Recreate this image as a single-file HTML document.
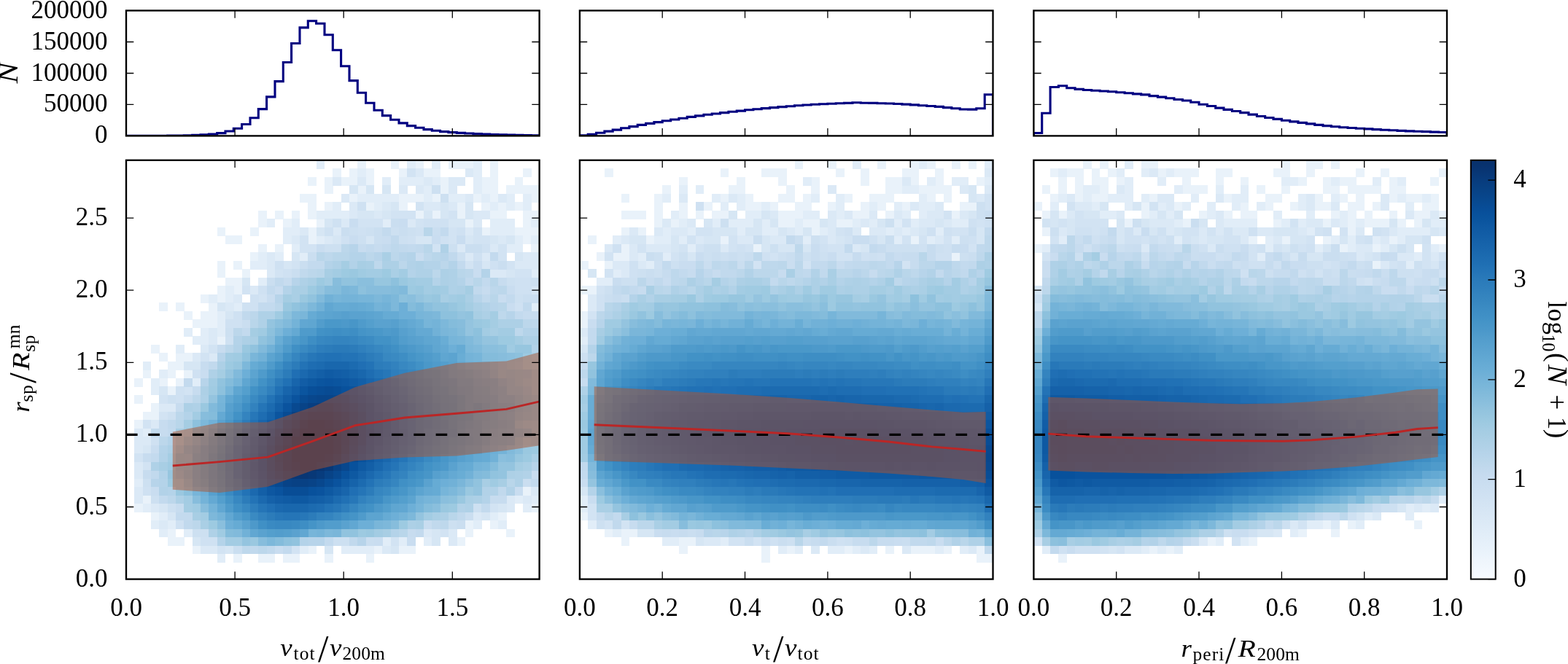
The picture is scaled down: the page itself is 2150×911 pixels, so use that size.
<!DOCTYPE html>
<html><head><meta charset="utf-8"><title>figure</title>
<style>html,body{margin:0;padding:0;background:#fff}body{width:2150px;height:911px;overflow:hidden}</style></head>
<body>
<svg width="2150" height="911" viewBox="0 0 2150 911" style="display:block">
<rect width="2150" height="911" fill="#fff"/>
<defs>
<clipPath id="c0"><rect x="173.0" y="219.8" width="566.6" height="574.8"/></clipPath>
<clipPath id="t0"><rect x="173.0" y="14.5" width="566.6" height="171.9"/></clipPath>
<clipPath id="c1"><rect x="794.9" y="219.8" width="566.6" height="574.8"/></clipPath>
<clipPath id="t1"><rect x="794.9" y="14.5" width="566.6" height="171.9"/></clipPath>
<clipPath id="c2"><rect x="1417.4" y="219.8" width="566.6" height="574.8"/></clipPath>
<clipPath id="t2"><rect x="1417.4" y="14.5" width="566.6" height="171.9"/></clipPath>
<linearGradient id="cb" x1="0" y1="1" x2="0" y2="0"><stop offset="0.0000" stop-color="#f7fbff"/><stop offset="0.0156" stop-color="#f4f9fe"/><stop offset="0.0312" stop-color="#f1f7fd"/><stop offset="0.0469" stop-color="#eef5fc"/><stop offset="0.0625" stop-color="#eaf3fb"/><stop offset="0.0781" stop-color="#e7f1fa"/><stop offset="0.0938" stop-color="#e4eff9"/><stop offset="0.1094" stop-color="#e1edf8"/><stop offset="0.1250" stop-color="#deebf7"/><stop offset="0.1406" stop-color="#dbe9f6"/><stop offset="0.1562" stop-color="#d8e7f5"/><stop offset="0.1719" stop-color="#d5e5f4"/><stop offset="0.1875" stop-color="#d2e3f3"/><stop offset="0.2031" stop-color="#cfe1f2"/><stop offset="0.2188" stop-color="#ccdff1"/><stop offset="0.2344" stop-color="#c9ddf0"/><stop offset="0.2500" stop-color="#c6dbef"/><stop offset="0.2656" stop-color="#c1d9ed"/><stop offset="0.2812" stop-color="#bcd7eb"/><stop offset="0.2969" stop-color="#b7d4ea"/><stop offset="0.3125" stop-color="#b2d2e8"/><stop offset="0.3281" stop-color="#add0e6"/><stop offset="0.3438" stop-color="#a8cee4"/><stop offset="0.3594" stop-color="#a3cce3"/><stop offset="0.3750" stop-color="#9dcae1"/><stop offset="0.3906" stop-color="#97c6df"/><stop offset="0.4062" stop-color="#91c3de"/><stop offset="0.4219" stop-color="#8abfdd"/><stop offset="0.4375" stop-color="#84bcdb"/><stop offset="0.4531" stop-color="#7db8da"/><stop offset="0.4688" stop-color="#77b5d9"/><stop offset="0.4844" stop-color="#71b1d7"/><stop offset="0.5000" stop-color="#6aaed6"/><stop offset="0.5156" stop-color="#65aad4"/><stop offset="0.5312" stop-color="#60a7d2"/><stop offset="0.5469" stop-color="#5ba3d0"/><stop offset="0.5625" stop-color="#56a0ce"/><stop offset="0.5781" stop-color="#519ccc"/><stop offset="0.5938" stop-color="#4b98ca"/><stop offset="0.6094" stop-color="#4695c8"/><stop offset="0.6250" stop-color="#4191c6"/><stop offset="0.6406" stop-color="#3d8dc4"/><stop offset="0.6562" stop-color="#3989c1"/><stop offset="0.6719" stop-color="#3585bf"/><stop offset="0.6875" stop-color="#3181bd"/><stop offset="0.7031" stop-color="#2d7dbb"/><stop offset="0.7188" stop-color="#2979b9"/><stop offset="0.7344" stop-color="#2474b7"/><stop offset="0.7500" stop-color="#2070b4"/><stop offset="0.7656" stop-color="#1d6cb1"/><stop offset="0.7812" stop-color="#1a68ae"/><stop offset="0.7969" stop-color="#1764ab"/><stop offset="0.8125" stop-color="#1460a8"/><stop offset="0.8281" stop-color="#115ca5"/><stop offset="0.8438" stop-color="#0e58a2"/><stop offset="0.8594" stop-color="#0a549e"/><stop offset="0.8750" stop-color="#08509b"/><stop offset="0.8906" stop-color="#084c95"/><stop offset="0.9062" stop-color="#08488e"/><stop offset="0.9219" stop-color="#084488"/><stop offset="0.9375" stop-color="#084082"/><stop offset="0.9531" stop-color="#083c7d"/><stop offset="0.9688" stop-color="#083776"/><stop offset="0.9844" stop-color="#083370"/><stop offset="1.0000" stop-color="#08306b"/></linearGradient>
</defs>
<g clip-path="url(#c0)" shape-rendering="crispEdges">
<path fill="#e9f2fa" d="M320.3,760.1h11.7v11.8h-11.7zM354.3,760.1h23v11.8h-23zM388.3,760.1h23v11.8h-23zM445,760.1h11.7v11.8h-11.7zM501.6,760.1h11.7v11.8h-11.7zM263.7,748.6h11.7v11.8h-11.7zM422.3,748.6h11.7v11.8h-11.7zM513,748.6h11.7v11.8h-11.7zM547,748.6h23v11.8h-23zM229.7,737.1h23v11.8h-23zM626.3,737.1h11.7v11.8h-11.7zM229.7,725.6h11.7v11.8h-11.7zM637.6,725.6h11.7v11.8h-11.7zM694.3,725.6h11.7v11.8h-11.7zM637.6,714.1h11.7v11.8h-11.7zM671.6,714.1h11.7v11.8h-11.7zM207,702.6h11.7v11.8h-11.7zM682.9,702.6h11.7v11.8h-11.7zM184.3,691.1h11.7v11.8h-11.7zM728.3,691.1h11.7v11.8h-11.7zM195.7,679.6h11.7v11.8h-11.7zM716.9,668.1h11.7v11.8h-11.7zM184.3,576.2h11.7v11.8h-11.7zM195.7,564.7h23v11.8h-23zM207,553.2h11.7v11.8h-11.7zM184.3,541.7h11.7v11.8h-11.7zM229.7,530.2h11.7v11.8h-11.7zM184.3,518.7h11.7v11.8h-11.7zM218.3,518.7h11.7v11.8h-11.7zM241,518.7h11.7v11.8h-11.7zM195.7,507.2h11.7v11.8h-11.7zM229.7,507.2h11.7v11.8h-11.7zM252.3,507.2h11.7v11.8h-11.7zM229.7,495.7h23v11.8h-23zM218.3,484.2h11.7v11.8h-11.7zM241,484.2h23v11.8h-23zM207,472.7h11.7v11.8h-11.7zM297.7,461.2h11.7v11.8h-11.7zM263.7,438.2h34.3v11.8h-34.3zM252.3,426.7h11.7v11.8h-11.7zM275,426.7h23v11.8h-23zM218.3,415.2h11.7v11.8h-11.7zM241,415.2h11.7v11.8h-11.7zM286.3,415.2h11.7v11.8h-11.7zM275,403.7h11.7v11.8h-11.7zM297.7,403.7h11.7v11.8h-11.7zM297.7,392.2h11.7v11.8h-11.7zM320.3,392.2h11.7v11.8h-11.7zM309,380.7h23v11.8h-23zM297.7,369.2h11.7v11.8h-11.7zM331.6,369.2h11.7v11.8h-11.7zM297.7,357.8h11.7v11.8h-11.7zM320.3,357.8h11.7v11.8h-11.7zM343,346.3h11.7v11.8h-11.7zM354.3,334.8h11.7v11.8h-11.7zM377,334.8h11.7v11.8h-11.7zM728.3,334.8h11.7v11.8h-11.7zM309,323.3h23v11.8h-23zM422.3,323.3h11.7v11.8h-11.7zM716.9,323.3h11.7v11.8h-11.7zM297.7,311.8h11.7v11.8h-11.7zM343,311.8h11.7v11.8h-11.7zM422.3,311.8h11.7v11.8h-11.7zM660.3,311.8h11.7v11.8h-11.7zM705.6,311.8h34.3v11.8h-34.3zM354.3,300.3h11.7v11.8h-11.7zM388.3,300.3h11.7v11.8h-11.7zM433.6,300.3h11.7v11.8h-11.7zM637.6,300.3h11.7v11.8h-11.7zM716.9,300.3h11.7v11.8h-11.7zM354.3,288.8h11.7v11.8h-11.7zM377,288.8h11.7v11.8h-11.7zM399.6,288.8h11.7v11.8h-11.7zM422.3,288.8h11.7v11.8h-11.7zM569.6,288.8h11.7v11.8h-11.7zM592.3,288.8h11.7v11.8h-11.7zM626.3,288.8h11.7v11.8h-11.7zM671.6,288.8h23v11.8h-23zM716.9,288.8h23v11.8h-23zM422.3,277.3h11.7v11.8h-11.7zM445,277.3h11.7v11.8h-11.7zM501.6,277.3h11.7v11.8h-11.7zM547,277.3h11.7v11.8h-11.7zM626.3,277.3h11.7v11.8h-11.7zM660.3,277.3h11.7v11.8h-11.7zM682.9,277.3h11.7v11.8h-11.7zM705.6,277.3h11.7v11.8h-11.7zM411,265.8h23v11.8h-23zM479,265.8h11.7v11.8h-11.7zM547,265.8h34.3v11.8h-34.3zM592.3,265.8h11.7v11.8h-11.7zM648.9,265.8h11.7v11.8h-11.7zM671.6,265.8h11.7v11.8h-11.7zM728.3,265.8h11.7v11.8h-11.7zM445,254.3h11.7v11.8h-11.7zM490.3,254.3h11.7v11.8h-11.7zM603.6,254.3h11.7v11.8h-11.7zM660.3,254.3h23v11.8h-23zM694.3,254.3h45.7v11.8h-45.7zM422.3,242.8h11.7v11.8h-11.7zM445,242.8h11.7v11.8h-11.7zM467.6,242.8h23v11.8h-23zM501.6,242.8h11.7v11.8h-11.7zM603.6,242.8h11.7v11.8h-11.7zM660.3,242.8h23v11.8h-23zM705.6,242.8h11.7v11.8h-11.7zM456.3,231.3h11.7v11.8h-11.7zM479,231.3h11.7v11.8h-11.7zM501.6,231.3h11.7v11.8h-11.7zM547,231.3h11.7v11.8h-11.7zM581,231.3h23v11.8h-23zM671.6,231.3h11.7v11.8h-11.7zM716.9,231.3h11.7v11.8h-11.7zM490.3,219.8h11.7v11.8h-11.7zM535.6,219.8h11.7v11.8h-11.7zM569.6,219.8h11.7v11.8h-11.7zM614.9,219.8h34.3v11.8h-34.3zM671.6,219.8h11.7v11.8h-11.7z"/>
<path fill="#e1edf8" d="M297.7,760.1h11.7v11.8h-11.7zM411,748.6h11.7v11.8h-11.7zM467.6,748.6h45.7v11.8h-45.7zM524.3,737.1h11.7v11.8h-11.7zM547,737.1h11.7v11.8h-11.7zM581,737.1h11.7v11.8h-11.7zM218.3,725.6h11.7v11.8h-11.7zM252.3,725.6h11.7v11.8h-11.7zM207,714.1h11.7v11.8h-11.7zM229.7,714.1h11.7v11.8h-11.7zM648.9,714.1h11.7v11.8h-11.7zM682.9,714.1h11.7v11.8h-11.7zM218.3,702.6h11.7v11.8h-11.7zM671.6,702.6h11.7v11.8h-11.7zM195.7,691.1h11.7v11.8h-11.7zM716.9,691.1h11.7v11.8h-11.7zM705.6,679.6h11.7v11.8h-11.7zM728.3,679.6h11.7v11.8h-11.7zM184.3,656.6h11.7v11.8h-11.7zM195.7,587.7h11.7v11.8h-11.7zM207,530.2h11.7v11.8h-11.7zM207,518.7h11.7v11.8h-11.7zM263.7,518.7h11.7v11.8h-11.7zM218.3,507.2h11.7v11.8h-11.7zM195.7,495.7h11.7v11.8h-11.7zM241,472.7h11.7v11.8h-11.7zM263.7,461.2h23v11.8h-23zM252.3,449.7h11.7v11.8h-11.7zM275,449.7h11.7v11.8h-11.7zM297.7,449.7h11.7v11.8h-11.7zM297.7,438.2h11.7v11.8h-11.7zM297.7,426.7h11.7v11.8h-11.7zM320.3,415.2h11.7v11.8h-11.7zM728.3,415.2h11.7v11.8h-11.7zM286.3,403.7h11.7v11.8h-11.7zM309,403.7h11.7v11.8h-11.7zM309,392.2h11.7v11.8h-11.7zM354.3,380.7h11.7v11.8h-11.7zM728.3,369.2h11.7v11.8h-11.7zM343,357.8h23v11.8h-23zM354.3,346.3h11.7v11.8h-11.7zM377,346.3h11.7v11.8h-11.7zM411,346.3h11.7v11.8h-11.7zM399.6,334.8h11.7v11.8h-11.7zM694.3,334.8h23v11.8h-23zM388.3,323.3h11.7v11.8h-11.7zM433.6,323.3h11.7v11.8h-11.7zM705.6,323.3h11.7v11.8h-11.7zM728.3,323.3h11.7v11.8h-11.7zM388.3,311.8h23v11.8h-23zM671.6,311.8h34.3v11.8h-34.3zM365.6,300.3h11.7v11.8h-11.7zM399.6,300.3h11.7v11.8h-11.7zM524.3,300.3h11.7v11.8h-11.7zM671.6,300.3h34.3v11.8h-34.3zM728.3,300.3h11.7v11.8h-11.7zM433.6,288.8h45.7v11.8h-45.7zM456.3,277.3h11.7v11.8h-11.7zM513,277.3h11.7v11.8h-11.7zM671.6,277.3h11.7v11.8h-11.7zM694.3,277.3h11.7v11.8h-11.7zM716.9,277.3h11.7v11.8h-11.7zM490.3,265.8h57v11.8h-57zM581,265.8h11.7v11.8h-11.7zM614.9,265.8h23v11.8h-23zM660.3,265.8h11.7v11.8h-11.7zM694.3,265.8h11.7v11.8h-11.7zM716.9,265.8h11.7v11.8h-11.7zM581,254.3h11.7v11.8h-11.7zM648.9,254.3h11.7v11.8h-11.7zM524.3,242.8h11.7v11.8h-11.7zM547,242.8h34.3v11.8h-34.3zM592.3,242.8h11.7v11.8h-11.7zM648.9,242.8h11.7v11.8h-11.7zM490.3,231.3h11.7v11.8h-11.7zM648.9,231.3h11.7v11.8h-11.7zM433.6,219.8h11.7v11.8h-11.7zM558.3,219.8h11.7v11.8h-11.7zM592.3,219.8h11.7v11.8h-11.7zM648.9,219.8h11.7v11.8h-11.7z"/>
<path fill="#dbe9f6" d="M275,748.6h23v11.8h-23zM524.3,748.6h11.7v11.8h-11.7zM614.9,737.1h11.7v11.8h-11.7zM581,725.6h11.7v11.8h-11.7zM614.9,725.6h11.7v11.8h-11.7zM218.3,714.1h11.7v11.8h-11.7zM648.9,702.6h11.7v11.8h-11.7zM207,691.1h11.7v11.8h-11.7zM694.3,691.1h11.7v11.8h-11.7zM184.3,679.6h11.7v11.8h-11.7zM694.3,679.6h11.7v11.8h-11.7zM716.9,679.6h11.7v11.8h-11.7zM184.3,668.1h11.7v11.8h-11.7zM728.3,668.1h11.7v11.8h-11.7zM184.3,645.2h11.7v11.8h-11.7zM184.3,633.7h11.7v11.8h-11.7zM184.3,610.7h11.7v11.8h-11.7zM184.3,599.2h23v11.8h-23zM184.3,587.7h11.7v11.8h-11.7zM207,576.2h11.7v11.8h-11.7zM218.3,553.2h23v11.8h-23zM263.7,484.2h11.7v11.8h-11.7zM286.3,484.2h11.7v11.8h-11.7zM275,472.7h11.7v11.8h-11.7zM286.3,461.2h11.7v11.8h-11.7zM286.3,449.7h11.7v11.8h-11.7zM309,415.2h11.7v11.8h-11.7zM320.3,403.7h11.7v11.8h-11.7zM343,392.2h11.7v11.8h-11.7zM365.6,369.2h11.7v11.8h-11.7zM671.6,369.2h23v11.8h-23zM365.6,357.8h11.7v11.8h-11.7zM705.6,357.8h34.3v11.8h-34.3zM365.6,346.3h11.7v11.8h-11.7zM637.6,346.3h11.7v11.8h-11.7zM660.3,346.3h11.7v11.8h-11.7zM716.9,346.3h23v11.8h-23zM626.3,334.8h11.7v11.8h-11.7zM671.6,334.8h11.7v11.8h-11.7zM399.6,323.3h11.7v11.8h-11.7zM445,323.3h11.7v11.8h-11.7zM682.9,323.3h11.7v11.8h-11.7zM411,311.8h11.7v11.8h-11.7zM456.3,311.8h11.7v11.8h-11.7zM637.6,311.8h11.7v11.8h-11.7zM467.6,300.3h11.7v11.8h-11.7zM558.3,300.3h11.7v11.8h-11.7zM648.9,300.3h11.7v11.8h-11.7zM479,288.8h11.7v11.8h-11.7zM513,288.8h11.7v11.8h-11.7zM648.9,288.8h23v11.8h-23zM479,277.3h11.7v11.8h-11.7zM524.3,277.3h11.7v11.8h-11.7zM581,277.3h23v11.8h-23zM614.9,277.3h11.7v11.8h-11.7zM467.6,265.8h11.7v11.8h-11.7zM637.6,265.8h11.7v11.8h-11.7zM682.9,265.8h11.7v11.8h-11.7zM547,254.3h11.7v11.8h-11.7zM569.6,254.3h11.7v11.8h-11.7zM614.9,254.3h11.7v11.8h-11.7zM456.3,242.8h11.7v11.8h-11.7zM490.3,242.8h11.7v11.8h-11.7zM581,242.8h11.7v11.8h-11.7zM614.9,242.8h23v11.8h-23zM569.6,231.3h11.7v11.8h-11.7zM637.6,231.3h11.7v11.8h-11.7z"/>
<path fill="#d6e6f4" d="M309,748.6h11.7v11.8h-11.7zM445,748.6h11.7v11.8h-11.7zM535.6,748.6h11.7v11.8h-11.7zM263.7,737.1h11.7v11.8h-11.7zM592.3,737.1h11.7v11.8h-11.7zM592.3,725.6h11.7v11.8h-11.7zM229.7,702.6h11.7v11.8h-11.7zM660.3,702.6h11.7v11.8h-11.7zM218.3,691.1h11.7v11.8h-11.7zM682.9,691.1h11.7v11.8h-11.7zM195.7,610.7h11.7v11.8h-11.7zM218.3,530.2h11.7v11.8h-11.7zM252.3,495.7h23v11.8h-23zM309,426.7h11.7v11.8h-11.7zM297.7,415.2h11.7v11.8h-11.7zM728.3,392.2h11.7v11.8h-11.7zM331.6,380.7h11.7v11.8h-11.7zM694.3,369.2h11.7v11.8h-11.7zM388.3,357.8h11.7v11.8h-11.7zM660.3,357.8h11.7v11.8h-11.7zM399.6,346.3h11.7v11.8h-11.7zM705.6,346.3h11.7v11.8h-11.7zM456.3,323.3h11.7v11.8h-11.7zM501.6,323.3h11.7v11.8h-11.7zM569.6,323.3h23v11.8h-23zM637.6,323.3h11.7v11.8h-11.7zM671.6,323.3h11.7v11.8h-11.7zM694.3,323.3h11.7v11.8h-11.7zM433.6,311.8h11.7v11.8h-11.7zM445,300.3h11.7v11.8h-11.7zM614.9,300.3h23v11.8h-23zM490.3,288.8h23v11.8h-23zM524.3,288.8h11.7v11.8h-11.7zM581,288.8h11.7v11.8h-11.7zM603.6,288.8h11.7v11.8h-11.7zM637.6,288.8h11.7v11.8h-11.7zM535.6,277.3h11.7v11.8h-11.7zM603.6,277.3h11.7v11.8h-11.7zM637.6,277.3h11.7v11.8h-11.7zM479,254.3h11.7v11.8h-11.7zM501.6,254.3h11.7v11.8h-11.7zM524.3,254.3h11.7v11.8h-11.7z"/>
<path fill="#d2e3f3" d="M297.7,748.6h11.7v11.8h-11.7zM399.6,748.6h11.7v11.8h-11.7zM535.6,737.1h11.7v11.8h-11.7zM603.6,725.6h11.7v11.8h-11.7zM671.6,691.1h11.7v11.8h-11.7zM195.7,633.7h11.7v11.8h-11.7zM184.3,622.2h11.7v11.8h-11.7zM195.7,576.2h11.7v11.8h-11.7zM218.3,564.7h11.7v11.8h-11.7zM218.3,541.7h11.7v11.8h-11.7zM252.3,530.2h11.7v11.8h-11.7zM275,484.2h11.7v11.8h-11.7zM286.3,472.7h11.7v11.8h-11.7zM354.3,403.7h11.7v11.8h-11.7zM331.6,392.2h11.7v11.8h-11.7zM377,369.2h11.7v11.8h-11.7zM705.6,369.2h23v11.8h-23zM399.6,357.8h11.7v11.8h-11.7zM637.6,357.8h11.7v11.8h-11.7zM694.3,357.8h11.7v11.8h-11.7zM682.9,346.3h11.7v11.8h-11.7zM411,334.8h23v11.8h-23zM592.3,334.8h11.7v11.8h-11.7zM682.9,334.8h11.7v11.8h-11.7zM411,323.3h11.7v11.8h-11.7zM614.9,323.3h11.7v11.8h-11.7zM648.9,323.3h23v11.8h-23zM614.9,311.8h11.7v11.8h-11.7zM648.9,311.8h11.7v11.8h-11.7zM490.3,300.3h34.3v11.8h-34.3zM569.6,300.3h11.7v11.8h-11.7zM535.6,288.8h34.3v11.8h-34.3zM614.9,288.8h11.7v11.8h-11.7zM569.6,277.3h11.7v11.8h-11.7zM558.3,231.3h11.7v11.8h-11.7z"/>
<path fill="#cfe1f2" d="M275,737.1h23v11.8h-23zM241,714.1h11.7v11.8h-11.7zM195.7,668.1h11.7v11.8h-11.7zM207,599.2h11.7v11.8h-11.7zM241,541.7h11.7v11.8h-11.7zM241,530.2h11.7v11.8h-11.7zM263.7,507.2h11.7v11.8h-11.7zM309,461.2h11.7v11.8h-11.7zM309,438.2h23v11.8h-23zM320.3,426.7h11.7v11.8h-11.7zM331.6,415.2h23v11.8h-23zM705.6,415.2h11.7v11.8h-11.7zM343,403.7h11.7v11.8h-11.7zM354.3,392.2h11.7v11.8h-11.7zM705.6,392.2h23v11.8h-23zM705.6,380.7h23v11.8h-23zM388.3,369.2h11.7v11.8h-11.7zM377,357.8h11.7v11.8h-11.7zM671.6,357.8h11.7v11.8h-11.7zM648.9,346.3h11.7v11.8h-11.7zM660.3,334.8h11.7v11.8h-11.7zM467.6,323.3h11.7v11.8h-11.7zM558.3,323.3h11.7v11.8h-11.7zM603.6,323.3h11.7v11.8h-11.7zM445,311.8h11.7v11.8h-11.7zM490.3,311.8h11.7v11.8h-11.7zM569.6,311.8h11.7v11.8h-11.7zM626.3,311.8h11.7v11.8h-11.7zM456.3,300.3h11.7v11.8h-11.7zM581,300.3h34.3v11.8h-34.3zM490.3,277.3h11.7v11.8h-11.7z"/>
<path fill="#cde0f1" d="M456.3,737.1h23v11.8h-23zM263.7,725.6h23v11.8h-23zM614.9,714.1h11.7v11.8h-11.7zM229.7,691.1h11.7v11.8h-11.7zM648.9,691.1h11.7v11.8h-11.7zM207,679.6h11.7v11.8h-11.7zM195.7,656.6h11.7v11.8h-11.7zM229.7,564.7h11.7v11.8h-11.7zM229.7,541.7h11.7v11.8h-11.7zM309,449.7h11.7v11.8h-11.7zM705.6,403.7h11.7v11.8h-11.7zM694.3,380.7h11.7v11.8h-11.7zM728.3,380.7h11.7v11.8h-11.7zM626.3,346.3h11.7v11.8h-11.7zM445,334.8h23v11.8h-23zM614.9,334.8h11.7v11.8h-11.7zM490.3,323.3h11.7v11.8h-11.7zM547,323.3h11.7v11.8h-11.7zM479,311.8h11.7v11.8h-11.7zM501.6,311.8h11.7v11.8h-11.7zM535.6,311.8h11.7v11.8h-11.7zM558.3,311.8h11.7v11.8h-11.7zM603.6,265.8h11.7v11.8h-11.7zM592.3,254.3h11.7v11.8h-11.7z"/>
<path fill="#cadef0" d="M320.3,748.6h11.7v11.8h-11.7zM501.6,737.1h11.7v11.8h-11.7zM626.3,714.1h11.7v11.8h-11.7zM637.6,702.6h11.7v11.8h-11.7zM716.9,656.6h11.7v11.8h-11.7zM331.6,438.2h11.7v11.8h-11.7zM716.9,403.7h23v11.8h-23zM365.6,380.7h11.7v11.8h-11.7zM399.6,369.2h11.7v11.8h-11.7zM411,357.8h11.7v11.8h-11.7zM682.9,357.8h11.7v11.8h-11.7zM422.3,346.3h11.7v11.8h-11.7zM637.6,334.8h23v11.8h-23zM513,323.3h11.7v11.8h-11.7zM467.6,311.8h11.7v11.8h-11.7zM513,311.8h11.7v11.8h-11.7zM547,311.8h11.7v11.8h-11.7zM592.3,311.8h11.7v11.8h-11.7zM535.6,300.3h11.7v11.8h-11.7z"/>
<path fill="#c9ddf0" d="M377,748.6h11.7v11.8h-11.7zM513,737.1h11.7v11.8h-11.7zM558.3,737.1h11.7v11.8h-11.7zM581,714.1h11.7v11.8h-11.7zM207,668.1h11.7v11.8h-11.7zM705.6,668.1h11.7v11.8h-11.7zM728.3,645.2h11.7v11.8h-11.7zM207,610.7h11.7v11.8h-11.7zM275,507.2h11.7v11.8h-11.7zM694.3,415.2h11.7v11.8h-11.7zM365.6,403.7h11.7v11.8h-11.7zM682.9,403.7h11.7v11.8h-11.7zM377,392.2h11.7v11.8h-11.7zM694.3,392.2h11.7v11.8h-11.7zM648.9,369.2h11.7v11.8h-11.7zM648.9,357.8h11.7v11.8h-11.7zM569.6,346.3h11.7v11.8h-11.7zM433.6,334.8h11.7v11.8h-11.7zM479,323.3h11.7v11.8h-11.7zM524.3,323.3h11.7v11.8h-11.7zM592.3,323.3h11.7v11.8h-11.7zM626.3,323.3h11.7v11.8h-11.7zM479,300.3h11.7v11.8h-11.7zM547,300.3h11.7v11.8h-11.7z"/>
<path fill="#c7dcef" d="M558.3,725.6h11.7v11.8h-11.7zM241,691.1h11.7v11.8h-11.7zM671.6,679.6h23v11.8h-23zM195.7,645.2h11.7v11.8h-11.7zM195.7,622.2h11.7v11.8h-11.7zM218.3,587.7h11.7v11.8h-11.7zM218.3,576.2h11.7v11.8h-11.7zM241,553.2h11.7v11.8h-11.7zM252.3,541.7h11.7v11.8h-11.7zM263.7,530.2h11.7v11.8h-11.7zM275,495.7h11.7v11.8h-11.7zM297.7,472.7h11.7v11.8h-11.7zM716.9,426.7h23v11.8h-23zM660.3,392.2h11.7v11.8h-11.7zM388.3,380.7h11.7v11.8h-11.7zM682.9,380.7h11.7v11.8h-11.7zM490.3,334.8h11.7v11.8h-11.7zM513,334.8h11.7v11.8h-11.7z"/>
<path fill="#c3daee" d="M388.3,748.6h11.7v11.8h-11.7zM445,737.1h11.7v11.8h-11.7zM569.6,725.6h11.7v11.8h-11.7zM241,702.6h23v11.8h-23zM660.3,691.1h11.7v11.8h-11.7zM218.3,679.6h11.7v11.8h-11.7zM728.3,656.6h11.7v11.8h-11.7zM207,622.2h11.7v11.8h-11.7zM207,587.7h11.7v11.8h-11.7zM229.7,587.7h11.7v11.8h-11.7zM252.3,518.7h11.7v11.8h-11.7zM331.6,449.7h11.7v11.8h-11.7zM705.6,426.7h11.7v11.8h-11.7zM354.3,415.2h23v11.8h-23zM694.3,403.7h11.7v11.8h-11.7zM365.6,392.2h11.7v11.8h-11.7zM660.3,380.7h11.7v11.8h-11.7zM422.3,357.8h23v11.8h-23zM626.3,357.8h11.7v11.8h-11.7zM671.6,346.3h11.7v11.8h-11.7zM501.6,334.8h11.7v11.8h-11.7zM524.3,334.8h11.7v11.8h-11.7zM558.3,334.8h11.7v11.8h-11.7zM524.3,311.8h11.7v11.8h-11.7zM603.6,311.8h11.7v11.8h-11.7z"/>
<path fill="#c1d9ed" d="M343,748.6h11.7v11.8h-11.7zM365.6,748.6h11.7v11.8h-11.7zM479,737.1h11.7v11.8h-11.7zM252.3,714.1h11.7v11.8h-11.7zM592.3,714.1h11.7v11.8h-11.7zM626.3,702.6h11.7v11.8h-11.7zM682.9,668.1h11.7v11.8h-11.7zM207,645.2h11.7v11.8h-11.7zM229.7,576.2h11.7v11.8h-11.7zM286.3,495.7h11.7v11.8h-11.7zM331.6,426.7h11.7v11.8h-11.7zM716.9,415.2h11.7v11.8h-11.7zM660.3,403.7h11.7v11.8h-11.7zM648.9,392.2h11.7v11.8h-11.7zM377,380.7h11.7v11.8h-11.7zM637.6,380.7h11.7v11.8h-11.7zM411,369.2h11.7v11.8h-11.7zM614.9,346.3h11.7v11.8h-11.7zM547,334.8h11.7v11.8h-11.7zM569.6,334.8h11.7v11.8h-11.7zM535.6,323.3h11.7v11.8h-11.7z"/>
<path fill="#bed8ec" d="M331.6,748.6h11.7v11.8h-11.7zM603.6,714.1h11.7v11.8h-11.7zM705.6,449.7h11.7v11.8h-11.7zM728.3,438.2h11.7v11.8h-11.7zM682.9,426.7h11.7v11.8h-11.7zM671.6,392.2h11.7v11.8h-11.7zM513,357.8h11.7v11.8h-11.7zM445,346.3h11.7v11.8h-11.7zM581,346.3h11.7v11.8h-11.7zM535.6,334.8h11.7v11.8h-11.7z"/>
<path fill="#bcd7eb" d="M354.3,748.6h11.7v11.8h-11.7zM263.7,714.1h11.7v11.8h-11.7zM229.7,679.6h11.7v11.8h-11.7zM218.3,599.2h11.7v11.8h-11.7zM241,564.7h11.7v11.8h-11.7zM263.7,541.7h11.7v11.8h-11.7zM309,472.7h11.7v11.8h-11.7zM320.3,449.7h11.7v11.8h-11.7zM716.9,438.2h11.7v11.8h-11.7zM343,426.7h11.7v11.8h-11.7zM377,415.2h11.7v11.8h-11.7zM682.9,392.2h11.7v11.8h-11.7zM422.3,369.2h11.7v11.8h-11.7zM592.3,369.2h11.7v11.8h-11.7zM637.6,369.2h11.7v11.8h-11.7zM547,357.8h11.7v11.8h-11.7zM603.6,357.8h11.7v11.8h-11.7zM501.6,346.3h11.7v11.8h-11.7zM535.6,346.3h11.7v11.8h-11.7zM467.6,334.8h11.7v11.8h-11.7z"/>
<path fill="#b9d6ea" d="M547,725.6h11.7v11.8h-11.7zM614.9,702.6h11.7v11.8h-11.7zM694.3,656.6h11.7v11.8h-11.7zM241,576.2h11.7v11.8h-11.7zM343,438.2h11.7v11.8h-11.7zM682.9,415.2h11.7v11.8h-11.7zM671.6,403.7h11.7v11.8h-11.7zM648.9,380.7h11.7v11.8h-11.7zM671.6,380.7h11.7v11.8h-11.7zM433.6,369.2h11.7v11.8h-11.7zM626.3,369.2h11.7v11.8h-11.7zM433.6,346.3h11.7v11.8h-11.7zM456.3,346.3h23v11.8h-23zM592.3,346.3h11.7v11.8h-11.7zM581,334.8h11.7v11.8h-11.7zM581,311.8h11.7v11.8h-11.7z"/>
<path fill="#b7d4ea" d="M422.3,737.1h23v11.8h-23zM490.3,737.1h11.7v11.8h-11.7zM207,656.6h11.7v11.8h-11.7zM728.3,633.7h11.7v11.8h-11.7zM275,518.7h11.7v11.8h-11.7zM297.7,484.2h11.7v11.8h-11.7zM694.3,426.7h11.7v11.8h-11.7zM671.6,415.2h11.7v11.8h-11.7zM377,403.7h11.7v11.8h-11.7zM648.9,403.7h11.7v11.8h-11.7zM399.6,380.7h11.7v11.8h-11.7zM513,346.3h11.7v11.8h-11.7zM547,346.3h11.7v11.8h-11.7zM603.6,346.3h11.7v11.8h-11.7zM479,334.8h11.7v11.8h-11.7z"/>
<path fill="#b4d3e9" d="M297.7,737.1h11.7v11.8h-11.7zM411,737.1h11.7v11.8h-11.7zM535.6,725.6h11.7v11.8h-11.7zM660.3,679.6h11.7v11.8h-11.7zM229.7,668.1h11.7v11.8h-11.7zM218.3,656.6h11.7v11.8h-11.7zM218.3,610.7h11.7v11.8h-11.7zM229.7,599.2h11.7v11.8h-11.7zM252.3,564.7h11.7v11.8h-11.7zM320.3,461.2h11.7v11.8h-11.7zM716.9,449.7h23v11.8h-23zM388.3,392.2h11.7v11.8h-11.7zM592.3,380.7h11.7v11.8h-11.7zM626.3,380.7h11.7v11.8h-11.7zM558.3,369.2h11.7v11.8h-11.7zM660.3,369.2h11.7v11.8h-11.7zM445,357.8h11.7v11.8h-11.7zM581,357.8h23v11.8h-23zM614.9,357.8h11.7v11.8h-11.7zM479,346.3h23v11.8h-23zM558.3,346.3h11.7v11.8h-11.7z"/>
<path fill="#b2d2e8" d="M626.3,691.1h11.7v11.8h-11.7zM218.3,668.1h11.7v11.8h-11.7zM660.3,668.1h23v11.8h-23zM694.3,668.1h11.7v11.8h-11.7zM218.3,645.2h11.7v11.8h-11.7zM716.9,645.2h11.7v11.8h-11.7zM218.3,622.2h11.7v11.8h-11.7zM320.3,472.7h11.7v11.8h-11.7zM728.3,472.7h11.7v11.8h-11.7zM660.3,415.2h11.7v11.8h-11.7zM479,357.8h11.7v11.8h-11.7zM558.3,357.8h11.7v11.8h-11.7z"/>
<path fill="#afd1e7" d="M286.3,725.6h11.7v11.8h-11.7zM637.6,691.1h11.7v11.8h-11.7zM705.6,656.6h11.7v11.8h-11.7zM705.6,645.2h11.7v11.8h-11.7zM207,633.7h11.7v11.8h-11.7zM263.7,553.2h11.7v11.8h-11.7zM275,541.7h11.7v11.8h-11.7zM286.3,507.2h11.7v11.8h-11.7zM354.3,438.2h11.7v11.8h-11.7zM354.3,426.7h23v11.8h-23zM614.9,392.2h11.7v11.8h-11.7zM411,380.7h11.7v11.8h-11.7zM614.9,380.7h11.7v11.8h-11.7zM569.6,369.2h23v11.8h-23zM614.9,369.2h11.7v11.8h-11.7zM456.3,357.8h11.7v11.8h-11.7zM569.6,357.8h11.7v11.8h-11.7zM603.6,334.8h11.7v11.8h-11.7z"/>
<path fill="#add0e6" d="M558.3,714.1h11.7v11.8h-11.7zM603.6,702.6h11.7v11.8h-11.7zM241,679.6h11.7v11.8h-11.7zM648.9,679.6h11.7v11.8h-11.7zM694.3,645.2h11.7v11.8h-11.7zM229.7,610.7h11.7v11.8h-11.7zM252.3,553.2h11.7v11.8h-11.7zM275,530.2h11.7v11.8h-11.7zM297.7,495.7h11.7v11.8h-11.7zM331.6,461.2h11.7v11.8h-11.7zM716.9,461.2h23v11.8h-23zM682.9,438.2h34.3v11.8h-34.3zM660.3,426.7h11.7v11.8h-11.7zM648.9,415.2h11.7v11.8h-11.7zM626.3,392.2h11.7v11.8h-11.7zM603.6,380.7h11.7v11.8h-11.7zM603.6,369.2h11.7v11.8h-11.7zM524.3,357.8h23v11.8h-23z"/>
<path fill="#aacfe5" d="M275,714.1h11.7v11.8h-11.7zM569.6,714.1h11.7v11.8h-11.7zM592.3,702.6h11.7v11.8h-11.7zM637.6,679.6h11.7v11.8h-11.7zM716.9,633.7h11.7v11.8h-11.7zM728.3,622.2h11.7v11.8h-11.7zM343,461.2h11.7v11.8h-11.7zM399.6,403.7h11.7v11.8h-11.7zM637.6,403.7h11.7v11.8h-11.7zM399.6,392.2h23v11.8h-23zM422.3,380.7h11.7v11.8h-11.7zM535.6,369.2h11.7v11.8h-11.7zM501.6,357.8h11.7v11.8h-11.7zM524.3,346.3h11.7v11.8h-11.7z"/>
<path fill="#a8cee4" d="M524.3,725.6h11.7v11.8h-11.7zM263.7,702.6h11.7v11.8h-11.7zM660.3,656.6h11.7v11.8h-11.7zM682.9,656.6h11.7v11.8h-11.7zM218.3,633.7h11.7v11.8h-11.7zM241,587.7h11.7v11.8h-11.7zM671.6,449.7h11.7v11.8h-11.7zM648.9,426.7h11.7v11.8h-11.7zM603.6,403.7h11.7v11.8h-11.7zM445,369.2h11.7v11.8h-11.7zM490.3,357.8h11.7v11.8h-11.7z"/>
<path fill="#a5cde3" d="M252.3,691.1h11.7v11.8h-11.7zM705.6,633.7h11.7v11.8h-11.7zM229.7,622.2h11.7v11.8h-11.7zM252.3,576.2h11.7v11.8h-11.7zM297.7,507.2h11.7v11.8h-11.7zM728.3,495.7h11.7v11.8h-11.7zM728.3,484.2h11.7v11.8h-11.7zM705.6,461.2h11.7v11.8h-11.7zM343,449.7h11.7v11.8h-11.7zM671.6,438.2h11.7v11.8h-11.7zM671.6,426.7h11.7v11.8h-11.7zM637.6,415.2h11.7v11.8h-11.7zM388.3,403.7h11.7v11.8h-11.7zM637.6,392.2h11.7v11.8h-11.7zM467.6,357.8h11.7v11.8h-11.7z"/>
<path fill="#a3cce3" d="M309,737.1h23v11.8h-23zM513,725.6h11.7v11.8h-11.7zM275,702.6h11.7v11.8h-11.7zM581,702.6h11.7v11.8h-11.7zM252.3,679.6h11.7v11.8h-11.7zM241,599.2h11.7v11.8h-11.7zM263.7,564.7h11.7v11.8h-11.7zM286.3,518.7h11.7v11.8h-11.7zM309,484.2h11.7v11.8h-11.7zM660.3,449.7h11.7v11.8h-11.7zM682.9,449.7h23v11.8h-23zM614.9,403.7h11.7v11.8h-11.7zM581,392.2h11.7v11.8h-11.7zM603.6,392.2h11.7v11.8h-11.7zM445,380.7h11.7v11.8h-11.7zM569.6,380.7h23v11.8h-23zM456.3,369.2h11.7v11.8h-11.7zM501.6,369.2h23v11.8h-23zM547,369.2h11.7v11.8h-11.7z"/>
<path fill="#a0cbe2" d="M297.7,725.6h11.7v11.8h-11.7zM263.7,691.1h11.7v11.8h-11.7zM671.6,656.6h11.7v11.8h-11.7zM229.7,633.7h11.7v11.8h-11.7zM252.3,587.7h11.7v11.8h-11.7zM286.3,530.2h11.7v11.8h-11.7zM320.3,484.2h11.7v11.8h-11.7zM694.3,472.7h11.7v11.8h-11.7zM354.3,449.7h11.7v11.8h-11.7zM377,426.7h11.7v11.8h-11.7zM626.3,403.7h11.7v11.8h-11.7zM592.3,392.2h11.7v11.8h-11.7zM558.3,380.7h11.7v11.8h-11.7zM490.3,369.2h11.7v11.8h-11.7z"/>
<path fill="#9dcae1" d="M490.3,725.6h11.7v11.8h-11.7zM286.3,714.1h11.7v11.8h-11.7zM547,714.1h11.7v11.8h-11.7zM614.9,691.1h11.7v11.8h-11.7zM229.7,656.6h11.7v11.8h-11.7zM716.9,622.2h11.7v11.8h-11.7zM728.3,610.7h11.7v11.8h-11.7zM309,495.7h11.7v11.8h-11.7zM716.9,495.7h11.7v11.8h-11.7zM716.9,484.2h11.7v11.8h-11.7zM682.9,461.2h23v11.8h-23zM660.3,438.2h11.7v11.8h-11.7zM626.3,415.2h11.7v11.8h-11.7zM422.3,392.2h11.7v11.8h-11.7zM558.3,392.2h11.7v11.8h-11.7zM433.6,380.7h11.7v11.8h-11.7zM467.6,369.2h11.7v11.8h-11.7zM524.3,369.2h11.7v11.8h-11.7z"/>
<path fill="#9ac8e0" d="M343,737.1h11.7v11.8h-11.7zM501.6,725.6h11.7v11.8h-11.7zM603.6,691.1h11.7v11.8h-11.7zM626.3,679.6h11.7v11.8h-11.7zM241,668.1h11.7v11.8h-11.7zM637.6,668.1h11.7v11.8h-11.7zM241,656.6h11.7v11.8h-11.7zM716.9,610.7h11.7v11.8h-11.7zM275,553.2h11.7v11.8h-11.7zM331.6,472.7h11.7v11.8h-11.7zM648.9,438.2h11.7v11.8h-11.7zM388.3,415.2h11.7v11.8h-11.7zM411,403.7h11.7v11.8h-11.7zM581,403.7h11.7v11.8h-11.7zM569.6,392.2h11.7v11.8h-11.7zM547,380.7h11.7v11.8h-11.7zM479,369.2h11.7v11.8h-11.7z"/>
<path fill="#97c6df" d="M229.7,645.2h11.7v11.8h-11.7zM705.6,622.2h11.7v11.8h-11.7zM716.9,599.2h11.7v11.8h-11.7zM320.3,495.7h11.7v11.8h-11.7zM705.6,472.7h23v11.8h-23zM614.9,415.2h11.7v11.8h-11.7zM592.3,403.7h11.7v11.8h-11.7zM513,380.7h23v11.8h-23z"/>
<path fill="#94c4df" d="M331.6,737.1h11.7v11.8h-11.7zM569.6,702.6h11.7v11.8h-11.7zM648.9,668.1h11.7v11.8h-11.7zM682.9,645.2h11.7v11.8h-11.7zM682.9,633.7h23v11.8h-23zM241,610.7h11.7v11.8h-11.7zM286.3,541.7h11.7v11.8h-11.7zM728.3,530.2h11.7v11.8h-11.7zM728.3,518.7h11.7v11.8h-11.7zM309,507.2h11.7v11.8h-11.7zM728.3,507.2h11.7v11.8h-11.7zM660.3,461.2h23v11.8h-23zM637.6,449.7h11.7v11.8h-11.7zM365.6,438.2h11.7v11.8h-11.7zM637.6,438.2h11.7v11.8h-11.7zM626.3,426.7h11.7v11.8h-11.7zM569.6,403.7h11.7v11.8h-11.7zM433.6,392.2h11.7v11.8h-11.7z"/>
<path fill="#91c3de" d="M399.6,737.1h11.7v11.8h-11.7zM467.6,725.6h23v11.8h-23zM648.9,656.6h11.7v11.8h-11.7zM671.6,645.2h11.7v11.8h-11.7zM728.3,599.2h11.7v11.8h-11.7zM728.3,587.7h11.7v11.8h-11.7zM728.3,576.2h11.7v11.8h-11.7zM297.7,518.7h11.7v11.8h-11.7zM705.6,495.7h11.7v11.8h-11.7zM331.6,484.2h11.7v11.8h-11.7zM343,472.7h11.7v11.8h-11.7zM354.3,461.2h11.7v11.8h-11.7zM637.6,426.7h11.7v11.8h-11.7zM399.6,415.2h11.7v11.8h-11.7zM592.3,415.2h23v11.8h-23zM422.3,403.7h11.7v11.8h-11.7zM467.6,380.7h23v11.8h-23z"/>
<path fill="#8dc1dd" d="M388.3,737.1h11.7v11.8h-11.7zM614.9,679.6h11.7v11.8h-11.7zM252.3,668.1h11.7v11.8h-11.7zM252.3,599.2h11.7v11.8h-11.7zM263.7,576.2h11.7v11.8h-11.7zM716.9,576.2h11.7v11.8h-11.7zM297.7,530.2h11.7v11.8h-11.7zM716.9,518.7h11.7v11.8h-11.7zM694.3,495.7h11.7v11.8h-11.7zM705.6,484.2h11.7v11.8h-11.7zM682.9,472.7h11.7v11.8h-11.7zM365.6,449.7h11.7v11.8h-11.7zM648.9,449.7h11.7v11.8h-11.7zM388.3,426.7h11.7v11.8h-11.7zM603.6,426.7h23v11.8h-23zM547,403.7h11.7v11.8h-11.7zM490.3,392.2h11.7v11.8h-11.7zM535.6,380.7h11.7v11.8h-11.7z"/>
<path fill="#8abfdd" d="M297.7,714.1h11.7v11.8h-11.7zM592.3,691.1h11.7v11.8h-11.7zM603.6,679.6h11.7v11.8h-11.7zM241,645.2h11.7v11.8h-11.7zM682.9,622.2h11.7v11.8h-11.7zM705.6,610.7h11.7v11.8h-11.7zM728.3,541.7h11.7v11.8h-11.7zM694.3,484.2h11.7v11.8h-11.7zM660.3,472.7h23v11.8h-23zM648.9,461.2h11.7v11.8h-11.7zM377,438.2h11.7v11.8h-11.7zM411,415.2h11.7v11.8h-11.7zM581,415.2h11.7v11.8h-11.7zM558.3,403.7h11.7v11.8h-11.7zM490.3,380.7h23v11.8h-23z"/>
<path fill="#87bddc" d="M354.3,737.1h11.7v11.8h-11.7zM535.6,714.1h11.7v11.8h-11.7zM275,691.1h11.7v11.8h-11.7zM263.7,679.6h11.7v11.8h-11.7zM626.3,668.1h11.7v11.8h-11.7zM637.6,656.6h11.7v11.8h-11.7zM241,633.7h11.7v11.8h-11.7zM252.3,622.2h11.7v11.8h-11.7zM694.3,622.2h11.7v11.8h-11.7zM275,564.7h11.7v11.8h-11.7zM728.3,564.7h11.7v11.8h-11.7zM728.3,553.2h11.7v11.8h-11.7zM716.9,530.2h11.7v11.8h-11.7zM716.9,507.2h11.7v11.8h-11.7zM682.9,495.7h11.7v11.8h-11.7zM682.9,484.2h11.7v11.8h-11.7zM365.6,461.2h11.7v11.8h-11.7zM626.3,438.2h11.7v11.8h-11.7zM445,392.2h11.7v11.8h-11.7zM501.6,392.2h34.3v11.8h-34.3zM456.3,380.7h11.7v11.8h-11.7z"/>
<path fill="#84bcdb" d="M377,737.1h11.7v11.8h-11.7zM309,725.6h11.7v11.8h-11.7zM581,691.1h11.7v11.8h-11.7zM252.3,656.6h11.7v11.8h-11.7zM660.3,645.2h11.7v11.8h-11.7zM671.6,633.7h11.7v11.8h-11.7zM241,622.2h11.7v11.8h-11.7zM705.6,599.2h11.7v11.8h-11.7zM705.6,576.2h11.7v11.8h-11.7zM286.3,564.7h11.7v11.8h-11.7zM309,518.7h11.7v11.8h-11.7zM705.6,518.7h11.7v11.8h-11.7zM682.9,507.2h11.7v11.8h-11.7zM705.6,507.2h11.7v11.8h-11.7zM660.3,484.2h23v11.8h-23zM626.3,449.7h11.7v11.8h-11.7zM614.9,438.2h11.7v11.8h-11.7zM558.3,415.2h11.7v11.8h-11.7zM456.3,392.2h11.7v11.8h-11.7zM535.6,392.2h11.7v11.8h-11.7z"/>
<path fill="#81badb" d="M320.3,725.6h11.7v11.8h-11.7zM648.9,645.2h11.7v11.8h-11.7zM252.3,633.7h11.7v11.8h-11.7zM694.3,610.7h11.7v11.8h-11.7zM263.7,587.7h11.7v11.8h-11.7zM716.9,564.7h11.7v11.8h-11.7zM286.3,553.2h11.7v11.8h-11.7zM716.9,541.7h11.7v11.8h-11.7zM320.3,507.2h11.7v11.8h-11.7zM694.3,507.2h11.7v11.8h-11.7zM354.3,472.7h11.7v11.8h-11.7zM648.9,472.7h11.7v11.8h-11.7zM637.6,461.2h11.7v11.8h-11.7zM388.3,438.2h11.7v11.8h-11.7zM433.6,403.7h11.7v11.8h-11.7zM547,392.2h11.7v11.8h-11.7z"/>
<path fill="#7db8da" d="M365.6,737.1h11.7v11.8h-11.7zM445,725.6h11.7v11.8h-11.7zM524.3,714.1h11.7v11.8h-11.7zM286.3,702.6h11.7v11.8h-11.7zM558.3,702.6h11.7v11.8h-11.7zM614.9,668.1h11.7v11.8h-11.7zM252.3,610.7h11.7v11.8h-11.7zM263.7,599.2h11.7v11.8h-11.7zM716.9,587.7h11.7v11.8h-11.7zM275,576.2h11.7v11.8h-11.7zM716.9,553.2h11.7v11.8h-11.7zM694.3,530.2h23v11.8h-23zM694.3,518.7h11.7v11.8h-11.7zM331.6,495.7h11.7v11.8h-11.7zM671.6,495.7h11.7v11.8h-11.7zM637.6,472.7h11.7v11.8h-11.7zM377,449.7h11.7v11.8h-11.7zM614.9,449.7h11.7v11.8h-11.7zM603.6,438.2h11.7v11.8h-11.7zM399.6,426.7h11.7v11.8h-11.7zM592.3,426.7h11.7v11.8h-11.7zM422.3,415.2h11.7v11.8h-11.7zM535.6,415.2h11.7v11.8h-11.7zM569.6,415.2h11.7v11.8h-11.7zM513,403.7h11.7v11.8h-11.7zM535.6,403.7h11.7v11.8h-11.7zM479,392.2h11.7v11.8h-11.7z"/>
<path fill="#7ab6d9" d="M456.3,725.6h11.7v11.8h-11.7zM513,714.1h11.7v11.8h-11.7zM592.3,679.6h11.7v11.8h-11.7zM626.3,656.6h11.7v11.8h-11.7zM252.3,645.2h11.7v11.8h-11.7zM705.6,564.7h11.7v11.8h-11.7zM343,484.2h11.7v11.8h-11.7zM626.3,461.2h11.7v11.8h-11.7zM603.6,449.7h11.7v11.8h-11.7zM411,426.7h11.7v11.8h-11.7zM581,426.7h11.7v11.8h-11.7zM467.6,392.2h11.7v11.8h-11.7z"/>
<path fill="#77b5d9" d="M422.3,725.6h11.7v11.8h-11.7zM569.6,691.1h11.7v11.8h-11.7zM581,679.6h11.7v11.8h-11.7zM263.7,668.1h11.7v11.8h-11.7zM603.6,668.1h11.7v11.8h-11.7zM660.3,633.7h11.7v11.8h-11.7zM275,587.7h11.7v11.8h-11.7zM705.6,587.7h11.7v11.8h-11.7zM705.6,553.2h11.7v11.8h-11.7zM297.7,541.7h11.7v11.8h-11.7zM705.6,541.7h11.7v11.8h-11.7zM309,530.2h11.7v11.8h-11.7zM320.3,518.7h11.7v11.8h-11.7zM671.6,507.2h11.7v11.8h-11.7zM648.9,484.2h11.7v11.8h-11.7zM614.9,461.2h11.7v11.8h-11.7zM581,438.2h11.7v11.8h-11.7zM569.6,426.7h11.7v11.8h-11.7zM456.3,403.7h11.7v11.8h-11.7zM490.3,403.7h23v11.8h-23zM524.3,403.7h11.7v11.8h-11.7z"/>
<path fill="#74b3d8" d="M433.6,725.6h11.7v11.8h-11.7zM297.7,702.6h11.7v11.8h-11.7zM547,702.6h11.7v11.8h-11.7zM286.3,691.1h11.7v11.8h-11.7zM275,679.6h11.7v11.8h-11.7zM648.9,633.7h11.7v11.8h-11.7zM682.9,610.7h11.7v11.8h-11.7zM297.7,553.2h11.7v11.8h-11.7zM682.9,518.7h11.7v11.8h-11.7zM660.3,495.7h11.7v11.8h-11.7zM637.6,484.2h11.7v11.8h-11.7zM399.6,438.2h11.7v11.8h-11.7zM592.3,438.2h11.7v11.8h-11.7zM513,415.2h11.7v11.8h-11.7zM467.6,403.7h23v11.8h-23z"/>
<path fill="#71b1d7" d="M331.6,725.6h11.7v11.8h-11.7zM569.6,679.6h11.7v11.8h-11.7zM614.9,656.6h11.7v11.8h-11.7zM637.6,645.2h11.7v11.8h-11.7zM671.6,622.2h11.7v11.8h-11.7zM263.7,610.7h11.7v11.8h-11.7zM286.3,576.2h11.7v11.8h-11.7zM648.9,495.7h11.7v11.8h-11.7zM354.3,484.2h11.7v11.8h-11.7zM365.6,472.7h11.7v11.8h-11.7zM592.3,449.7h11.7v11.8h-11.7zM433.6,415.2h11.7v11.8h-11.7zM524.3,415.2h11.7v11.8h-11.7zM445,403.7h11.7v11.8h-11.7z"/>
<path fill="#6dafd7" d="M309,714.1h11.7v11.8h-11.7zM490.3,714.1h23v11.8h-23zM535.6,702.6h11.7v11.8h-11.7zM558.3,691.1h11.7v11.8h-11.7zM275,668.1h11.7v11.8h-11.7zM603.6,656.6h11.7v11.8h-11.7zM671.6,610.7h11.7v11.8h-11.7zM275,599.2h11.7v11.8h-11.7zM694.3,599.2h11.7v11.8h-11.7zM694.3,587.7h11.7v11.8h-11.7zM694.3,564.7h11.7v11.8h-11.7zM682.9,541.7h23v11.8h-23zM682.9,530.2h11.7v11.8h-11.7zM331.6,507.2h11.7v11.8h-11.7zM660.3,507.2h11.7v11.8h-11.7zM637.6,495.7h11.7v11.8h-11.7zM614.9,472.7h11.7v11.8h-11.7zM388.3,449.7h11.7v11.8h-11.7zM547,426.7h23v11.8h-23zM547,415.2h11.7v11.8h-11.7z"/>
<path fill="#69add5" d="M263.7,656.6h11.7v11.8h-11.7zM626.3,645.2h11.7v11.8h-11.7zM263.7,633.7h11.7v11.8h-11.7zM263.7,622.2h11.7v11.8h-11.7zM682.9,599.2h11.7v11.8h-11.7zM682.9,587.7h11.7v11.8h-11.7zM694.3,576.2h11.7v11.8h-11.7zM682.9,564.7h11.7v11.8h-11.7zM626.3,484.2h11.7v11.8h-11.7zM377,461.2h11.7v11.8h-11.7zM603.6,461.2h11.7v11.8h-11.7zM569.6,438.2h11.7v11.8h-11.7zM501.6,415.2h11.7v11.8h-11.7z"/>
<path fill="#66abd4" d="M320.3,714.1h11.7v11.8h-11.7zM524.3,702.6h11.7v11.8h-11.7zM592.3,668.1h11.7v11.8h-11.7zM592.3,656.6h11.7v11.8h-11.7zM263.7,645.2h11.7v11.8h-11.7zM637.6,633.7h11.7v11.8h-11.7zM660.3,622.2h11.7v11.8h-11.7zM660.3,610.7h11.7v11.8h-11.7zM671.6,599.2h11.7v11.8h-11.7zM694.3,553.2h11.7v11.8h-11.7zM671.6,530.2h11.7v11.8h-11.7zM671.6,518.7h11.7v11.8h-11.7zM648.9,507.2h11.7v11.8h-11.7zM343,495.7h11.7v11.8h-11.7zM626.3,472.7h11.7v11.8h-11.7zM422.3,426.7h11.7v11.8h-11.7zM524.3,426.7h23v11.8h-23zM456.3,415.2h23v11.8h-23zM490.3,415.2h11.7v11.8h-11.7z"/>
<path fill="#64a9d3" d="M286.3,679.6h11.7v11.8h-11.7zM581,668.1h11.7v11.8h-11.7zM614.9,645.2h11.7v11.8h-11.7zM626.3,633.7h11.7v11.8h-11.7zM648.9,622.2h11.7v11.8h-11.7zM286.3,587.7h11.7v11.8h-11.7zM671.6,587.7h11.7v11.8h-11.7zM682.9,576.2h11.7v11.8h-11.7zM297.7,564.7h11.7v11.8h-11.7zM682.9,553.2h11.7v11.8h-11.7zM660.3,518.7h11.7v11.8h-11.7zM626.3,495.7h11.7v11.8h-11.7zM603.6,472.7h11.7v11.8h-11.7zM399.6,449.7h11.7v11.8h-11.7zM569.6,449.7h23v11.8h-23zM558.3,438.2h11.7v11.8h-11.7zM479,415.2h11.7v11.8h-11.7z"/>
<path fill="#61a7d2" d="M343,725.6h11.7v11.8h-11.7zM411,725.6h11.7v11.8h-11.7zM479,714.1h11.7v11.8h-11.7zM309,702.6h11.7v11.8h-11.7zM297.7,691.1h11.7v11.8h-11.7zM547,691.1h11.7v11.8h-11.7zM275,622.2h11.7v11.8h-11.7zM275,610.7h11.7v11.8h-11.7zM671.6,564.7h11.7v11.8h-11.7zM309,541.7h11.7v11.8h-11.7zM671.6,541.7h11.7v11.8h-11.7zM648.9,518.7h11.7v11.8h-11.7zM592.3,461.2h11.7v11.8h-11.7zM411,438.2h11.7v11.8h-11.7zM445,415.2h11.7v11.8h-11.7z"/>
<path fill="#5fa6d1" d="M535.6,691.1h11.7v11.8h-11.7zM275,656.6h11.7v11.8h-11.7zM660.3,587.7h11.7v11.8h-11.7zM671.6,576.2h11.7v11.8h-11.7zM671.6,553.2h11.7v11.8h-11.7zM320.3,530.2h11.7v11.8h-11.7zM660.3,530.2h11.7v11.8h-11.7zM331.6,518.7h11.7v11.8h-11.7zM637.6,507.2h11.7v11.8h-11.7zM354.3,495.7h11.7v11.8h-11.7zM603.6,484.2h11.7v11.8h-11.7zM377,472.7h11.7v11.8h-11.7zM592.3,472.7h11.7v11.8h-11.7zM581,461.2h11.7v11.8h-11.7zM422.3,438.2h11.7v11.8h-11.7zM547,438.2h11.7v11.8h-11.7zM433.6,426.7h11.7v11.8h-11.7zM513,426.7h11.7v11.8h-11.7z"/>
<path fill="#5ca4d0" d="M501.6,702.6h23v11.8h-23zM558.3,679.6h11.7v11.8h-11.7zM569.6,668.1h11.7v11.8h-11.7zM603.6,645.2h11.7v11.8h-11.7zM637.6,622.2h11.7v11.8h-11.7zM660.3,599.2h11.7v11.8h-11.7zM660.3,576.2h11.7v11.8h-11.7zM660.3,541.7h11.7v11.8h-11.7zM648.9,530.2h11.7v11.8h-11.7zM343,507.2h11.7v11.8h-11.7zM365.6,484.2h11.7v11.8h-11.7zM614.9,484.2h11.7v11.8h-11.7zM558.3,449.7h11.7v11.8h-11.7zM445,426.7h11.7v11.8h-11.7zM501.6,426.7h11.7v11.8h-11.7z"/>
<path fill="#5aa2cf" d="M354.3,725.6h11.7v11.8h-11.7zM399.6,725.6h11.7v11.8h-11.7zM331.6,714.1h11.7v11.8h-11.7zM467.6,714.1h11.7v11.8h-11.7zM581,656.6h11.7v11.8h-11.7zM275,645.2h11.7v11.8h-11.7zM275,633.7h11.7v11.8h-11.7zM614.9,633.7h11.7v11.8h-11.7zM648.9,610.7h11.7v11.8h-11.7zM286.3,599.2h11.7v11.8h-11.7zM297.7,576.2h11.7v11.8h-11.7zM660.3,564.7h11.7v11.8h-11.7zM648.9,541.7h11.7v11.8h-11.7zM626.3,507.2h11.7v11.8h-11.7zM614.9,495.7h11.7v11.8h-11.7zM388.3,461.2h11.7v11.8h-11.7zM569.6,461.2h11.7v11.8h-11.7zM513,438.2h23v11.8h-23zM456.3,426.7h11.7v11.8h-11.7zM479,426.7h23v11.8h-23z"/>
<path fill="#57a0ce" d="M286.3,668.1h11.7v11.8h-11.7zM592.3,645.2h11.7v11.8h-11.7zM626.3,622.2h11.7v11.8h-11.7zM637.6,610.7h11.7v11.8h-11.7zM648.9,564.7h11.7v11.8h-11.7zM309,553.2h11.7v11.8h-11.7zM660.3,553.2h11.7v11.8h-11.7zM626.3,518.7h23v11.8h-23zM614.9,507.2h11.7v11.8h-11.7zM581,472.7h11.7v11.8h-11.7zM558.3,461.2h11.7v11.8h-11.7zM547,449.7h11.7v11.8h-11.7zM535.6,438.2h11.7v11.8h-11.7zM467.6,426.7h11.7v11.8h-11.7z"/>
<path fill="#549fcd" d="M365.6,725.6h11.7v11.8h-11.7zM388.3,725.6h11.7v11.8h-11.7zM524.3,691.1h11.7v11.8h-11.7zM297.7,679.6h11.7v11.8h-11.7zM547,679.6h11.7v11.8h-11.7zM286.3,610.7h11.7v11.8h-11.7zM648.9,599.2h11.7v11.8h-11.7zM648.9,587.7h11.7v11.8h-11.7zM648.9,576.2h11.7v11.8h-11.7zM637.6,553.2h11.7v11.8h-11.7zM320.3,541.7h11.7v11.8h-11.7zM637.6,541.7h11.7v11.8h-11.7zM331.6,530.2h11.7v11.8h-11.7zM637.6,530.2h11.7v11.8h-11.7zM603.6,495.7h11.7v11.8h-11.7zM592.3,484.2h11.7v11.8h-11.7zM501.6,438.2h11.7v11.8h-11.7z"/>
<path fill="#529dcc" d="M377,725.6h11.7v11.8h-11.7zM445,714.1h23v11.8h-23zM320.3,702.6h11.7v11.8h-11.7zM558.3,668.1h11.7v11.8h-11.7zM637.6,587.7h11.7v11.8h-11.7zM309,564.7h11.7v11.8h-11.7zM626.3,530.2h11.7v11.8h-11.7zM343,518.7h11.7v11.8h-11.7zM377,484.2h11.7v11.8h-11.7zM569.6,472.7h11.7v11.8h-11.7zM547,461.2h11.7v11.8h-11.7zM433.6,438.2h11.7v11.8h-11.7z"/>
<path fill="#4f9bcb" d="M490.3,702.6h11.7v11.8h-11.7zM309,691.1h11.7v11.8h-11.7zM535.6,679.6h11.7v11.8h-11.7zM286.3,656.6h11.7v11.8h-11.7zM286.3,633.7h11.7v11.8h-11.7zM286.3,622.2h11.7v11.8h-11.7zM614.9,622.2h11.7v11.8h-11.7zM626.3,610.7h11.7v11.8h-11.7zM637.6,599.2h11.7v11.8h-11.7zM297.7,587.7h11.7v11.8h-11.7zM637.6,576.2h11.7v11.8h-11.7zM648.9,553.2h11.7v11.8h-11.7zM354.3,507.2h11.7v11.8h-11.7zM365.6,495.7h11.7v11.8h-11.7zM592.3,495.7h11.7v11.8h-11.7zM581,484.2h11.7v11.8h-11.7zM388.3,472.7h11.7v11.8h-11.7zM399.6,461.2h11.7v11.8h-11.7zM411,449.7h23v11.8h-23zM524.3,449.7h11.7v11.8h-11.7zM490.3,438.2h11.7v11.8h-11.7z"/>
<path fill="#4d99ca" d="M343,714.1h11.7v11.8h-11.7zM433.6,714.1h11.7v11.8h-11.7zM513,691.1h11.7v11.8h-11.7zM286.3,645.2h11.7v11.8h-11.7zM603.6,633.7h11.7v11.8h-11.7zM297.7,599.2h11.7v11.8h-11.7zM320.3,553.2h11.7v11.8h-11.7zM614.9,518.7h11.7v11.8h-11.7zM603.6,507.2h11.7v11.8h-11.7zM558.3,472.7h11.7v11.8h-11.7zM535.6,449.7h11.7v11.8h-11.7zM467.6,438.2h11.7v11.8h-11.7z"/>
<path fill="#4a98c9" d="M569.6,656.6h11.7v11.8h-11.7zM626.3,587.7h11.7v11.8h-11.7zM309,576.2h11.7v11.8h-11.7zM626.3,553.2h11.7v11.8h-11.7zM626.3,541.7h11.7v11.8h-11.7zM614.9,530.2h11.7v11.8h-11.7zM581,495.7h11.7v11.8h-11.7zM569.6,484.2h11.7v11.8h-11.7zM513,449.7h11.7v11.8h-11.7zM445,438.2h23v11.8h-23z"/>
<path fill="#4896c8" d="M331.6,702.6h11.7v11.8h-11.7zM524.3,679.6h11.7v11.8h-11.7zM297.7,668.1h11.7v11.8h-11.7zM547,668.1h11.7v11.8h-11.7zM581,645.2h11.7v11.8h-11.7zM592.3,633.7h11.7v11.8h-11.7zM603.6,622.2h11.7v11.8h-11.7zM614.9,610.7h11.7v11.8h-11.7zM626.3,599.2h11.7v11.8h-11.7zM626.3,576.2h11.7v11.8h-11.7zM637.6,564.7h11.7v11.8h-11.7zM331.6,541.7h11.7v11.8h-11.7zM603.6,518.7h11.7v11.8h-11.7zM547,472.7h11.7v11.8h-11.7zM411,461.2h11.7v11.8h-11.7zM535.6,461.2h11.7v11.8h-11.7zM501.6,449.7h11.7v11.8h-11.7zM479,438.2h11.7v11.8h-11.7z"/>
<path fill="#4594c7" d="M422.3,714.1h11.7v11.8h-11.7zM479,702.6h11.7v11.8h-11.7zM309,679.6h11.7v11.8h-11.7zM558.3,656.6h11.7v11.8h-11.7zM297.7,610.7h11.7v11.8h-11.7zM614.9,599.2h11.7v11.8h-11.7zM626.3,564.7h11.7v11.8h-11.7zM592.3,507.2h11.7v11.8h-11.7zM558.3,484.2h11.7v11.8h-11.7zM490.3,449.7h11.7v11.8h-11.7z"/>
<path fill="#4292c6" d="M501.6,691.1h11.7v11.8h-11.7zM535.6,668.1h11.7v11.8h-11.7zM297.7,656.6h11.7v11.8h-11.7zM569.6,645.2h11.7v11.8h-11.7zM581,633.7h11.7v11.8h-11.7zM320.3,564.7h11.7v11.8h-11.7zM614.9,541.7h11.7v11.8h-11.7zM343,530.2h11.7v11.8h-11.7zM603.6,530.2h11.7v11.8h-11.7zM354.3,518.7h11.7v11.8h-11.7zM592.3,518.7h11.7v11.8h-11.7zM581,507.2h11.7v11.8h-11.7zM569.6,495.7h11.7v11.8h-11.7zM513,461.2h23v11.8h-23zM433.6,449.7h11.7v11.8h-11.7z"/>
<path fill="#4090c5" d="M354.3,714.1h11.7v11.8h-11.7zM467.6,702.6h11.7v11.8h-11.7zM320.3,691.1h11.7v11.8h-11.7zM547,656.6h11.7v11.8h-11.7zM297.7,645.2h11.7v11.8h-11.7zM297.7,622.2h11.7v11.8h-11.7zM592.3,622.2h11.7v11.8h-11.7zM603.6,610.7h11.7v11.8h-11.7zM309,587.7h11.7v11.8h-11.7zM614.9,576.2h11.7v11.8h-11.7zM614.9,564.7h11.7v11.8h-11.7zM614.9,553.2h11.7v11.8h-11.7zM603.6,541.7h11.7v11.8h-11.7zM592.3,530.2h11.7v11.8h-11.7zM365.6,507.2h11.7v11.8h-11.7zM377,495.7h11.7v11.8h-11.7zM388.3,484.2h11.7v11.8h-11.7zM399.6,472.7h11.7v11.8h-11.7zM535.6,472.7h11.7v11.8h-11.7zM445,449.7h11.7v11.8h-11.7zM467.6,449.7h11.7v11.8h-11.7z"/>
<path fill="#3e8ec4" d="M411,714.1h11.7v11.8h-11.7zM490.3,691.1h11.7v11.8h-11.7zM558.3,645.2h11.7v11.8h-11.7zM297.7,633.7h11.7v11.8h-11.7zM603.6,599.2h11.7v11.8h-11.7zM614.9,587.7h11.7v11.8h-11.7zM331.6,553.2h11.7v11.8h-11.7zM603.6,553.2h11.7v11.8h-11.7zM547,484.2h11.7v11.8h-11.7zM422.3,461.2h11.7v11.8h-11.7zM456.3,449.7h11.7v11.8h-11.7zM479,449.7h11.7v11.8h-11.7z"/>
<path fill="#3c8cc3" d="M513,679.6h11.7v11.8h-11.7zM592.3,610.7h11.7v11.8h-11.7zM309,599.2h11.7v11.8h-11.7zM603.6,564.7h11.7v11.8h-11.7zM592.3,541.7h11.7v11.8h-11.7zM581,518.7h11.7v11.8h-11.7zM569.6,507.2h11.7v11.8h-11.7zM558.3,495.7h11.7v11.8h-11.7zM524.3,472.7h11.7v11.8h-11.7zM501.6,461.2h11.7v11.8h-11.7z"/>
<path fill="#3a8ac2" d="M365.6,714.1h11.7v11.8h-11.7zM399.6,714.1h11.7v11.8h-11.7zM343,702.6h11.7v11.8h-11.7zM456.3,702.6h11.7v11.8h-11.7zM309,668.1h11.7v11.8h-11.7zM524.3,668.1h11.7v11.8h-11.7zM569.6,633.7h11.7v11.8h-11.7zM581,622.2h11.7v11.8h-11.7zM603.6,587.7h11.7v11.8h-11.7zM320.3,576.2h11.7v11.8h-11.7zM343,541.7h11.7v11.8h-11.7zM354.3,530.2h11.7v11.8h-11.7zM535.6,484.2h11.7v11.8h-11.7zM411,472.7h11.7v11.8h-11.7zM490.3,461.2h11.7v11.8h-11.7z"/>
<path fill="#3888c1" d="M377,714.1h23v11.8h-23zM331.6,691.1h11.7v11.8h-11.7zM320.3,679.6h11.7v11.8h-11.7zM501.6,679.6h11.7v11.8h-11.7zM592.3,599.2h11.7v11.8h-11.7zM603.6,576.2h11.7v11.8h-11.7zM592.3,553.2h11.7v11.8h-11.7zM581,530.2h11.7v11.8h-11.7zM365.6,518.7h11.7v11.8h-11.7zM569.6,518.7h11.7v11.8h-11.7zM547,495.7h11.7v11.8h-11.7zM524.3,484.2h11.7v11.8h-11.7zM513,472.7h11.7v11.8h-11.7zM433.6,461.2h11.7v11.8h-11.7z"/>
<path fill="#3686c0" d="M479,691.1h11.7v11.8h-11.7zM513,668.1h11.7v11.8h-11.7zM535.6,656.6h11.7v11.8h-11.7zM309,610.7h11.7v11.8h-11.7zM581,610.7h11.7v11.8h-11.7zM592.3,587.7h11.7v11.8h-11.7zM377,507.2h11.7v11.8h-11.7zM558.3,507.2h11.7v11.8h-11.7zM399.6,484.2h11.7v11.8h-11.7zM445,461.2h11.7v11.8h-11.7zM479,461.2h11.7v11.8h-11.7z"/>
<path fill="#3484bf" d="M445,702.6h11.7v11.8h-11.7zM309,656.6h11.7v11.8h-11.7zM547,645.2h11.7v11.8h-11.7zM558.3,633.7h11.7v11.8h-11.7zM320.3,587.7h11.7v11.8h-11.7zM592.3,576.2h11.7v11.8h-11.7zM331.6,564.7h11.7v11.8h-11.7zM592.3,564.7h11.7v11.8h-11.7zM581,541.7h11.7v11.8h-11.7zM569.6,530.2h11.7v11.8h-11.7zM388.3,495.7h11.7v11.8h-11.7zM422.3,472.7h11.7v11.8h-11.7zM501.6,472.7h11.7v11.8h-11.7zM456.3,461.2h23v11.8h-23z"/>
<path fill="#3282be" d="M354.3,702.6h11.7v11.8h-11.7zM433.6,702.6h11.7v11.8h-11.7zM490.3,679.6h11.7v11.8h-11.7zM309,645.2h11.7v11.8h-11.7zM309,622.2h11.7v11.8h-11.7zM569.6,622.2h11.7v11.8h-11.7zM581,599.2h11.7v11.8h-11.7zM581,587.7h11.7v11.8h-11.7zM343,553.2h11.7v11.8h-11.7zM581,553.2h11.7v11.8h-11.7zM558.3,518.7h11.7v11.8h-11.7zM547,507.2h11.7v11.8h-11.7zM535.6,495.7h11.7v11.8h-11.7z"/>
<path fill="#3080bd" d="M524.3,656.6h11.7v11.8h-11.7zM535.6,645.2h11.7v11.8h-11.7zM309,633.7h11.7v11.8h-11.7zM569.6,610.7h11.7v11.8h-11.7zM581,564.7h11.7v11.8h-11.7zM354.3,541.7h11.7v11.8h-11.7zM569.6,541.7h11.7v11.8h-11.7zM365.6,530.2h11.7v11.8h-11.7zM513,484.2h11.7v11.8h-11.7zM490.3,472.7h11.7v11.8h-11.7z"/>
<path fill="#2e7ebc" d="M343,691.1h11.7v11.8h-11.7zM467.6,691.1h11.7v11.8h-11.7zM320.3,668.1h11.7v11.8h-11.7zM547,633.7h11.7v11.8h-11.7zM558.3,622.2h11.7v11.8h-11.7zM581,576.2h11.7v11.8h-11.7zM558.3,530.2h11.7v11.8h-11.7zM535.6,507.2h11.7v11.8h-11.7zM524.3,495.7h11.7v11.8h-11.7zM411,484.2h11.7v11.8h-11.7zM433.6,472.7h11.7v11.8h-11.7z"/>
<path fill="#2c7cba" d="M365.6,702.6h11.7v11.8h-11.7zM422.3,702.6h11.7v11.8h-11.7zM331.6,679.6h11.7v11.8h-11.7zM501.6,668.1h11.7v11.8h-11.7zM513,656.6h11.7v11.8h-11.7zM320.3,599.2h11.7v11.8h-11.7zM569.6,599.2h11.7v11.8h-11.7zM331.6,576.2h11.7v11.8h-11.7zM569.6,553.2h11.7v11.8h-11.7zM547,518.7h11.7v11.8h-11.7zM388.3,507.2h11.7v11.8h-11.7zM399.6,495.7h11.7v11.8h-11.7zM513,495.7h11.7v11.8h-11.7zM501.6,484.2h11.7v11.8h-11.7zM445,472.7h11.7v11.8h-11.7zM479,472.7h11.7v11.8h-11.7z"/>
<path fill="#2a7ab9" d="M320.3,656.6h11.7v11.8h-11.7zM569.6,587.7h11.7v11.8h-11.7zM569.6,576.2h11.7v11.8h-11.7zM569.6,564.7h11.7v11.8h-11.7zM558.3,541.7h11.7v11.8h-11.7zM377,518.7h11.7v11.8h-11.7zM456.3,472.7h23v11.8h-23z"/>
<path fill="#2777b8" d="M377,702.6h11.7v11.8h-11.7zM411,702.6h11.7v11.8h-11.7zM456.3,691.1h11.7v11.8h-11.7zM479,679.6h11.7v11.8h-11.7zM524.3,645.2h11.7v11.8h-11.7zM320.3,622.2h11.7v11.8h-11.7zM320.3,610.7h11.7v11.8h-11.7zM558.3,610.7h11.7v11.8h-11.7zM343,564.7h11.7v11.8h-11.7zM547,530.2h11.7v11.8h-11.7zM524.3,507.2h11.7v11.8h-11.7zM422.3,484.2h11.7v11.8h-11.7zM490.3,484.2h11.7v11.8h-11.7z"/>
<path fill="#2575b7" d="M388.3,702.6h23v11.8h-23zM354.3,691.1h11.7v11.8h-11.7zM490.3,668.1h11.7v11.8h-11.7zM535.6,633.7h11.7v11.8h-11.7zM547,622.2h11.7v11.8h-11.7zM331.6,587.7h11.7v11.8h-11.7zM558.3,564.7h11.7v11.8h-11.7zM354.3,553.2h11.7v11.8h-11.7zM558.3,553.2h11.7v11.8h-11.7zM535.6,518.7h11.7v11.8h-11.7z"/>
<path fill="#2373b6" d="M445,691.1h11.7v11.8h-11.7zM343,679.6h11.7v11.8h-11.7zM331.6,668.1h11.7v11.8h-11.7zM501.6,656.6h11.7v11.8h-11.7zM320.3,645.2h11.7v11.8h-11.7zM320.3,633.7h11.7v11.8h-11.7zM558.3,599.2h11.7v11.8h-11.7zM558.3,587.7h11.7v11.8h-11.7zM558.3,576.2h11.7v11.8h-11.7zM365.6,541.7h11.7v11.8h-11.7zM547,541.7h11.7v11.8h-11.7zM513,507.2h11.7v11.8h-11.7zM411,495.7h11.7v11.8h-11.7zM501.6,495.7h11.7v11.8h-11.7zM433.6,484.2h11.7v11.8h-11.7zM467.6,484.2h23v11.8h-23z"/>
<path fill="#2171b5" d="M467.6,679.6h11.7v11.8h-11.7zM513,645.2h11.7v11.8h-11.7zM547,610.7h11.7v11.8h-11.7zM343,576.2h11.7v11.8h-11.7zM377,530.2h11.7v11.8h-11.7zM535.6,530.2h11.7v11.8h-11.7zM388.3,518.7h11.7v11.8h-11.7zM445,484.2h23v11.8h-23z"/>
<path fill="#206fb4" d="M365.6,691.1h11.7v11.8h-11.7zM479,668.1h11.7v11.8h-11.7zM524.3,633.7h11.7v11.8h-11.7zM535.6,622.2h11.7v11.8h-11.7zM331.6,599.2h11.7v11.8h-11.7zM524.3,518.7h11.7v11.8h-11.7zM399.6,507.2h11.7v11.8h-11.7zM490.3,495.7h11.7v11.8h-11.7z"/>
<path fill="#1e6db2" d="M433.6,691.1h11.7v11.8h-11.7zM547,599.2h11.7v11.8h-11.7zM547,576.2h11.7v11.8h-11.7zM354.3,564.7h11.7v11.8h-11.7zM547,564.7h11.7v11.8h-11.7zM547,553.2h11.7v11.8h-11.7zM535.6,541.7h11.7v11.8h-11.7zM524.3,530.2h11.7v11.8h-11.7zM501.6,507.2h11.7v11.8h-11.7zM422.3,495.7h11.7v11.8h-11.7z"/>
<path fill="#1c6bb0" d="M422.3,691.1h11.7v11.8h-11.7zM456.3,679.6h11.7v11.8h-11.7zM331.6,656.6h11.7v11.8h-11.7zM490.3,656.6h11.7v11.8h-11.7zM331.6,610.7h11.7v11.8h-11.7zM547,587.7h11.7v11.8h-11.7zM365.6,553.2h11.7v11.8h-11.7zM513,518.7h11.7v11.8h-11.7zM433.6,495.7h11.7v11.8h-11.7zM479,495.7h11.7v11.8h-11.7z"/>
<path fill="#1b69af" d="M377,691.1h11.7v11.8h-11.7zM354.3,679.6h11.7v11.8h-11.7zM343,668.1h11.7v11.8h-11.7zM501.6,645.2h11.7v11.8h-11.7zM535.6,610.7h11.7v11.8h-11.7zM343,587.7h11.7v11.8h-11.7zM535.6,553.2h11.7v11.8h-11.7zM411,507.2h11.7v11.8h-11.7z"/>
<path fill="#1967ad" d="M388.3,691.1h34.3v11.8h-34.3zM331.6,645.2h11.7v11.8h-11.7zM331.6,633.7h11.7v11.8h-11.7zM513,633.7h11.7v11.8h-11.7zM331.6,622.2h11.7v11.8h-11.7zM524.3,622.2h11.7v11.8h-11.7zM535.6,599.2h11.7v11.8h-11.7zM535.6,564.7h11.7v11.8h-11.7zM377,541.7h11.7v11.8h-11.7zM524.3,541.7h11.7v11.8h-11.7zM513,530.2h11.7v11.8h-11.7zM490.3,507.2h11.7v11.8h-11.7zM445,495.7h34.3v11.8h-34.3z"/>
<path fill="#1865ac" d="M467.6,668.1h11.7v11.8h-11.7zM535.6,587.7h11.7v11.8h-11.7zM354.3,576.2h11.7v11.8h-11.7zM535.6,576.2h11.7v11.8h-11.7zM388.3,530.2h11.7v11.8h-11.7zM399.6,518.7h11.7v11.8h-11.7zM501.6,518.7h11.7v11.8h-11.7z"/>
<path fill="#1663aa" d="M445,679.6h11.7v11.8h-11.7zM479,656.6h11.7v11.8h-11.7zM524.3,610.7h11.7v11.8h-11.7zM343,599.2h11.7v11.8h-11.7zM365.6,564.7h11.7v11.8h-11.7zM524.3,553.2h11.7v11.8h-11.7zM422.3,507.2h11.7v11.8h-11.7zM479,507.2h11.7v11.8h-11.7z"/>
<path fill="#1561a9" d="M365.6,679.6h11.7v11.8h-11.7zM343,656.6h11.7v11.8h-11.7zM490.3,645.2h11.7v11.8h-11.7zM513,622.2h11.7v11.8h-11.7zM343,610.7h11.7v11.8h-11.7zM524.3,599.2h11.7v11.8h-11.7zM513,541.7h11.7v11.8h-11.7z"/>
<path fill="#135fa7" d="M433.6,679.6h11.7v11.8h-11.7zM354.3,668.1h11.7v11.8h-11.7zM456.3,668.1h11.7v11.8h-11.7zM501.6,633.7h11.7v11.8h-11.7zM354.3,587.7h11.7v11.8h-11.7zM524.3,587.7h11.7v11.8h-11.7zM524.3,564.7h11.7v11.8h-11.7zM377,553.2h11.7v11.8h-11.7zM501.6,530.2h11.7v11.8h-11.7zM490.3,518.7h11.7v11.8h-11.7zM433.6,507.2h11.7v11.8h-11.7zM467.6,507.2h11.7v11.8h-11.7z"/>
<path fill="#125da6" d="M377,679.6h11.7v11.8h-11.7zM422.3,679.6h11.7v11.8h-11.7zM343,645.2h11.7v11.8h-11.7zM343,622.2h11.7v11.8h-11.7zM513,610.7h11.7v11.8h-11.7zM524.3,576.2h11.7v11.8h-11.7zM513,553.2h11.7v11.8h-11.7zM388.3,541.7h11.7v11.8h-11.7zM399.6,530.2h11.7v11.8h-11.7zM411,518.7h11.7v11.8h-11.7zM456.3,507.2h11.7v11.8h-11.7z"/>
<path fill="#105ba4" d="M388.3,679.6h11.7v11.8h-11.7zM467.6,656.6h11.7v11.8h-11.7zM343,633.7h11.7v11.8h-11.7zM365.6,576.2h11.7v11.8h-11.7zM479,518.7h11.7v11.8h-11.7zM445,507.2h11.7v11.8h-11.7z"/>
<path fill="#0e59a2" d="M399.6,679.6h23v11.8h-23zM445,668.1h11.7v11.8h-11.7zM479,645.2h11.7v11.8h-11.7zM490.3,633.7h11.7v11.8h-11.7zM501.6,622.2h11.7v11.8h-11.7zM354.3,599.2h11.7v11.8h-11.7zM513,599.2h11.7v11.8h-11.7zM513,564.7h11.7v11.8h-11.7zM501.6,541.7h11.7v11.8h-11.7zM490.3,530.2h11.7v11.8h-11.7zM422.3,518.7h11.7v11.8h-11.7z"/>
<path fill="#0d57a1" d="M365.6,668.1h11.7v11.8h-11.7zM354.3,656.6h11.7v11.8h-11.7zM513,587.7h11.7v11.8h-11.7zM513,576.2h11.7v11.8h-11.7zM467.6,518.7h11.7v11.8h-11.7z"/>
<path fill="#0b559f" d="M354.3,610.7h11.7v11.8h-11.7zM501.6,610.7h11.7v11.8h-11.7zM377,564.7h11.7v11.8h-11.7zM501.6,553.2h11.7v11.8h-11.7zM411,530.2h11.7v11.8h-11.7zM433.6,518.7h11.7v11.8h-11.7zM456.3,518.7h11.7v11.8h-11.7z"/>
<path fill="#0a539e" d="M377,668.1h11.7v11.8h-11.7zM433.6,668.1h11.7v11.8h-11.7zM456.3,656.6h11.7v11.8h-11.7zM354.3,645.2h11.7v11.8h-11.7zM501.6,599.2h11.7v11.8h-11.7zM365.6,587.7h11.7v11.8h-11.7zM501.6,564.7h11.7v11.8h-11.7zM388.3,553.2h11.7v11.8h-11.7zM399.6,541.7h11.7v11.8h-11.7zM490.3,541.7h11.7v11.8h-11.7zM479,530.2h11.7v11.8h-11.7zM445,518.7h11.7v11.8h-11.7z"/>
<path fill="#08519c" d="M422.3,668.1h11.7v11.8h-11.7zM467.6,645.2h11.7v11.8h-11.7zM354.3,633.7h11.7v11.8h-11.7zM479,633.7h11.7v11.8h-11.7zM354.3,622.2h11.7v11.8h-11.7zM490.3,622.2h11.7v11.8h-11.7zM501.6,576.2h11.7v11.8h-11.7zM467.6,530.2h11.7v11.8h-11.7z"/>
<path fill="#084f99" d="M501.6,587.7h11.7v11.8h-11.7zM377,576.2h11.7v11.8h-11.7zM490.3,553.2h11.7v11.8h-11.7zM479,541.7h11.7v11.8h-11.7zM422.3,530.2h11.7v11.8h-11.7z"/>
<path fill="#084d96" d="M388.3,668.1h34.3v11.8h-34.3zM365.6,656.6h11.7v11.8h-11.7zM445,656.6h11.7v11.8h-11.7zM490.3,610.7h11.7v11.8h-11.7zM365.6,599.2h11.7v11.8h-11.7zM433.6,530.2h11.7v11.8h-11.7zM456.3,530.2h11.7v11.8h-11.7z"/>
<path fill="#084b93" d="M388.3,564.7h11.7v11.8h-11.7zM490.3,564.7h11.7v11.8h-11.7zM411,541.7h11.7v11.8h-11.7zM445,530.2h11.7v11.8h-11.7z"/>
<path fill="#084990" d="M377,656.6h11.7v11.8h-11.7zM365.6,645.2h11.7v11.8h-11.7zM456.3,645.2h11.7v11.8h-11.7zM479,622.2h11.7v11.8h-11.7zM365.6,610.7h11.7v11.8h-11.7zM490.3,599.2h11.7v11.8h-11.7zM490.3,587.7h11.7v11.8h-11.7zM490.3,576.2h11.7v11.8h-11.7zM399.6,553.2h11.7v11.8h-11.7zM479,553.2h11.7v11.8h-11.7zM467.6,541.7h11.7v11.8h-11.7z"/>
<path fill="#08478d" d="M433.6,656.6h11.7v11.8h-11.7zM365.6,633.7h11.7v11.8h-11.7zM467.6,633.7h11.7v11.8h-11.7zM365.6,622.2h11.7v11.8h-11.7zM377,587.7h11.7v11.8h-11.7zM422.3,541.7h11.7v11.8h-11.7zM456.3,541.7h11.7v11.8h-11.7z"/>
<path fill="#08458a" d="M479,610.7h11.7v11.8h-11.7zM479,564.7h11.7v11.8h-11.7zM467.6,553.2h11.7v11.8h-11.7zM433.6,541.7h23v11.8h-23z"/>
<path fill="#084387" d="M388.3,656.6h11.7v11.8h-11.7zM422.3,656.6h11.7v11.8h-11.7zM377,645.2h11.7v11.8h-11.7zM445,645.2h11.7v11.8h-11.7zM377,599.2h11.7v11.8h-11.7zM479,599.2h11.7v11.8h-11.7zM388.3,576.2h11.7v11.8h-11.7zM479,576.2h11.7v11.8h-11.7zM411,553.2h11.7v11.8h-11.7z"/>
<path fill="#084184" d="M399.6,656.6h23v11.8h-23zM456.3,633.7h11.7v11.8h-11.7zM467.6,622.2h11.7v11.8h-11.7zM479,587.7h11.7v11.8h-11.7zM399.6,564.7h11.7v11.8h-11.7zM456.3,553.2h11.7v11.8h-11.7z"/>
<path fill="#083e81" d="M377,633.7h11.7v11.8h-11.7zM377,610.7h11.7v11.8h-11.7zM388.3,587.7h11.7v11.8h-11.7zM467.6,564.7h11.7v11.8h-11.7zM422.3,553.2h11.7v11.8h-11.7z"/>
<path fill="#083c7d" d="M388.3,645.2h11.7v11.8h-11.7zM433.6,645.2h11.7v11.8h-11.7zM377,622.2h11.7v11.8h-11.7zM467.6,610.7h11.7v11.8h-11.7zM399.6,576.2h11.7v11.8h-11.7zM433.6,553.2h23v11.8h-23z"/>
<path fill="#083a7a" d="M388.3,599.2h11.7v11.8h-11.7zM467.6,599.2h11.7v11.8h-11.7zM467.6,587.7h11.7v11.8h-11.7zM467.6,576.2h11.7v11.8h-11.7zM411,564.7h11.7v11.8h-11.7zM456.3,564.7h11.7v11.8h-11.7z"/>
<path fill="#083877" d="M399.6,645.2h11.7v11.8h-11.7zM422.3,645.2h11.7v11.8h-11.7zM445,633.7h11.7v11.8h-11.7zM456.3,622.2h11.7v11.8h-11.7z"/>
<path fill="#083674" d="M411,645.2h11.7v11.8h-11.7zM388.3,633.7h11.7v11.8h-11.7zM388.3,622.2h11.7v11.8h-11.7zM388.3,610.7h11.7v11.8h-11.7zM399.6,587.7h11.7v11.8h-11.7zM456.3,576.2h11.7v11.8h-11.7zM422.3,564.7h34.3v11.8h-34.3z"/>
<path fill="#083471" d="M433.6,633.7h11.7v11.8h-11.7zM456.3,610.7h11.7v11.8h-11.7zM456.3,599.2h11.7v11.8h-11.7zM456.3,587.7h11.7v11.8h-11.7zM411,576.2h11.7v11.8h-11.7z"/>
<path fill="#08326e" d="M399.6,633.7h11.7v11.8h-11.7zM445,622.2h11.7v11.8h-11.7zM445,576.2h11.7v11.8h-11.7z"/>
<path fill="#08306b" d="M411,633.7h23v11.8h-23zM399.6,622.2h11.7v11.8h-11.7zM399.6,599.2h11.7v11.8h-11.7zM411,587.7h11.7v11.8h-11.7zM445,587.7h11.7v11.8h-11.7zM422.3,576.2h23v11.8h-23z"/>
<path fill="#08306b" d="M433.6,622.2h11.7v11.8h-11.7zM399.6,610.7h11.7v11.8h-11.7zM445,610.7h11.7v11.8h-11.7zM445,599.2h11.7v11.8h-11.7z"/>
<path fill="#08306b" d="M411,622.2h11.7v11.8h-11.7zM411,599.2h11.7v11.8h-11.7zM422.3,587.7h23v11.8h-23z"/>
<path fill="#08306b" d="M422.3,622.2h11.7v11.8h-11.7zM411,610.7h34.3v11.8h-34.3zM422.3,599.2h23v11.8h-23z"/>
</g>
<g clip-path="url(#c0)">
<polygon fill="rgb(174,84,48)" fill-opacity="0.5" points="236.8,592.5 301,579.9 367.2,579.3 428.5,558.5 486.7,531.2 555,511.8 626.1,498.1 694.3,495.6 739.7,483.3 760,478 760,608 739.7,611.2 694.3,618.1 626.1,625.6 555,627.6 486.7,632.2 428.5,645.5 367.2,667.8 301,676.1 236.8,671.7"/>
<line x1="173.0" x2="739.6" y1="596.4" y2="596.4" stroke="#000" stroke-width="3.3" stroke-dasharray="15.6 14.73"/>
<polyline fill="none" stroke="rgb(186,38,38)" stroke-width="2.9" stroke-linejoin="round" points="236.8,639 301,633.6 367.2,627.1 428.5,605.4 486.7,583.8 555,573 626.1,567.3 694.3,561.4 739.7,550.9 760,546"/>
</g>
<g clip-path="url(#c1)" shape-rendering="crispEdges">
<path fill="#e9f2fa" d="M1044.2,760.1h11.7v11.8h-11.7zM1338.8,760.1h23v11.8h-23zM930.9,748.6h11.7v11.8h-11.7zM1044.2,748.6h11.7v11.8h-11.7zM1078.2,748.6h11.7v11.8h-11.7zM1157.5,748.6h11.7v11.8h-11.7zM1214.2,748.6h11.7v11.8h-11.7zM1248.2,748.6h34.3v11.8h-34.3zM1293.5,748.6h11.7v11.8h-11.7zM1338.8,748.6h11.7v11.8h-11.7zM851.6,737.1h11.7v11.8h-11.7zM930.9,737.1h23v11.8h-23zM828.9,725.6h11.7v11.8h-11.7zM851.6,725.6h23v11.8h-23zM794.9,702.6h11.7v11.8h-11.7zM794.9,438.2h11.7v11.8h-11.7zM794.9,426.7h11.7v11.8h-11.7zM794.9,392.2h23v11.8h-23zM794.9,357.8h11.7v11.8h-11.7zM828.9,357.8h11.7v11.8h-11.7zM817.6,346.3h11.7v11.8h-11.7zM840.2,346.3h23v11.8h-23zM1304.8,346.3h11.7v11.8h-11.7zM851.6,334.8h11.7v11.8h-11.7zM1032.9,334.8h11.7v11.8h-11.7zM806.2,323.3h11.7v11.8h-11.7zM885.6,323.3h11.7v11.8h-11.7zM987.5,323.3h11.7v11.8h-11.7zM1248.2,323.3h11.7v11.8h-11.7zM851.6,311.8h11.7v11.8h-11.7zM874.2,311.8h11.7v11.8h-11.7zM1112.2,311.8h11.7v11.8h-11.7zM896.9,300.3h11.7v11.8h-11.7zM919.6,300.3h11.7v11.8h-11.7zM1066.9,300.3h23v11.8h-23zM1100.9,300.3h23v11.8h-23zM1146.2,300.3h23v11.8h-23zM851.6,288.8h34.3v11.8h-34.3zM896.9,288.8h11.7v11.8h-11.7zM930.9,288.8h11.7v11.8h-11.7zM953.5,288.8h11.7v11.8h-11.7zM976.2,288.8h23v11.8h-23zM1066.9,288.8h34.3v11.8h-34.3zM1168.9,288.8h23v11.8h-23zM1214.2,288.8h11.7v11.8h-11.7zM1304.8,288.8h11.7v11.8h-11.7zM896.9,277.3h11.7v11.8h-11.7zM930.9,277.3h11.7v11.8h-11.7zM964.9,277.3h11.7v11.8h-11.7zM1021.5,277.3h23v11.8h-23zM1055.5,277.3h11.7v11.8h-11.7zM1089.5,277.3h23v11.8h-23zM1134.9,277.3h11.7v11.8h-11.7zM1180.2,277.3h11.7v11.8h-11.7zM1202.9,277.3h11.7v11.8h-11.7zM1236.8,277.3h11.7v11.8h-11.7zM1316.2,277.3h23v11.8h-23zM851.6,265.8h11.7v11.8h-11.7zM896.9,265.8h11.7v11.8h-11.7zM987.5,265.8h11.7v11.8h-11.7zM1021.5,265.8h11.7v11.8h-11.7zM1066.9,265.8h23v11.8h-23zM1100.9,265.8h11.7v11.8h-11.7zM1157.5,265.8h11.7v11.8h-11.7zM1191.5,265.8h34.3v11.8h-34.3zM1270.8,265.8h11.7v11.8h-11.7zM1293.5,265.8h11.7v11.8h-11.7zM908.2,254.3h11.7v11.8h-11.7zM998.9,254.3h23v11.8h-23zM1078.2,254.3h11.7v11.8h-11.7zM1112.2,254.3h11.7v11.8h-11.7zM1214.2,254.3h23v11.8h-23zM1259.5,254.3h45.7v11.8h-45.7zM930.9,242.8h11.7v11.8h-11.7zM1010.2,242.8h11.7v11.8h-11.7zM1066.9,242.8h11.7v11.8h-11.7zM1112.2,242.8h11.7v11.8h-11.7zM1180.2,242.8h11.7v11.8h-11.7zM1214.2,242.8h23v11.8h-23zM1248.2,242.8h11.7v11.8h-11.7zM1282.2,242.8h11.7v11.8h-11.7zM1338.8,242.8h11.7v11.8h-11.7zM828.9,231.3h11.7v11.8h-11.7zM987.5,231.3h11.7v11.8h-11.7zM1044.2,231.3h34.3v11.8h-34.3zM1146.2,231.3h11.7v11.8h-11.7zM1180.2,231.3h11.7v11.8h-11.7zM1236.8,231.3h23v11.8h-23zM1282.2,231.3h11.7v11.8h-11.7zM1089.5,219.8h11.7v11.8h-11.7zM1134.9,219.8h11.7v11.8h-11.7zM1202.9,219.8h11.7v11.8h-11.7zM1248.2,219.8h11.7v11.8h-11.7zM1270.8,219.8h11.7v11.8h-11.7zM1304.8,219.8h11.7v11.8h-11.7zM1327.5,219.8h11.7v11.8h-11.7z"/>
<path fill="#e1edf8" d="M1066.9,748.6h11.7v11.8h-11.7zM1089.5,748.6h11.7v11.8h-11.7zM1134.9,748.6h23v11.8h-23zM1168.9,748.6h11.7v11.8h-11.7zM1191.5,748.6h11.7v11.8h-11.7zM1282.2,748.6h11.7v11.8h-11.7zM1316.2,748.6h11.7v11.8h-11.7zM908.2,737.1h23v11.8h-23zM987.5,737.1h11.7v11.8h-11.7zM840.2,725.6h11.7v11.8h-11.7zM806.2,714.1h11.7v11.8h-11.7zM794.9,691.1h11.7v11.8h-11.7zM794.9,679.6h11.7v11.8h-11.7zM794.9,461.2h11.7v11.8h-11.7zM817.6,380.7h23v11.8h-23zM840.2,369.2h11.7v11.8h-11.7zM885.6,357.8h11.7v11.8h-11.7zM874.2,346.3h11.7v11.8h-11.7zM908.2,346.3h11.7v11.8h-11.7zM942.2,334.8h11.7v11.8h-11.7zM840.2,323.3h11.7v11.8h-11.7zM896.9,323.3h23v11.8h-23zM930.9,323.3h11.7v11.8h-11.7zM1100.9,323.3h11.7v11.8h-11.7zM1225.5,323.3h11.7v11.8h-11.7zM1270.8,323.3h11.7v11.8h-11.7zM1304.8,323.3h11.7v11.8h-11.7zM908.2,311.8h11.7v11.8h-11.7zM942.2,311.8h11.7v11.8h-11.7zM1010.2,311.8h11.7v11.8h-11.7zM1044.2,311.8h23v11.8h-23zM1089.5,311.8h11.7v11.8h-11.7zM1123.5,311.8h11.7v11.8h-11.7zM1214.2,311.8h11.7v11.8h-11.7zM1236.8,311.8h11.7v11.8h-11.7zM1282.2,311.8h11.7v11.8h-11.7zM930.9,300.3h11.7v11.8h-11.7zM976.2,300.3h11.7v11.8h-11.7zM998.9,300.3h34.3v11.8h-34.3zM1044.2,300.3h11.7v11.8h-11.7zM1089.5,300.3h11.7v11.8h-11.7zM1168.9,300.3h11.7v11.8h-11.7zM1191.5,300.3h11.7v11.8h-11.7zM1225.5,300.3h11.7v11.8h-11.7zM1248.2,300.3h11.7v11.8h-11.7zM1304.8,300.3h23v11.8h-23zM919.6,288.8h11.7v11.8h-11.7zM1021.5,288.8h23v11.8h-23zM1100.9,288.8h23v11.8h-23zM1146.2,288.8h11.7v11.8h-11.7zM1236.8,288.8h11.7v11.8h-11.7zM1259.5,288.8h11.7v11.8h-11.7zM987.5,277.3h11.7v11.8h-11.7zM1010.2,277.3h11.7v11.8h-11.7zM1044.2,277.3h11.7v11.8h-11.7zM1146.2,277.3h11.7v11.8h-11.7zM1191.5,277.3h11.7v11.8h-11.7zM1225.5,277.3h11.7v11.8h-11.7zM1259.5,277.3h23v11.8h-23zM908.2,265.8h11.7v11.8h-11.7zM976.2,265.8h11.7v11.8h-11.7zM1010.2,265.8h11.7v11.8h-11.7zM1112.2,265.8h11.7v11.8h-11.7zM1146.2,265.8h11.7v11.8h-11.7zM1259.5,265.8h11.7v11.8h-11.7zM930.9,254.3h11.7v11.8h-11.7zM953.5,254.3h11.7v11.8h-11.7zM1236.8,254.3h23v11.8h-23zM1100.9,242.8h11.7v11.8h-11.7zM1270.8,242.8h11.7v11.8h-11.7zM1304.8,242.8h23v11.8h-23zM1350.2,242.8h11.7v11.8h-11.7zM1168.9,219.8h11.7v11.8h-11.7zM1259.5,219.8h11.7v11.8h-11.7zM1350.2,219.8h11.7v11.8h-11.7z"/>
<path fill="#dbe9f6" d="M1112.2,748.6h11.7v11.8h-11.7zM1180.2,748.6h11.7v11.8h-11.7zM1236.8,748.6h11.7v11.8h-11.7zM1327.5,748.6h11.7v11.8h-11.7zM964.9,737.1h23v11.8h-23zM794.9,449.7h11.7v11.8h-11.7zM806.2,415.2h11.7v11.8h-11.7zM806.2,403.7h11.7v11.8h-11.7zM851.6,369.2h11.7v11.8h-11.7zM840.2,357.8h23v11.8h-23zM874.2,357.8h11.7v11.8h-11.7zM862.9,346.3h11.7v11.8h-11.7zM828.9,334.8h11.7v11.8h-11.7zM862.9,334.8h11.7v11.8h-11.7zM885.6,334.8h34.3v11.8h-34.3zM987.5,334.8h11.7v11.8h-11.7zM1168.9,334.8h11.7v11.8h-11.7zM851.6,323.3h11.7v11.8h-11.7zM953.5,323.3h11.7v11.8h-11.7zM1010.2,323.3h23v11.8h-23zM1055.5,323.3h23v11.8h-23zM1134.9,323.3h11.7v11.8h-11.7zM1282.2,323.3h11.7v11.8h-11.7zM862.9,311.8h11.7v11.8h-11.7zM896.9,311.8h11.7v11.8h-11.7zM919.6,311.8h23v11.8h-23zM1078.2,311.8h11.7v11.8h-11.7zM1134.9,311.8h11.7v11.8h-11.7zM1168.9,311.8h11.7v11.8h-11.7zM1191.5,311.8h23v11.8h-23zM1225.5,311.8h11.7v11.8h-11.7zM1248.2,311.8h11.7v11.8h-11.7zM908.2,300.3h11.7v11.8h-11.7zM942.2,300.3h11.7v11.8h-11.7zM1134.9,300.3h11.7v11.8h-11.7zM1180.2,300.3h11.7v11.8h-11.7zM1259.5,300.3h23v11.8h-23zM1293.5,300.3h11.7v11.8h-11.7zM1055.5,288.8h11.7v11.8h-11.7zM1134.9,288.8h11.7v11.8h-11.7zM1157.5,288.8h11.7v11.8h-11.7zM1191.5,288.8h11.7v11.8h-11.7zM1225.5,288.8h11.7v11.8h-11.7zM1270.8,288.8h23v11.8h-23zM1316.2,288.8h11.7v11.8h-11.7zM1248.2,277.3h11.7v11.8h-11.7zM1282.2,277.3h11.7v11.8h-11.7zM930.9,265.8h11.7v11.8h-11.7zM998.9,265.8h11.7v11.8h-11.7zM1338.8,265.8h11.7v11.8h-11.7zM1134.9,254.3h11.7v11.8h-11.7zM1316.2,254.3h11.7v11.8h-11.7zM1350.2,254.3h11.7v11.8h-11.7zM1236.8,242.8h11.7v11.8h-11.7zM1350.2,231.3h11.7v11.8h-11.7z"/>
<path fill="#d6e6f4" d="M953.5,737.1h11.7v11.8h-11.7zM874.2,725.6h23v11.8h-23zM794.9,668.1h11.7v11.8h-11.7zM794.9,472.7h11.7v11.8h-11.7zM806.2,369.2h11.7v11.8h-11.7zM942.2,346.3h11.7v11.8h-11.7zM919.6,334.8h11.7v11.8h-11.7zM1044.2,334.8h11.7v11.8h-11.7zM1066.9,334.8h23v11.8h-23zM1100.9,334.8h11.7v11.8h-11.7zM1180.2,334.8h11.7v11.8h-11.7zM862.9,323.3h23v11.8h-23zM919.6,323.3h11.7v11.8h-11.7zM964.9,323.3h23v11.8h-23zM1044.2,323.3h11.7v11.8h-11.7zM1146.2,323.3h11.7v11.8h-11.7zM1202.9,323.3h11.7v11.8h-11.7zM1338.8,323.3h11.7v11.8h-11.7zM976.2,311.8h34.3v11.8h-34.3zM1021.5,311.8h23v11.8h-23zM1066.9,311.8h11.7v11.8h-11.7zM1100.9,311.8h11.7v11.8h-11.7zM1259.5,311.8h11.7v11.8h-11.7zM1338.8,311.8h11.7v11.8h-11.7zM964.9,300.3h11.7v11.8h-11.7zM1032.9,300.3h11.7v11.8h-11.7zM1055.5,300.3h11.7v11.8h-11.7zM1123.5,300.3h11.7v11.8h-11.7zM1202.9,300.3h11.7v11.8h-11.7zM1282.2,300.3h11.7v11.8h-11.7zM998.9,288.8h11.7v11.8h-11.7zM1044.2,288.8h11.7v11.8h-11.7zM1327.5,288.8h11.7v11.8h-11.7zM1327.5,265.8h11.7v11.8h-11.7zM1327.5,254.3h11.7v11.8h-11.7z"/>
<path fill="#d2e3f3" d="M998.9,737.1h23v11.8h-23zM1032.9,737.1h11.7v11.8h-11.7zM828.9,714.1h11.7v11.8h-11.7zM851.6,714.1h11.7v11.8h-11.7zM806.2,702.6h11.7v11.8h-11.7zM806.2,691.1h11.7v11.8h-11.7zM806.2,426.7h11.7v11.8h-11.7zM817.6,392.2h11.7v11.8h-11.7zM828.9,369.2h11.7v11.8h-11.7zM1032.9,357.8h11.7v11.8h-11.7zM1100.9,357.8h11.7v11.8h-11.7zM1236.8,357.8h11.7v11.8h-11.7zM828.9,346.3h11.7v11.8h-11.7zM919.6,346.3h11.7v11.8h-11.7zM1055.5,346.3h11.7v11.8h-11.7zM1146.2,346.3h23v11.8h-23zM874.2,334.8h11.7v11.8h-11.7zM930.9,334.8h11.7v11.8h-11.7zM953.5,334.8h11.7v11.8h-11.7zM998.9,334.8h11.7v11.8h-11.7zM1021.5,334.8h11.7v11.8h-11.7zM1134.9,334.8h23v11.8h-23zM1327.5,334.8h11.7v11.8h-11.7zM942.2,323.3h11.7v11.8h-11.7zM998.9,323.3h11.7v11.8h-11.7zM1123.5,323.3h11.7v11.8h-11.7zM1157.5,323.3h11.7v11.8h-11.7zM1236.8,323.3h11.7v11.8h-11.7zM1259.5,323.3h11.7v11.8h-11.7zM1293.5,323.3h11.7v11.8h-11.7zM953.5,311.8h23v11.8h-23zM1146.2,311.8h11.7v11.8h-11.7zM1304.8,311.8h23v11.8h-23zM1236.8,300.3h11.7v11.8h-11.7zM1338.8,300.3h11.7v11.8h-11.7zM1293.5,288.8h11.7v11.8h-11.7zM1350.2,277.3h11.7v11.8h-11.7zM1350.2,265.8h11.7v11.8h-11.7z"/>
<path fill="#cfe1f2" d="M1055.5,737.1h11.7v11.8h-11.7zM1146.2,737.1h11.7v11.8h-11.7zM817.6,415.2h11.7v11.8h-11.7zM817.6,403.7h11.7v11.8h-11.7zM862.9,369.2h11.7v11.8h-11.7zM862.9,357.8h11.7v11.8h-11.7zM896.9,357.8h11.7v11.8h-11.7zM1044.2,346.3h11.7v11.8h-11.7zM1180.2,346.3h11.7v11.8h-11.7zM1202.9,346.3h11.7v11.8h-11.7zM1282.2,346.3h23v11.8h-23zM840.2,334.8h11.7v11.8h-11.7zM1010.2,334.8h11.7v11.8h-11.7zM1123.5,334.8h11.7v11.8h-11.7zM1259.5,334.8h11.7v11.8h-11.7zM1293.5,334.8h11.7v11.8h-11.7zM1191.5,323.3h11.7v11.8h-11.7zM1327.5,323.3h11.7v11.8h-11.7zM1157.5,311.8h11.7v11.8h-11.7zM1270.8,311.8h11.7v11.8h-11.7zM1293.5,311.8h11.7v11.8h-11.7zM1327.5,300.3h11.7v11.8h-11.7zM1350.2,300.3h11.7v11.8h-11.7zM953.5,277.3h11.7v11.8h-11.7z"/>
<path fill="#cde0f1" d="M1078.2,737.1h11.7v11.8h-11.7zM1157.5,737.1h11.7v11.8h-11.7zM817.6,714.1h11.7v11.8h-11.7zM794.9,484.2h11.7v11.8h-11.7zM828.9,392.2h11.7v11.8h-11.7zM851.6,380.7h23v11.8h-23zM874.2,369.2h11.7v11.8h-11.7zM896.9,369.2h11.7v11.8h-11.7zM919.6,357.8h11.7v11.8h-11.7zM896.9,346.3h11.7v11.8h-11.7zM930.9,346.3h11.7v11.8h-11.7zM964.9,346.3h11.7v11.8h-11.7zM987.5,346.3h11.7v11.8h-11.7zM1010.2,346.3h11.7v11.8h-11.7zM1066.9,346.3h11.7v11.8h-11.7zM1100.9,346.3h11.7v11.8h-11.7zM1123.5,346.3h11.7v11.8h-11.7zM1191.5,346.3h11.7v11.8h-11.7zM1316.2,346.3h11.7v11.8h-11.7zM964.9,334.8h23v11.8h-23zM1055.5,334.8h11.7v11.8h-11.7zM1214.2,334.8h45.7v11.8h-45.7zM1282.2,334.8h11.7v11.8h-11.7zM1112.2,323.3h11.7v11.8h-11.7zM1316.2,323.3h11.7v11.8h-11.7zM987.5,300.3h11.7v11.8h-11.7zM1214.2,300.3h11.7v11.8h-11.7zM1338.8,288.8h11.7v11.8h-11.7zM1338.8,277.3h11.7v11.8h-11.7z"/>
<path fill="#cadef0" d="M1021.5,737.1h11.7v11.8h-11.7zM1066.9,737.1h11.7v11.8h-11.7zM1100.9,737.1h11.7v11.8h-11.7zM1134.9,737.1h11.7v11.8h-11.7zM1236.8,737.1h11.7v11.8h-11.7zM942.2,725.6h11.7v11.8h-11.7zM828.9,403.7h11.7v11.8h-11.7zM851.6,403.7h11.7v11.8h-11.7zM885.6,369.2h11.7v11.8h-11.7zM964.9,357.8h11.7v11.8h-11.7zM1010.2,357.8h11.7v11.8h-11.7zM1078.2,357.8h11.7v11.8h-11.7zM885.6,346.3h11.7v11.8h-11.7zM976.2,346.3h11.7v11.8h-11.7zM998.9,346.3h11.7v11.8h-11.7zM1021.5,346.3h11.7v11.8h-11.7zM1078.2,346.3h11.7v11.8h-11.7zM1327.5,346.3h11.7v11.8h-11.7zM1032.9,323.3h11.7v11.8h-11.7zM1089.5,323.3h11.7v11.8h-11.7zM1214.2,323.3h11.7v11.8h-11.7zM1327.5,311.8h11.7v11.8h-11.7zM1350.2,288.8h11.7v11.8h-11.7z"/>
<path fill="#c9ddf0" d="M1044.2,737.1h11.7v11.8h-11.7zM1225.5,737.1h11.7v11.8h-11.7zM1282.2,737.1h11.7v11.8h-11.7zM896.9,725.6h11.7v11.8h-11.7zM919.6,725.6h11.7v11.8h-11.7zM806.2,679.6h11.7v11.8h-11.7zM794.9,656.6h11.7v11.8h-11.7zM806.2,438.2h11.7v11.8h-11.7zM840.2,380.7h11.7v11.8h-11.7zM908.2,380.7h11.7v11.8h-11.7zM930.9,357.8h23v11.8h-23zM1146.2,357.8h11.7v11.8h-11.7zM953.5,346.3h11.7v11.8h-11.7zM1112.2,346.3h11.7v11.8h-11.7zM1134.9,346.3h11.7v11.8h-11.7zM1225.5,346.3h11.7v11.8h-11.7zM1112.2,334.8h11.7v11.8h-11.7zM1316.2,334.8h11.7v11.8h-11.7zM1168.9,323.3h23v11.8h-23z"/>
<path fill="#c7dcef" d="M1112.2,737.1h11.7v11.8h-11.7zM1168.9,737.1h23v11.8h-23zM1202.9,737.1h23v11.8h-23zM908.2,725.6h11.7v11.8h-11.7zM930.9,725.6h11.7v11.8h-11.7zM953.5,725.6h11.7v11.8h-11.7zM862.9,714.1h11.7v11.8h-11.7zM817.6,702.6h11.7v11.8h-11.7zM794.9,518.7h11.7v11.8h-11.7zM794.9,495.7h11.7v11.8h-11.7zM840.2,403.7h11.7v11.8h-11.7zM874.2,392.2h11.7v11.8h-11.7zM885.6,380.7h11.7v11.8h-11.7zM908.2,369.2h11.7v11.8h-11.7zM942.2,369.2h11.7v11.8h-11.7zM976.2,369.2h11.7v11.8h-11.7zM1066.9,369.2h11.7v11.8h-11.7zM1191.5,369.2h11.7v11.8h-11.7zM1248.2,357.8h11.7v11.8h-11.7zM1168.9,346.3h11.7v11.8h-11.7zM1236.8,346.3h23v11.8h-23zM1270.8,346.3h11.7v11.8h-11.7zM1202.9,334.8h11.7v11.8h-11.7zM1270.8,334.8h11.7v11.8h-11.7zM1304.8,334.8h11.7v11.8h-11.7z"/>
<path fill="#c3daee" d="M1123.5,737.1h11.7v11.8h-11.7zM840.2,702.6h11.7v11.8h-11.7zM794.9,645.2h11.7v11.8h-11.7zM806.2,461.2h11.7v11.8h-11.7zM806.2,449.7h11.7v11.8h-11.7zM840.2,392.2h11.7v11.8h-11.7zM862.9,392.2h11.7v11.8h-11.7zM1055.5,380.7h11.7v11.8h-11.7zM930.9,369.2h11.7v11.8h-11.7zM1282.2,369.2h11.7v11.8h-11.7zM908.2,357.8h11.7v11.8h-11.7zM1112.2,357.8h23v11.8h-23zM1157.5,357.8h11.7v11.8h-11.7zM1214.2,357.8h11.7v11.8h-11.7zM1316.2,357.8h11.7v11.8h-11.7zM1214.2,346.3h11.7v11.8h-11.7zM1157.5,334.8h11.7v11.8h-11.7zM1191.5,334.8h11.7v11.8h-11.7zM1078.2,323.3h11.7v11.8h-11.7zM1350.2,311.8h11.7v11.8h-11.7z"/>
<path fill="#c1d9ed" d="M1350.2,748.6h11.7v11.8h-11.7zM1248.2,737.1h23v11.8h-23zM840.2,714.1h11.7v11.8h-11.7zM794.9,633.7h11.7v11.8h-11.7zM896.9,380.7h11.7v11.8h-11.7zM964.9,369.2h11.7v11.8h-11.7zM987.5,369.2h23v11.8h-23zM1100.9,369.2h11.7v11.8h-11.7zM1123.5,369.2h11.7v11.8h-11.7zM1316.2,369.2h11.7v11.8h-11.7zM987.5,357.8h11.7v11.8h-11.7zM1168.9,357.8h23v11.8h-23zM1327.5,357.8h11.7v11.8h-11.7zM1089.5,346.3h11.7v11.8h-11.7zM1338.8,334.8h11.7v11.8h-11.7z"/>
<path fill="#bed8ec" d="M1270.8,737.1h11.7v11.8h-11.7zM794.9,507.2h11.7v11.8h-11.7zM851.6,392.2h11.7v11.8h-11.7zM919.6,380.7h11.7v11.8h-11.7zM1078.2,380.7h11.7v11.8h-11.7zM1225.5,380.7h11.7v11.8h-11.7zM919.6,369.2h11.7v11.8h-11.7zM1089.5,369.2h11.7v11.8h-11.7zM1248.2,369.2h11.7v11.8h-11.7zM953.5,357.8h11.7v11.8h-11.7zM976.2,357.8h11.7v11.8h-11.7zM1044.2,357.8h23v11.8h-23zM1202.9,357.8h11.7v11.8h-11.7zM1304.8,357.8h11.7v11.8h-11.7zM1032.9,346.3h11.7v11.8h-11.7zM1338.8,346.3h11.7v11.8h-11.7zM1089.5,334.8h11.7v11.8h-11.7zM1350.2,334.8h11.7v11.8h-11.7zM1350.2,323.3h11.7v11.8h-11.7z"/>
<path fill="#bcd7eb" d="M1191.5,737.1h11.7v11.8h-11.7zM1293.5,737.1h11.7v11.8h-11.7zM874.2,714.1h23v11.8h-23zM828.9,702.6h11.7v11.8h-11.7zM806.2,484.2h11.7v11.8h-11.7zM817.6,426.7h11.7v11.8h-11.7zM908.2,392.2h11.7v11.8h-11.7zM874.2,380.7h11.7v11.8h-11.7zM930.9,380.7h11.7v11.8h-11.7zM1010.2,369.2h11.7v11.8h-11.7zM1032.9,369.2h34.3v11.8h-34.3zM1146.2,369.2h23v11.8h-23zM1180.2,369.2h11.7v11.8h-11.7zM1202.9,369.2h11.7v11.8h-11.7zM1304.8,369.2h11.7v11.8h-11.7zM998.9,357.8h11.7v11.8h-11.7zM1021.5,357.8h11.7v11.8h-11.7zM1066.9,357.8h11.7v11.8h-11.7zM1089.5,357.8h11.7v11.8h-11.7zM1134.9,357.8h11.7v11.8h-11.7zM1191.5,357.8h11.7v11.8h-11.7zM1259.5,357.8h23v11.8h-23z"/>
<path fill="#b9d6ea" d="M1089.5,737.1h11.7v11.8h-11.7zM1316.2,737.1h11.7v11.8h-11.7zM976.2,725.6h11.7v11.8h-11.7zM828.9,415.2h11.7v11.8h-11.7zM896.9,392.2h11.7v11.8h-11.7zM942.2,392.2h11.7v11.8h-11.7zM964.9,380.7h11.7v11.8h-11.7zM998.9,380.7h11.7v11.8h-11.7zM1066.9,380.7h11.7v11.8h-11.7zM1089.5,380.7h11.7v11.8h-11.7zM1214.2,369.2h11.7v11.8h-11.7zM1236.8,369.2h11.7v11.8h-11.7zM1259.5,346.3h11.7v11.8h-11.7z"/>
<path fill="#b7d4ea" d="M964.9,725.6h11.7v11.8h-11.7zM987.5,725.6h11.7v11.8h-11.7zM1021.5,725.6h11.7v11.8h-11.7zM817.6,438.2h11.7v11.8h-11.7zM1236.8,380.7h11.7v11.8h-11.7zM1327.5,380.7h11.7v11.8h-11.7zM953.5,369.2h11.7v11.8h-11.7zM1168.9,369.2h11.7v11.8h-11.7zM1259.5,369.2h11.7v11.8h-11.7zM1293.5,369.2h11.7v11.8h-11.7zM1338.8,369.2h11.7v11.8h-11.7zM1225.5,357.8h11.7v11.8h-11.7z"/>
<path fill="#b4d3e9" d="M806.2,668.1h11.7v11.8h-11.7zM806.2,472.7h11.7v11.8h-11.7zM828.9,426.7h11.7v11.8h-11.7zM840.2,415.2h11.7v11.8h-11.7zM862.9,403.7h11.7v11.8h-11.7zM930.9,392.2h11.7v11.8h-11.7zM953.5,380.7h11.7v11.8h-11.7zM987.5,380.7h11.7v11.8h-11.7zM1100.9,380.7h11.7v11.8h-11.7zM1146.2,380.7h11.7v11.8h-11.7zM1191.5,380.7h11.7v11.8h-11.7zM1248.2,380.7h11.7v11.8h-11.7zM1293.5,380.7h11.7v11.8h-11.7zM1282.2,357.8h23v11.8h-23z"/>
<path fill="#b2d2e8" d="M1304.8,737.1h11.7v11.8h-11.7zM1010.2,725.6h11.7v11.8h-11.7zM885.6,403.7h11.7v11.8h-11.7zM998.9,392.2h11.7v11.8h-11.7zM1123.5,380.7h11.7v11.8h-11.7zM1021.5,369.2h11.7v11.8h-11.7zM1112.2,369.2h11.7v11.8h-11.7zM1270.8,369.2h11.7v11.8h-11.7z"/>
<path fill="#afd1e7" d="M1327.5,737.1h23v11.8h-23zM998.9,725.6h11.7v11.8h-11.7zM794.9,530.2h11.7v11.8h-11.7zM919.6,392.2h11.7v11.8h-11.7zM1055.5,392.2h11.7v11.8h-11.7zM1316.2,392.2h11.7v11.8h-11.7zM1044.2,380.7h11.7v11.8h-11.7zM1157.5,380.7h11.7v11.8h-11.7zM1180.2,380.7h11.7v11.8h-11.7zM1202.9,380.7h11.7v11.8h-11.7zM1316.2,380.7h11.7v11.8h-11.7zM1225.5,369.2h11.7v11.8h-11.7zM1327.5,369.2h11.7v11.8h-11.7zM1350.2,357.8h11.7v11.8h-11.7z"/>
<path fill="#add0e6" d="M1032.9,725.6h11.7v11.8h-11.7zM840.2,426.7h11.7v11.8h-11.7zM953.5,403.7h11.7v11.8h-11.7zM953.5,392.2h11.7v11.8h-11.7zM976.2,392.2h11.7v11.8h-11.7zM1089.5,392.2h11.7v11.8h-11.7zM1112.2,392.2h11.7v11.8h-11.7zM1146.2,392.2h11.7v11.8h-11.7zM1168.9,392.2h23v11.8h-23zM1248.2,392.2h11.7v11.8h-11.7zM942.2,380.7h11.7v11.8h-11.7zM1010.2,380.7h11.7v11.8h-11.7zM1112.2,380.7h11.7v11.8h-11.7zM1168.9,380.7h11.7v11.8h-11.7zM1259.5,380.7h11.7v11.8h-11.7zM1338.8,357.8h11.7v11.8h-11.7zM1350.2,346.3h11.7v11.8h-11.7z"/>
<path fill="#aacfe5" d="M896.9,714.1h11.7v11.8h-11.7zM817.6,691.1h23v11.8h-23zM851.6,415.2h11.7v11.8h-11.7zM874.2,403.7h11.7v11.8h-11.7zM885.6,392.2h11.7v11.8h-11.7zM987.5,392.2h11.7v11.8h-11.7zM1066.9,392.2h11.7v11.8h-11.7zM1157.5,392.2h11.7v11.8h-11.7zM1214.2,392.2h11.7v11.8h-11.7zM1236.8,392.2h11.7v11.8h-11.7zM1259.5,392.2h11.7v11.8h-11.7zM1327.5,392.2h11.7v11.8h-11.7zM1021.5,380.7h23v11.8h-23zM1134.9,380.7h11.7v11.8h-11.7zM1282.2,380.7h11.7v11.8h-11.7zM1078.2,369.2h11.7v11.8h-11.7zM1134.9,369.2h11.7v11.8h-11.7z"/>
<path fill="#a8cee4" d="M1100.9,725.6h11.7v11.8h-11.7zM851.6,702.6h11.7v11.8h-11.7zM794.9,553.2h11.7v11.8h-11.7zM817.6,449.7h11.7v11.8h-11.7zM896.9,403.7h23v11.8h-23zM1180.2,403.7h11.7v11.8h-11.7zM1270.8,380.7h11.7v11.8h-11.7z"/>
<path fill="#a5cde3" d="M851.6,426.7h11.7v11.8h-11.7zM874.2,415.2h11.7v11.8h-11.7zM919.6,403.7h23v11.8h-23zM1168.9,403.7h11.7v11.8h-11.7zM1236.8,403.7h11.7v11.8h-11.7zM964.9,392.2h11.7v11.8h-11.7zM1191.5,392.2h23v11.8h-23zM1338.8,392.2h11.7v11.8h-11.7zM976.2,380.7h11.7v11.8h-11.7zM1338.8,380.7h11.7v11.8h-11.7z"/>
<path fill="#a3cce3" d="M1044.2,725.6h11.7v11.8h-11.7zM1270.8,725.6h11.7v11.8h-11.7zM908.2,714.1h23v11.8h-23zM794.9,622.2h11.7v11.8h-11.7zM794.9,541.7h11.7v11.8h-11.7zM885.6,415.2h11.7v11.8h-11.7zM1214.2,403.7h11.7v11.8h-11.7zM1282.2,403.7h11.7v11.8h-11.7zM1304.8,403.7h11.7v11.8h-11.7zM1010.2,392.2h11.7v11.8h-11.7zM1078.2,392.2h11.7v11.8h-11.7zM1293.5,392.2h23v11.8h-23zM1214.2,380.7h11.7v11.8h-11.7zM1304.8,380.7h11.7v11.8h-11.7z"/>
<path fill="#a0cbe2" d="M1055.5,725.6h11.7v11.8h-11.7zM1112.2,725.6h11.7v11.8h-11.7zM794.9,610.7h11.7v11.8h-11.7zM794.9,599.2h11.7v11.8h-11.7zM794.9,564.7h11.7v11.8h-11.7zM817.6,461.2h11.7v11.8h-11.7zM828.9,438.2h23v11.8h-23zM862.9,415.2h11.7v11.8h-11.7zM964.9,403.7h11.7v11.8h-11.7zM1021.5,403.7h11.7v11.8h-11.7zM1078.2,403.7h23v11.8h-23zM1225.5,403.7h11.7v11.8h-11.7zM1259.5,403.7h11.7v11.8h-11.7zM1293.5,403.7h11.7v11.8h-11.7zM1316.2,403.7h23v11.8h-23zM1021.5,392.2h23v11.8h-23zM1100.9,392.2h11.7v11.8h-11.7zM1123.5,392.2h23v11.8h-23zM1225.5,392.2h11.7v11.8h-11.7zM1270.8,392.2h11.7v11.8h-11.7zM1350.2,369.2h11.7v11.8h-11.7z"/>
<path fill="#9dcae1" d="M817.6,679.6h11.7v11.8h-11.7zM794.9,587.7h11.7v11.8h-11.7zM828.9,449.7h11.7v11.8h-11.7zM885.6,426.7h11.7v11.8h-11.7zM1134.9,415.2h11.7v11.8h-11.7zM1304.8,415.2h11.7v11.8h-11.7zM976.2,403.7h23v11.8h-23zM1044.2,403.7h11.7v11.8h-11.7zM1066.9,403.7h11.7v11.8h-11.7zM1134.9,403.7h11.7v11.8h-11.7zM1044.2,392.2h11.7v11.8h-11.7zM1282.2,392.2h11.7v11.8h-11.7z"/>
<path fill="#9ac8e0" d="M1066.9,725.6h11.7v11.8h-11.7zM1134.9,725.6h11.7v11.8h-11.7zM942.2,714.1h11.7v11.8h-11.7zM964.9,714.1h11.7v11.8h-11.7zM874.2,702.6h11.7v11.8h-11.7zM794.9,576.2h11.7v11.8h-11.7zM862.9,426.7h11.7v11.8h-11.7zM1214.2,415.2h11.7v11.8h-11.7zM942.2,403.7h11.7v11.8h-11.7zM1112.2,403.7h11.7v11.8h-11.7zM1191.5,403.7h11.7v11.8h-11.7zM1338.8,403.7h11.7v11.8h-11.7z"/>
<path fill="#97c6df" d="M1089.5,725.6h11.7v11.8h-11.7zM1146.2,725.6h11.7v11.8h-11.7zM953.5,714.1h11.7v11.8h-11.7zM806.2,495.7h11.7v11.8h-11.7zM908.2,415.2h23v11.8h-23zM1316.2,415.2h11.7v11.8h-11.7zM1338.8,415.2h11.7v11.8h-11.7zM998.9,403.7h23v11.8h-23zM1100.9,403.7h11.7v11.8h-11.7zM1146.2,403.7h23v11.8h-23zM1350.2,380.7h11.7v11.8h-11.7z"/>
<path fill="#94c4df" d="M1078.2,725.6h11.7v11.8h-11.7zM1123.5,725.6h11.7v11.8h-11.7zM1191.5,725.6h23v11.8h-23zM1225.5,725.6h11.7v11.8h-11.7zM896.9,702.6h11.7v11.8h-11.7zM840.2,691.1h11.7v11.8h-11.7zM806.2,656.6h11.7v11.8h-11.7zM840.2,449.7h11.7v11.8h-11.7zM851.6,438.2h11.7v11.8h-11.7zM908.2,426.7h11.7v11.8h-11.7zM896.9,415.2h11.7v11.8h-11.7zM1112.2,415.2h11.7v11.8h-11.7zM1168.9,415.2h11.7v11.8h-11.7zM1236.8,415.2h11.7v11.8h-11.7zM1259.5,415.2h23v11.8h-23zM1032.9,403.7h11.7v11.8h-11.7zM1055.5,403.7h11.7v11.8h-11.7zM1202.9,403.7h11.7v11.8h-11.7z"/>
<path fill="#91c3de" d="M1168.9,725.6h11.7v11.8h-11.7zM1236.8,725.6h23v11.8h-23zM806.2,507.2h11.7v11.8h-11.7zM874.2,426.7h11.7v11.8h-11.7zM1293.5,426.7h11.7v11.8h-11.7zM1316.2,426.7h11.7v11.8h-11.7zM930.9,415.2h34.3v11.8h-34.3zM1010.2,415.2h11.7v11.8h-11.7zM1066.9,415.2h11.7v11.8h-11.7zM1146.2,415.2h23v11.8h-23zM1180.2,415.2h34.3v11.8h-34.3zM1225.5,415.2h11.7v11.8h-11.7zM1123.5,403.7h11.7v11.8h-11.7zM1270.8,403.7h11.7v11.8h-11.7z"/>
<path fill="#8dc1dd" d="M1157.5,725.6h11.7v11.8h-11.7zM1180.2,725.6h11.7v11.8h-11.7zM1214.2,725.6h11.7v11.8h-11.7zM1259.5,725.6h11.7v11.8h-11.7zM1282.2,725.6h11.7v11.8h-11.7zM976.2,714.1h11.7v11.8h-11.7zM862.9,702.6h11.7v11.8h-11.7zM942.2,426.7h11.7v11.8h-11.7zM964.9,415.2h23v11.8h-23zM1032.9,415.2h11.7v11.8h-11.7zM1100.9,415.2h11.7v11.8h-11.7zM1282.2,415.2h23v11.8h-23zM1327.5,415.2h11.7v11.8h-11.7zM1248.2,403.7h11.7v11.8h-11.7z"/>
<path fill="#8abfdd" d="M1350.2,737.1h11.7v11.8h-11.7zM1293.5,725.6h11.7v11.8h-11.7zM987.5,714.1h11.7v11.8h-11.7zM885.6,702.6h11.7v11.8h-11.7zM828.9,679.6h11.7v11.8h-11.7zM817.6,668.1h11.7v11.8h-11.7zM828.9,461.2h11.7v11.8h-11.7zM851.6,449.7h11.7v11.8h-11.7zM919.6,426.7h11.7v11.8h-11.7zM1225.5,426.7h11.7v11.8h-11.7zM1304.8,426.7h11.7v11.8h-11.7zM1021.5,415.2h11.7v11.8h-11.7zM1044.2,415.2h23v11.8h-23zM1078.2,415.2h23v11.8h-23zM1123.5,415.2h11.7v11.8h-11.7zM1248.2,415.2h11.7v11.8h-11.7z"/>
<path fill="#87bddc" d="M1304.8,725.6h23v11.8h-23zM930.9,714.1h11.7v11.8h-11.7zM908.2,702.6h11.7v11.8h-11.7zM851.6,691.1h11.7v11.8h-11.7zM806.2,645.2h11.7v11.8h-11.7zM862.9,438.2h11.7v11.8h-11.7zM896.9,426.7h11.7v11.8h-11.7zM1214.2,426.7h11.7v11.8h-11.7zM998.9,415.2h11.7v11.8h-11.7zM1350.2,392.2h11.7v11.8h-11.7z"/>
<path fill="#84bcdb" d="M817.6,472.7h11.7v11.8h-11.7zM896.9,438.2h11.7v11.8h-11.7zM930.9,426.7h11.7v11.8h-11.7zM964.9,426.7h11.7v11.8h-11.7zM1078.2,426.7h11.7v11.8h-11.7zM1123.5,426.7h11.7v11.8h-11.7zM1248.2,426.7h23v11.8h-23zM1282.2,426.7h11.7v11.8h-11.7zM987.5,415.2h11.7v11.8h-11.7z"/>
<path fill="#81badb" d="M998.9,714.1h23v11.8h-23zM919.6,702.6h11.7v11.8h-11.7zM862.9,691.1h11.7v11.8h-11.7zM806.2,633.7h11.7v11.8h-11.7zM806.2,518.7h11.7v11.8h-11.7zM874.2,438.2h11.7v11.8h-11.7zM1304.8,438.2h11.7v11.8h-11.7zM953.5,426.7h11.7v11.8h-11.7zM976.2,426.7h45.7v11.8h-45.7zM1066.9,426.7h11.7v11.8h-11.7zM1112.2,426.7h11.7v11.8h-11.7zM1146.2,426.7h57v11.8h-57zM1236.8,426.7h11.7v11.8h-11.7zM1270.8,426.7h11.7v11.8h-11.7zM1327.5,426.7h23v11.8h-23zM1350.2,403.7h11.7v11.8h-11.7z"/>
<path fill="#7db8da" d="M1021.5,714.1h23v11.8h-23zM806.2,530.2h11.7v11.8h-11.7zM817.6,484.2h11.7v11.8h-11.7zM840.2,461.2h11.7v11.8h-11.7zM885.6,438.2h11.7v11.8h-11.7zM1236.8,438.2h11.7v11.8h-11.7zM1089.5,426.7h23v11.8h-23zM1350.2,415.2h11.7v11.8h-11.7z"/>
<path fill="#7ab6d9" d="M942.2,702.6h11.7v11.8h-11.7zM874.2,691.1h11.7v11.8h-11.7zM840.2,679.6h11.7v11.8h-11.7zM828.9,472.7h11.7v11.8h-11.7zM862.9,449.7h23v11.8h-23zM919.6,438.2h11.7v11.8h-11.7zM942.2,438.2h11.7v11.8h-11.7zM1248.2,438.2h11.7v11.8h-11.7zM1032.9,426.7h11.7v11.8h-11.7zM1055.5,426.7h11.7v11.8h-11.7z"/>
<path fill="#77b5d9" d="M1078.2,714.1h11.7v11.8h-11.7zM885.6,449.7h11.7v11.8h-11.7zM908.2,438.2h11.7v11.8h-11.7zM930.9,438.2h11.7v11.8h-11.7zM964.9,438.2h11.7v11.8h-11.7zM987.5,438.2h11.7v11.8h-11.7zM1044.2,438.2h11.7v11.8h-11.7zM1100.9,438.2h11.7v11.8h-11.7zM1214.2,438.2h11.7v11.8h-11.7zM1270.8,438.2h11.7v11.8h-11.7zM1293.5,438.2h11.7v11.8h-11.7zM1316.2,438.2h11.7v11.8h-11.7zM1044.2,426.7h11.7v11.8h-11.7zM1134.9,426.7h11.7v11.8h-11.7zM1202.9,426.7h11.7v11.8h-11.7z"/>
<path fill="#74b3d8" d="M1338.8,725.6h11.7v11.8h-11.7zM930.9,702.6h11.7v11.8h-11.7zM896.9,691.1h11.7v11.8h-11.7zM828.9,668.1h11.7v11.8h-11.7zM806.2,622.2h11.7v11.8h-11.7zM1293.5,449.7h11.7v11.8h-11.7zM1316.2,449.7h11.7v11.8h-11.7zM1066.9,438.2h23v11.8h-23zM1191.5,438.2h23v11.8h-23zM1225.5,438.2h11.7v11.8h-11.7zM1282.2,438.2h11.7v11.8h-11.7zM1327.5,438.2h23v11.8h-23zM1021.5,426.7h11.7v11.8h-11.7z"/>
<path fill="#71b1d7" d="M1327.5,725.6h11.7v11.8h-11.7zM1055.5,714.1h11.7v11.8h-11.7zM1089.5,714.1h11.7v11.8h-11.7zM1123.5,714.1h11.7v11.8h-11.7zM953.5,702.6h11.7v11.8h-11.7zM817.6,495.7h11.7v11.8h-11.7zM828.9,484.2h11.7v11.8h-11.7zM840.2,472.7h11.7v11.8h-11.7zM851.6,461.2h11.7v11.8h-11.7zM976.2,438.2h11.7v11.8h-11.7zM998.9,438.2h23v11.8h-23zM1032.9,438.2h11.7v11.8h-11.7zM1112.2,438.2h23v11.8h-23zM1146.2,438.2h23v11.8h-23zM1180.2,438.2h11.7v11.8h-11.7zM1350.2,426.7h11.7v11.8h-11.7z"/>
<path fill="#6dafd7" d="M1066.9,714.1h11.7v11.8h-11.7zM1112.2,714.1h11.7v11.8h-11.7zM1134.9,714.1h11.7v11.8h-11.7zM1180.2,714.1h11.7v11.8h-11.7zM885.6,691.1h11.7v11.8h-11.7zM851.6,679.6h11.7v11.8h-11.7zM851.6,472.7h11.7v11.8h-11.7zM862.9,461.2h23v11.8h-23zM896.9,449.7h23v11.8h-23zM953.5,438.2h11.7v11.8h-11.7zM1055.5,438.2h11.7v11.8h-11.7zM1134.9,438.2h11.7v11.8h-11.7zM1168.9,438.2h11.7v11.8h-11.7zM1259.5,438.2h11.7v11.8h-11.7z"/>
<path fill="#69add5" d="M1044.2,714.1h11.7v11.8h-11.7zM1100.9,714.1h11.7v11.8h-11.7zM964.9,702.6h23v11.8h-23zM840.2,668.1h11.7v11.8h-11.7zM817.6,656.6h11.7v11.8h-11.7zM806.2,564.7h11.7v11.8h-11.7zM806.2,553.2h11.7v11.8h-11.7zM806.2,541.7h11.7v11.8h-11.7zM919.6,449.7h23v11.8h-23zM1123.5,449.7h11.7v11.8h-11.7zM1225.5,449.7h11.7v11.8h-11.7zM1248.2,449.7h45.7v11.8h-45.7zM1304.8,449.7h11.7v11.8h-11.7zM1327.5,449.7h23v11.8h-23zM1089.5,438.2h11.7v11.8h-11.7z"/>
<path fill="#66abd4" d="M1146.2,714.1h23v11.8h-23zM1191.5,714.1h11.7v11.8h-11.7zM1214.2,714.1h23v11.8h-23zM1248.2,714.1h23v11.8h-23zM908.2,691.1h11.7v11.8h-11.7zM806.2,610.7h11.7v11.8h-11.7zM862.9,472.7h11.7v11.8h-11.7zM896.9,461.2h23v11.8h-23zM1316.2,461.2h11.7v11.8h-11.7zM1112.2,449.7h11.7v11.8h-11.7zM1168.9,449.7h34.3v11.8h-34.3zM1236.8,449.7h11.7v11.8h-11.7zM1021.5,438.2h11.7v11.8h-11.7z"/>
<path fill="#64a9d3" d="M1168.9,714.1h11.7v11.8h-11.7zM1202.9,714.1h11.7v11.8h-11.7zM1236.8,714.1h11.7v11.8h-11.7zM987.5,702.6h23v11.8h-23zM862.9,679.6h11.7v11.8h-11.7zM806.2,576.2h11.7v11.8h-11.7zM1293.5,461.2h23v11.8h-23zM953.5,449.7h23v11.8h-23zM1021.5,449.7h11.7v11.8h-11.7zM1055.5,449.7h23v11.8h-23zM1089.5,449.7h11.7v11.8h-11.7zM1134.9,449.7h11.7v11.8h-11.7zM1202.9,449.7h23v11.8h-23z"/>
<path fill="#61a7d2" d="M1270.8,714.1h11.7v11.8h-11.7zM1010.2,702.6h11.7v11.8h-11.7zM919.6,691.1h23v11.8h-23zM828.9,656.6h11.7v11.8h-11.7zM806.2,599.2h11.7v11.8h-11.7zM817.6,507.2h11.7v11.8h-11.7zM828.9,495.7h11.7v11.8h-11.7zM840.2,484.2h11.7v11.8h-11.7zM885.6,461.2h11.7v11.8h-11.7zM919.6,461.2h11.7v11.8h-11.7zM1282.2,461.2h11.7v11.8h-11.7zM1327.5,461.2h23v11.8h-23zM942.2,449.7h11.7v11.8h-11.7zM976.2,449.7h45.7v11.8h-45.7zM1032.9,449.7h23v11.8h-23zM1078.2,449.7h11.7v11.8h-11.7zM1100.9,449.7h11.7v11.8h-11.7zM1146.2,449.7h23v11.8h-23zM1350.2,438.2h11.7v11.8h-11.7z"/>
<path fill="#5fa6d1" d="M1350.2,725.6h11.7v11.8h-11.7zM1282.2,714.1h45.7v11.8h-45.7zM1032.9,702.6h11.7v11.8h-11.7zM874.2,679.6h11.7v11.8h-11.7zM806.2,587.7h11.7v11.8h-11.7zM874.2,472.7h11.7v11.8h-11.7zM930.9,461.2h11.7v11.8h-11.7zM1225.5,461.2h11.7v11.8h-11.7zM1270.8,461.2h11.7v11.8h-11.7z"/>
<path fill="#5ca4d0" d="M885.6,679.6h11.7v11.8h-11.7zM817.6,645.2h11.7v11.8h-11.7zM817.6,518.7h11.7v11.8h-11.7zM840.2,495.7h11.7v11.8h-11.7zM1202.9,461.2h11.7v11.8h-11.7zM1236.8,461.2h34.3v11.8h-34.3z"/>
<path fill="#5aa2cf" d="M1327.5,714.1h11.7v11.8h-11.7zM1021.5,702.6h11.7v11.8h-11.7zM1055.5,702.6h11.7v11.8h-11.7zM953.5,691.1h11.7v11.8h-11.7zM851.6,668.1h11.7v11.8h-11.7zM851.6,484.2h23v11.8h-23zM885.6,472.7h23v11.8h-23zM1316.2,472.7h11.7v11.8h-11.7zM942.2,461.2h23v11.8h-23zM976.2,461.2h11.7v11.8h-11.7zM1134.9,461.2h34.3v11.8h-34.3zM1191.5,461.2h11.7v11.8h-11.7zM1214.2,461.2h11.7v11.8h-11.7zM1350.2,449.7h11.7v11.8h-11.7z"/>
<path fill="#57a0ce" d="M1044.2,702.6h11.7v11.8h-11.7zM1078.2,702.6h11.7v11.8h-11.7zM942.2,691.1h11.7v11.8h-11.7zM964.9,691.1h11.7v11.8h-11.7zM896.9,679.6h11.7v11.8h-11.7zM840.2,656.6h11.7v11.8h-11.7zM908.2,472.7h11.7v11.8h-11.7zM1270.8,472.7h11.7v11.8h-11.7zM1293.5,472.7h11.7v11.8h-11.7zM964.9,461.2h11.7v11.8h-11.7zM987.5,461.2h34.3v11.8h-34.3zM1032.9,461.2h11.7v11.8h-11.7zM1055.5,461.2h23v11.8h-23zM1100.9,461.2h34.3v11.8h-34.3zM1168.9,461.2h23v11.8h-23z"/>
<path fill="#549fcd" d="M1066.9,702.6h11.7v11.8h-11.7zM1089.5,702.6h11.7v11.8h-11.7zM908.2,679.6h11.7v11.8h-11.7zM817.6,530.2h11.7v11.8h-11.7zM828.9,507.2h11.7v11.8h-11.7zM1225.5,472.7h11.7v11.8h-11.7zM1282.2,472.7h11.7v11.8h-11.7zM1304.8,472.7h11.7v11.8h-11.7zM1327.5,472.7h23v11.8h-23zM1021.5,461.2h11.7v11.8h-11.7zM1044.2,461.2h11.7v11.8h-11.7zM1078.2,461.2h23v11.8h-23z"/>
<path fill="#529dcc" d="M1338.8,714.1h11.7v11.8h-11.7zM1112.2,702.6h23v11.8h-23zM862.9,668.1h11.7v11.8h-11.7zM828.9,645.2h11.7v11.8h-11.7zM851.6,495.7h11.7v11.8h-11.7zM874.2,484.2h11.7v11.8h-11.7zM1259.5,472.7h11.7v11.8h-11.7z"/>
<path fill="#4f9bcb" d="M1134.9,702.6h11.7v11.8h-11.7zM976.2,691.1h34.3v11.8h-34.3zM919.6,679.6h11.7v11.8h-11.7zM874.2,668.1h11.7v11.8h-11.7zM828.9,518.7h11.7v11.8h-11.7zM840.2,507.2h11.7v11.8h-11.7zM1304.8,484.2h23v11.8h-23zM919.6,472.7h34.3v11.8h-34.3zM964.9,472.7h11.7v11.8h-11.7zM1134.9,472.7h11.7v11.8h-11.7zM1191.5,472.7h23v11.8h-23zM1236.8,472.7h11.7v11.8h-11.7zM1350.2,461.2h11.7v11.8h-11.7z"/>
<path fill="#4d99ca" d="M1100.9,702.6h11.7v11.8h-11.7zM1146.2,702.6h68.3v11.8h-68.3zM930.9,679.6h11.7v11.8h-11.7zM885.6,668.1h11.7v11.8h-11.7zM817.6,633.7h11.7v11.8h-11.7zM817.6,541.7h11.7v11.8h-11.7zM862.9,495.7h11.7v11.8h-11.7zM885.6,484.2h34.3v11.8h-34.3zM1282.2,484.2h11.7v11.8h-11.7zM1327.5,484.2h11.7v11.8h-11.7zM953.5,472.7h11.7v11.8h-11.7zM976.2,472.7h11.7v11.8h-11.7zM998.9,472.7h11.7v11.8h-11.7zM1044.2,472.7h11.7v11.8h-11.7zM1112.2,472.7h23v11.8h-23zM1180.2,472.7h11.7v11.8h-11.7zM1214.2,472.7h11.7v11.8h-11.7zM1248.2,472.7h11.7v11.8h-11.7z"/>
<path fill="#4a98c9" d="M1225.5,702.6h45.7v11.8h-45.7zM1010.2,691.1h11.7v11.8h-11.7zM851.6,656.6h11.7v11.8h-11.7zM817.6,622.2h11.7v11.8h-11.7zM1259.5,484.2h11.7v11.8h-11.7zM1293.5,484.2h11.7v11.8h-11.7zM987.5,472.7h11.7v11.8h-11.7zM1021.5,472.7h11.7v11.8h-11.7zM1066.9,472.7h45.7v11.8h-45.7zM1146.2,472.7h34.3v11.8h-34.3z"/>
<path fill="#4896c8" d="M1214.2,702.6h11.7v11.8h-11.7zM1270.8,702.6h23v11.8h-23zM1304.8,702.6h23v11.8h-23zM942.2,679.6h23v11.8h-23zM840.2,645.2h11.7v11.8h-11.7zM840.2,518.7h11.7v11.8h-11.7zM874.2,495.7h11.7v11.8h-11.7zM919.6,484.2h23v11.8h-23zM1214.2,484.2h11.7v11.8h-11.7zM1236.8,484.2h11.7v11.8h-11.7zM1270.8,484.2h11.7v11.8h-11.7zM1338.8,484.2h11.7v11.8h-11.7zM1032.9,472.7h11.7v11.8h-11.7zM1055.5,472.7h11.7v11.8h-11.7z"/>
<path fill="#4594c7" d="M1293.5,702.6h11.7v11.8h-11.7zM1021.5,691.1h23v11.8h-23zM896.9,668.1h11.7v11.8h-11.7zM817.6,553.2h11.7v11.8h-11.7zM828.9,530.2h11.7v11.8h-11.7zM851.6,507.2h11.7v11.8h-11.7zM1316.2,495.7h23v11.8h-23zM1248.2,484.2h11.7v11.8h-11.7zM1010.2,472.7h11.7v11.8h-11.7zM1350.2,472.7h11.7v11.8h-11.7z"/>
<path fill="#4292c6" d="M1327.5,702.6h11.7v11.8h-11.7zM1044.2,691.1h11.7v11.8h-11.7zM1078.2,691.1h11.7v11.8h-11.7zM964.9,679.6h23v11.8h-23zM862.9,656.6h23v11.8h-23zM828.9,633.7h11.7v11.8h-11.7zM817.6,610.7h11.7v11.8h-11.7zM817.6,564.7h11.7v11.8h-11.7zM828.9,541.7h11.7v11.8h-11.7zM862.9,507.2h11.7v11.8h-11.7zM885.6,495.7h11.7v11.8h-11.7zM942.2,484.2h23v11.8h-23zM976.2,484.2h11.7v11.8h-11.7zM1157.5,484.2h23v11.8h-23zM1191.5,484.2h23v11.8h-23zM1225.5,484.2h11.7v11.8h-11.7z"/>
<path fill="#4090c5" d="M1350.2,714.1h11.7v11.8h-11.7zM1055.5,691.1h23v11.8h-23zM1134.9,691.1h11.7v11.8h-11.7zM908.2,668.1h11.7v11.8h-11.7zM817.6,599.2h11.7v11.8h-11.7zM840.2,530.2h11.7v11.8h-11.7zM874.2,507.2h11.7v11.8h-11.7zM896.9,495.7h34.3v11.8h-34.3zM1248.2,495.7h11.7v11.8h-11.7zM1282.2,495.7h23v11.8h-23zM1338.8,495.7h11.7v11.8h-11.7zM964.9,484.2h11.7v11.8h-11.7zM987.5,484.2h23v11.8h-23zM1032.9,484.2h34.3v11.8h-34.3zM1078.2,484.2h23v11.8h-23zM1146.2,484.2h11.7v11.8h-11.7zM1180.2,484.2h11.7v11.8h-11.7z"/>
<path fill="#3e8ec4" d="M1089.5,691.1h34.3v11.8h-34.3zM987.5,679.6h23v11.8h-23zM919.6,668.1h11.7v11.8h-11.7zM851.6,645.2h11.7v11.8h-11.7zM817.6,587.7h11.7v11.8h-11.7zM851.6,518.7h11.7v11.8h-11.7zM1316.2,507.2h11.7v11.8h-11.7zM1259.5,495.7h23v11.8h-23zM1304.8,495.7h11.7v11.8h-11.7zM1010.2,484.2h23v11.8h-23zM1066.9,484.2h11.7v11.8h-11.7zM1100.9,484.2h45.7v11.8h-45.7zM1350.2,484.2h11.7v11.8h-11.7z"/>
<path fill="#3c8cc3" d="M1338.8,702.6h11.7v11.8h-11.7zM1123.5,691.1h11.7v11.8h-11.7zM1146.2,691.1h11.7v11.8h-11.7zM1202.9,691.1h11.7v11.8h-11.7zM1010.2,679.6h11.7v11.8h-11.7zM817.6,576.2h11.7v11.8h-11.7zM828.9,553.2h11.7v11.8h-11.7zM885.6,507.2h11.7v11.8h-11.7zM930.9,495.7h11.7v11.8h-11.7zM1225.5,495.7h23v11.8h-23z"/>
<path fill="#3a8ac2" d="M1157.5,691.1h11.7v11.8h-11.7zM1180.2,691.1h23v11.8h-23zM1225.5,691.1h11.7v11.8h-11.7zM930.9,668.1h23v11.8h-23zM885.6,656.6h23v11.8h-23zM840.2,633.7h11.7v11.8h-11.7zM828.9,622.2h11.7v11.8h-11.7zM862.9,518.7h11.7v11.8h-11.7zM896.9,507.2h11.7v11.8h-11.7zM1304.8,507.2h11.7v11.8h-11.7zM1327.5,507.2h11.7v11.8h-11.7zM942.2,495.7h34.3v11.8h-34.3zM1202.9,495.7h23v11.8h-23z"/>
<path fill="#3888c1" d="M1168.9,691.1h11.7v11.8h-11.7zM1236.8,691.1h45.7v11.8h-45.7zM1021.5,679.6h23v11.8h-23zM953.5,668.1h11.7v11.8h-11.7zM862.9,645.2h11.7v11.8h-11.7zM828.9,610.7h11.7v11.8h-11.7zM828.9,599.2h11.7v11.8h-11.7zM828.9,564.7h11.7v11.8h-11.7zM851.6,530.2h11.7v11.8h-11.7zM908.2,507.2h11.7v11.8h-11.7zM1270.8,507.2h11.7v11.8h-11.7zM1293.5,507.2h11.7v11.8h-11.7zM1338.8,507.2h11.7v11.8h-11.7zM1089.5,495.7h11.7v11.8h-11.7zM1134.9,495.7h11.7v11.8h-11.7zM1168.9,495.7h34.3v11.8h-34.3z"/>
<path fill="#3686c0" d="M1214.2,691.1h11.7v11.8h-11.7zM1282.2,691.1h23v11.8h-23zM1316.2,691.1h11.7v11.8h-11.7zM1044.2,679.6h23v11.8h-23zM840.2,541.7h11.7v11.8h-11.7zM874.2,518.7h11.7v11.8h-11.7zM919.6,507.2h11.7v11.8h-11.7zM1259.5,507.2h11.7v11.8h-11.7zM1282.2,507.2h11.7v11.8h-11.7zM976.2,495.7h91v11.8h-91zM1078.2,495.7h11.7v11.8h-11.7zM1100.9,495.7h34.3v11.8h-34.3zM1146.2,495.7h23v11.8h-23zM1350.2,495.7h11.7v11.8h-11.7z"/>
<path fill="#3484bf" d="M1304.8,691.1h11.7v11.8h-11.7zM1327.5,691.1h11.7v11.8h-11.7zM1066.9,679.6h23v11.8h-23zM964.9,668.1h11.7v11.8h-11.7zM908.2,656.6h11.7v11.8h-11.7zM851.6,633.7h11.7v11.8h-11.7zM840.2,622.2h11.7v11.8h-11.7zM828.9,587.7h11.7v11.8h-11.7zM828.9,576.2h11.7v11.8h-11.7zM840.2,553.2h11.7v11.8h-11.7zM862.9,530.2h11.7v11.8h-11.7zM896.9,518.7h11.7v11.8h-11.7zM1316.2,518.7h11.7v11.8h-11.7zM1338.8,518.7h11.7v11.8h-11.7zM930.9,507.2h11.7v11.8h-11.7zM1225.5,507.2h11.7v11.8h-11.7zM1248.2,507.2h11.7v11.8h-11.7zM1066.9,495.7h11.7v11.8h-11.7z"/>
<path fill="#3282be" d="M1350.2,702.6h11.7v11.8h-11.7zM1338.8,691.1h11.7v11.8h-11.7zM1089.5,679.6h11.7v11.8h-11.7zM976.2,668.1h23v11.8h-23zM919.6,656.6h11.7v11.8h-11.7zM874.2,645.2h11.7v11.8h-11.7zM851.6,541.7h11.7v11.8h-11.7zM885.6,518.7h11.7v11.8h-11.7zM1327.5,518.7h11.7v11.8h-11.7zM942.2,507.2h23v11.8h-23zM1214.2,507.2h11.7v11.8h-11.7zM1236.8,507.2h11.7v11.8h-11.7z"/>
<path fill="#3080bd" d="M1100.9,679.6h11.7v11.8h-11.7zM998.9,668.1h23v11.8h-23zM930.9,656.6h23v11.8h-23zM885.6,645.2h11.7v11.8h-11.7zM840.2,564.7h11.7v11.8h-11.7zM874.2,530.2h11.7v11.8h-11.7zM1282.2,518.7h34.3v11.8h-34.3zM964.9,507.2h34.3v11.8h-34.3zM1191.5,507.2h11.7v11.8h-11.7zM1350.2,507.2h11.7v11.8h-11.7z"/>
<path fill="#2e7ebc" d="M1112.2,679.6h57v11.8h-57zM1032.9,668.1h11.7v11.8h-11.7zM896.9,645.2h11.7v11.8h-11.7zM862.9,633.7h11.7v11.8h-11.7zM840.2,610.7h11.7v11.8h-11.7zM840.2,576.2h11.7v11.8h-11.7zM862.9,541.7h11.7v11.8h-11.7zM908.2,518.7h23v11.8h-23zM1270.8,518.7h11.7v11.8h-11.7zM1010.2,507.2h34.3v11.8h-34.3zM1089.5,507.2h11.7v11.8h-11.7zM1112.2,507.2h11.7v11.8h-11.7zM1134.9,507.2h11.7v11.8h-11.7zM1157.5,507.2h34.3v11.8h-34.3zM1202.9,507.2h11.7v11.8h-11.7z"/>
<path fill="#2c7cba" d="M1168.9,679.6h34.3v11.8h-34.3zM1236.8,679.6h11.7v11.8h-11.7zM1021.5,668.1h11.7v11.8h-11.7zM953.5,656.6h11.7v11.8h-11.7zM874.2,633.7h11.7v11.8h-11.7zM851.6,622.2h11.7v11.8h-11.7zM840.2,599.2h11.7v11.8h-11.7zM840.2,587.7h11.7v11.8h-11.7zM851.6,553.2h11.7v11.8h-11.7zM885.6,530.2h11.7v11.8h-11.7zM1316.2,530.2h11.7v11.8h-11.7zM1338.8,530.2h11.7v11.8h-11.7zM930.9,518.7h11.7v11.8h-11.7zM1236.8,518.7h34.3v11.8h-34.3zM998.9,507.2h11.7v11.8h-11.7zM1044.2,507.2h45.7v11.8h-45.7zM1100.9,507.2h11.7v11.8h-11.7zM1123.5,507.2h11.7v11.8h-11.7zM1146.2,507.2h11.7v11.8h-11.7z"/>
<path fill="#2a7ab9" d="M1202.9,679.6h34.3v11.8h-34.3zM1259.5,679.6h23v11.8h-23zM1044.2,668.1h23v11.8h-23zM964.9,656.6h11.7v11.8h-11.7zM908.2,645.2h11.7v11.8h-11.7zM1293.5,530.2h23v11.8h-23zM1327.5,530.2h11.7v11.8h-11.7zM942.2,518.7h11.7v11.8h-11.7zM1225.5,518.7h11.7v11.8h-11.7z"/>
<path fill="#2777b8" d="M1248.2,679.6h11.7v11.8h-11.7zM1282.2,679.6h23v11.8h-23zM1316.2,679.6h11.7v11.8h-11.7zM1066.9,668.1h11.7v11.8h-11.7zM976.2,656.6h11.7v11.8h-11.7zM998.9,656.6h11.7v11.8h-11.7zM919.6,645.2h23v11.8h-23zM885.6,633.7h11.7v11.8h-11.7zM862.9,622.2h11.7v11.8h-11.7zM851.6,610.7h11.7v11.8h-11.7zM851.6,564.7h11.7v11.8h-11.7zM874.2,541.7h11.7v11.8h-11.7zM896.9,530.2h23v11.8h-23zM953.5,518.7h23v11.8h-23zM987.5,518.7h11.7v11.8h-11.7zM1180.2,518.7h45.7v11.8h-45.7zM1350.2,518.7h11.7v11.8h-11.7z"/>
<path fill="#2575b7" d="M1304.8,679.6h11.7v11.8h-11.7zM1327.5,679.6h11.7v11.8h-11.7zM1078.2,668.1h11.7v11.8h-11.7zM987.5,656.6h11.7v11.8h-11.7zM851.6,599.2h11.7v11.8h-11.7zM851.6,587.7h11.7v11.8h-11.7zM851.6,576.2h11.7v11.8h-11.7zM862.9,553.2h11.7v11.8h-11.7zM885.6,541.7h11.7v11.8h-11.7zM919.6,530.2h11.7v11.8h-11.7zM1270.8,530.2h23v11.8h-23zM976.2,518.7h11.7v11.8h-11.7zM998.9,518.7h23v11.8h-23zM1032.9,518.7h23v11.8h-23zM1112.2,518.7h11.7v11.8h-11.7zM1134.9,518.7h11.7v11.8h-11.7zM1157.5,518.7h23v11.8h-23z"/>
<path fill="#2373b6" d="M1338.8,679.6h11.7v11.8h-11.7zM1089.5,668.1h34.3v11.8h-34.3zM1134.9,668.1h11.7v11.8h-11.7zM1010.2,656.6h11.7v11.8h-11.7zM942.2,645.2h11.7v11.8h-11.7zM896.9,633.7h11.7v11.8h-11.7zM874.2,622.2h11.7v11.8h-11.7zM862.9,610.7h11.7v11.8h-11.7zM862.9,564.7h11.7v11.8h-11.7zM874.2,553.2h11.7v11.8h-11.7zM896.9,541.7h11.7v11.8h-11.7zM1327.5,541.7h23v11.8h-23zM930.9,530.2h11.7v11.8h-11.7zM1259.5,530.2h11.7v11.8h-11.7zM1021.5,518.7h11.7v11.8h-11.7zM1055.5,518.7h57v11.8h-57zM1123.5,518.7h11.7v11.8h-11.7zM1146.2,518.7h11.7v11.8h-11.7z"/>
<path fill="#2171b5" d="M1350.2,691.1h11.7v11.8h-11.7zM1123.5,668.1h11.7v11.8h-11.7zM1021.5,656.6h11.7v11.8h-11.7zM953.5,645.2h11.7v11.8h-11.7zM862.9,599.2h11.7v11.8h-11.7zM862.9,587.7h11.7v11.8h-11.7zM862.9,576.2h11.7v11.8h-11.7zM874.2,564.7h11.7v11.8h-11.7zM885.6,553.2h11.7v11.8h-11.7zM908.2,541.7h11.7v11.8h-11.7zM1293.5,541.7h11.7v11.8h-11.7zM1316.2,541.7h11.7v11.8h-11.7zM942.2,530.2h23v11.8h-23zM976.2,530.2h11.7v11.8h-11.7zM1214.2,530.2h45.7v11.8h-45.7z"/>
<path fill="#206fb4" d="M1146.2,668.1h79.7v11.8h-79.7zM1032.9,656.6h23v11.8h-23zM908.2,633.7h23v11.8h-23zM885.6,622.2h11.7v11.8h-11.7zM896.9,553.2h11.7v11.8h-11.7zM919.6,541.7h11.7v11.8h-11.7zM1304.8,541.7h11.7v11.8h-11.7zM964.9,530.2h11.7v11.8h-11.7zM987.5,530.2h23v11.8h-23zM1180.2,530.2h34.3v11.8h-34.3zM1350.2,530.2h11.7v11.8h-11.7z"/>
<path fill="#1e6db2" d="M1225.5,668.1h57v11.8h-57zM1055.5,656.6h11.7v11.8h-11.7zM964.9,645.2h23v11.8h-23zM896.9,622.2h11.7v11.8h-11.7zM874.2,610.7h11.7v11.8h-11.7zM874.2,576.2h11.7v11.8h-11.7zM885.6,564.7h11.7v11.8h-11.7zM908.2,553.2h11.7v11.8h-11.7zM930.9,541.7h11.7v11.8h-11.7zM1259.5,541.7h34.3v11.8h-34.3zM1010.2,530.2h34.3v11.8h-34.3zM1123.5,530.2h11.7v11.8h-11.7zM1146.2,530.2h34.3v11.8h-34.3z"/>
<path fill="#1c6bb0" d="M1282.2,668.1h57v11.8h-57zM1066.9,656.6h23v11.8h-23zM987.5,645.2h23v11.8h-23zM930.9,633.7h11.7v11.8h-11.7zM908.2,622.2h11.7v11.8h-11.7zM885.6,610.7h11.7v11.8h-11.7zM874.2,599.2h11.7v11.8h-11.7zM874.2,587.7h11.7v11.8h-11.7zM885.6,576.2h11.7v11.8h-11.7zM919.6,553.2h11.7v11.8h-11.7zM1316.2,553.2h34.3v11.8h-34.3zM942.2,541.7h23v11.8h-23zM1248.2,541.7h11.7v11.8h-11.7zM1044.2,530.2h79.7v11.8h-79.7zM1134.9,530.2h11.7v11.8h-11.7z"/>
<path fill="#1b69af" d="M1089.5,656.6h34.3v11.8h-34.3zM1010.2,645.2h11.7v11.8h-11.7zM942.2,633.7h23v11.8h-23zM919.6,622.2h11.7v11.8h-11.7zM896.9,610.7h11.7v11.8h-11.7zM885.6,599.2h11.7v11.8h-11.7zM885.6,587.7h11.7v11.8h-11.7zM896.9,564.7h11.7v11.8h-11.7zM1293.5,553.2h23v11.8h-23zM964.9,541.7h23v11.8h-23zM1225.5,541.7h23v11.8h-23z"/>
<path fill="#1967ad" d="M1350.2,679.6h11.7v11.8h-11.7zM1123.5,656.6h23v11.8h-23zM1021.5,645.2h11.7v11.8h-11.7zM964.9,633.7h11.7v11.8h-11.7zM930.9,622.2h11.7v11.8h-11.7zM908.2,610.7h11.7v11.8h-11.7zM896.9,576.2h11.7v11.8h-11.7zM908.2,564.7h11.7v11.8h-11.7zM930.9,553.2h23v11.8h-23zM1270.8,553.2h11.7v11.8h-11.7zM987.5,541.7h45.7v11.8h-45.7zM1180.2,541.7h45.7v11.8h-45.7zM1350.2,541.7h11.7v11.8h-11.7z"/>
<path fill="#1865ac" d="M1338.8,668.1h11.7v11.8h-11.7zM1146.2,656.6h34.3v11.8h-34.3zM1032.9,645.2h23v11.8h-23zM976.2,633.7h11.7v11.8h-11.7zM896.9,599.2h11.7v11.8h-11.7zM896.9,587.7h11.7v11.8h-11.7zM908.2,576.2h11.7v11.8h-11.7zM919.6,564.7h11.7v11.8h-11.7zM1316.2,564.7h34.3v11.8h-34.3zM953.5,553.2h11.7v11.8h-11.7zM1259.5,553.2h11.7v11.8h-11.7zM1282.2,553.2h11.7v11.8h-11.7zM1032.9,541.7h23v11.8h-23zM1078.2,541.7h34.3v11.8h-34.3zM1134.9,541.7h11.7v11.8h-11.7zM1157.5,541.7h23v11.8h-23z"/>
<path fill="#1663aa" d="M1180.2,656.6h57v11.8h-57zM1055.5,645.2h11.7v11.8h-11.7zM1078.2,645.2h11.7v11.8h-11.7zM987.5,633.7h11.7v11.8h-11.7zM942.2,622.2h11.7v11.8h-11.7zM919.6,610.7h11.7v11.8h-11.7zM908.2,599.2h11.7v11.8h-11.7zM908.2,587.7h11.7v11.8h-11.7zM930.9,564.7h11.7v11.8h-11.7zM1304.8,564.7h11.7v11.8h-11.7zM964.9,553.2h34.3v11.8h-34.3zM1236.8,553.2h23v11.8h-23zM1055.5,541.7h23v11.8h-23zM1112.2,541.7h23v11.8h-23zM1146.2,541.7h11.7v11.8h-11.7z"/>
<path fill="#1561a9" d="M1236.8,656.6h79.7v11.8h-79.7zM1066.9,645.2h11.7v11.8h-11.7zM998.9,633.7h23v11.8h-23zM953.5,622.2h23v11.8h-23zM930.9,610.7h11.7v11.8h-11.7zM919.6,599.2h11.7v11.8h-11.7zM919.6,587.7h11.7v11.8h-11.7zM919.6,576.2h23v11.8h-23zM942.2,564.7h23v11.8h-23zM1293.5,564.7h11.7v11.8h-11.7zM998.9,553.2h34.3v11.8h-34.3zM1202.9,553.2h34.3v11.8h-34.3zM1350.2,553.2h11.7v11.8h-11.7z"/>
<path fill="#135fa7" d="M1316.2,656.6h23v11.8h-23zM1089.5,645.2h34.3v11.8h-34.3zM1021.5,633.7h11.7v11.8h-11.7zM976.2,622.2h11.7v11.8h-11.7zM942.2,610.7h11.7v11.8h-11.7zM930.9,599.2h11.7v11.8h-11.7zM930.9,587.7h11.7v11.8h-11.7zM942.2,576.2h11.7v11.8h-11.7zM1316.2,576.2h34.3v11.8h-34.3zM964.9,564.7h23v11.8h-23zM1270.8,564.7h23v11.8h-23zM1032.9,553.2h45.7v11.8h-45.7zM1168.9,553.2h34.3v11.8h-34.3z"/>
<path fill="#125da6" d="M1338.8,656.6h11.7v11.8h-11.7zM1123.5,645.2h23v11.8h-23zM1032.9,633.7h34.3v11.8h-34.3zM987.5,622.2h11.7v11.8h-11.7zM953.5,610.7h11.7v11.8h-11.7zM942.2,599.2h11.7v11.8h-11.7zM942.2,587.7h11.7v11.8h-11.7zM953.5,576.2h23v11.8h-23zM1304.8,576.2h11.7v11.8h-11.7zM987.5,564.7h23v11.8h-23zM1236.8,564.7h34.3v11.8h-34.3zM1078.2,553.2h91v11.8h-91z"/>
<path fill="#105ba4" d="M1350.2,668.1h11.7v11.8h-11.7zM1146.2,645.2h45.7v11.8h-45.7zM1066.9,633.7h11.7v11.8h-11.7zM998.9,622.2h23v11.8h-23zM964.9,610.7h11.7v11.8h-11.7zM953.5,599.2h23v11.8h-23zM953.5,587.7h11.7v11.8h-11.7zM1338.8,587.7h11.7v11.8h-11.7zM976.2,576.2h11.7v11.8h-11.7zM1282.2,576.2h23v11.8h-23zM1010.2,564.7h23v11.8h-23zM1214.2,564.7h23v11.8h-23zM1350.2,564.7h11.7v11.8h-11.7z"/>
<path fill="#0e59a2" d="M1191.5,645.2h68.3v11.8h-68.3zM1304.8,645.2h34.3v11.8h-34.3zM1078.2,633.7h34.3v11.8h-34.3zM1021.5,622.2h23v11.8h-23zM976.2,610.7h34.3v11.8h-34.3zM976.2,599.2h11.7v11.8h-11.7zM964.9,587.7h23v11.8h-23zM1304.8,587.7h34.3v11.8h-34.3zM987.5,576.2h23v11.8h-23zM1270.8,576.2h11.7v11.8h-11.7zM1032.9,564.7h79.7v11.8h-79.7zM1157.5,564.7h11.7v11.8h-11.7zM1180.2,564.7h34.3v11.8h-34.3z"/>
<path fill="#0d57a1" d="M1259.5,645.2h45.7v11.8h-45.7zM1338.8,645.2h11.7v11.8h-11.7zM1112.2,633.7h23v11.8h-23zM1044.2,622.2h23v11.8h-23zM1010.2,610.7h11.7v11.8h-11.7zM987.5,599.2h23v11.8h-23zM1327.5,599.2h23v11.8h-23zM987.5,587.7h23v11.8h-23zM1282.2,587.7h23v11.8h-23zM1010.2,576.2h34.3v11.8h-34.3zM1225.5,576.2h45.7v11.8h-45.7zM1112.2,564.7h45.7v11.8h-45.7zM1168.9,564.7h11.7v11.8h-11.7z"/>
<path fill="#0b559f" d="M1134.9,633.7h23v11.8h-23zM1316.2,633.7h23v11.8h-23zM1066.9,622.2h23v11.8h-23zM1021.5,610.7h23v11.8h-23zM1327.5,610.7h11.7v11.8h-11.7zM1010.2,599.2h23v11.8h-23zM1316.2,599.2h11.7v11.8h-11.7zM1010.2,587.7h34.3v11.8h-34.3zM1270.8,587.7h11.7v11.8h-11.7zM1044.2,576.2h57v11.8h-57zM1202.9,576.2h23v11.8h-23zM1350.2,576.2h11.7v11.8h-11.7z"/>
<path fill="#0a539e" d="M1350.2,656.6h11.7v11.8h-11.7zM1157.5,633.7h57v11.8h-57zM1225.5,633.7h11.7v11.8h-11.7zM1248.2,633.7h23v11.8h-23zM1282.2,633.7h34.3v11.8h-34.3zM1338.8,633.7h11.7v11.8h-11.7zM1089.5,622.2h23v11.8h-23zM1316.2,622.2h34.3v11.8h-34.3zM1044.2,610.7h34.3v11.8h-34.3zM1316.2,610.7h11.7v11.8h-11.7zM1338.8,610.7h11.7v11.8h-11.7zM1032.9,599.2h23v11.8h-23zM1282.2,599.2h34.3v11.8h-34.3zM1044.2,587.7h34.3v11.8h-34.3zM1248.2,587.7h23v11.8h-23zM1100.9,576.2h102.3v11.8h-102.3z"/>
<path fill="#08519c" d="M1214.2,633.7h11.7v11.8h-11.7zM1236.8,633.7h11.7v11.8h-11.7zM1270.8,633.7h11.7v11.8h-11.7zM1112.2,622.2h34.3v11.8h-34.3zM1293.5,622.2h23v11.8h-23zM1078.2,610.7h34.3v11.8h-34.3zM1293.5,610.7h23v11.8h-23zM1055.5,599.2h34.3v11.8h-34.3zM1270.8,599.2h11.7v11.8h-11.7zM1078.2,587.7h45.7v11.8h-45.7zM1202.9,587.7h45.7v11.8h-45.7z"/>
<path fill="#084f99" d="M1146.2,622.2h147.7v11.8h-147.7zM1112.2,610.7h34.3v11.8h-34.3zM1248.2,610.7h45.7v11.8h-45.7zM1089.5,599.2h34.3v11.8h-34.3zM1157.5,599.2h11.7v11.8h-11.7zM1236.8,599.2h34.3v11.8h-34.3zM1123.5,587.7h79.7v11.8h-79.7zM1350.2,587.7h11.7v11.8h-11.7z"/>
<path fill="#084d96" d="M1350.2,645.2h11.7v11.8h-11.7zM1146.2,610.7h102.3v11.8h-102.3zM1123.5,599.2h34.3v11.8h-34.3zM1168.9,599.2h68.3v11.8h-68.3zM1350.2,599.2h11.7v11.8h-11.7z"/>
<path fill="#084990" d="M1350.2,633.7h11.7v11.8h-11.7zM1350.2,610.7h11.7v11.8h-11.7z"/>
<path fill="#08478d" d="M1350.2,622.2h11.7v11.8h-11.7z"/>
</g>
<g clip-path="url(#c1)">
<polygon fill="rgb(174,84,48)" fill-opacity="0.5" points="814.7,530.2 900,535 1000,540.5 1080,545.7 1150,551.5 1218.3,557.5 1277.6,562.5 1321,565.8 1351.7,565.1 1351.7,662.9 1321,657.9 1277.6,654 1218.3,649.4 1150,645.5 1080,642.3 1000,638.5 900,635 814.7,632.1"/>
<line x1="794.9" x2="1361.5" y1="596.4" y2="596.4" stroke="#000" stroke-width="3.3" stroke-dasharray="15.6 14.73"/>
<polyline fill="none" stroke="rgb(186,38,38)" stroke-width="2.9" stroke-linejoin="round" points="814.7,582.7 900,586.5 1000,591 1080,594.7 1150,600 1218.3,606 1277.6,612.9 1321,616.5 1351.7,619.4"/>
</g>
<g clip-path="url(#c2)" shape-rendering="crispEdges">
<path fill="#e9f2fa" d="M1451.4,760.1h11.7v11.8h-11.7zM1576,748.6h11.7v11.8h-11.7zM1598.7,748.6h11.7v11.8h-11.7zM1655.4,737.1h11.7v11.8h-11.7zM1712,737.1h11.7v11.8h-11.7zM1780,725.6h11.7v11.8h-11.7zM1825.4,725.6h11.7v11.8h-11.7zM1814,714.1h11.7v11.8h-11.7zM1848,714.1h11.7v11.8h-11.7zM1938.7,714.1h11.7v11.8h-11.7zM1882,357.8h11.7v11.8h-11.7zM1417.4,334.8h11.7v11.8h-11.7zM1836.7,334.8h11.7v11.8h-11.7zM1882,334.8h11.7v11.8h-11.7zM1972.7,334.8h11.7v11.8h-11.7zM1712,323.3h11.7v11.8h-11.7zM1757.4,323.3h11.7v11.8h-11.7zM1814,323.3h11.7v11.8h-11.7zM1904.7,323.3h11.7v11.8h-11.7zM1428.7,311.8h11.7v11.8h-11.7zM1848,311.8h11.7v11.8h-11.7zM1542.1,300.3h11.7v11.8h-11.7zM1621.4,300.3h11.7v11.8h-11.7zM1746,300.3h11.7v11.8h-11.7zM1814,300.3h11.7v11.8h-11.7zM1848,300.3h11.7v11.8h-11.7zM1870.7,300.3h34.3v11.8h-34.3zM1916,300.3h11.7v11.8h-11.7zM1938.7,300.3h11.7v11.8h-11.7zM1428.7,288.8h11.7v11.8h-11.7zM1451.4,288.8h11.7v11.8h-11.7zM1564.7,288.8h11.7v11.8h-11.7zM1644,288.8h11.7v11.8h-11.7zM1678,288.8h11.7v11.8h-11.7zM1700.7,288.8h23v11.8h-23zM1825.4,288.8h11.7v11.8h-11.7zM1848,288.8h11.7v11.8h-11.7zM1870.7,288.8h11.7v11.8h-11.7zM1904.7,288.8h11.7v11.8h-11.7zM1938.7,288.8h23v11.8h-23zM1972.7,288.8h11.7v11.8h-11.7zM1417.4,277.3h11.7v11.8h-11.7zM1564.7,277.3h11.7v11.8h-11.7zM1610,277.3h11.7v11.8h-11.7zM1700.7,277.3h11.7v11.8h-11.7zM1734.7,277.3h11.7v11.8h-11.7zM1768.7,277.3h11.7v11.8h-11.7zM1802.7,277.3h23v11.8h-23zM1848,277.3h23v11.8h-23zM1882,277.3h11.7v11.8h-11.7zM1950,277.3h23v11.8h-23zM1440.1,265.8h11.7v11.8h-11.7zM1474.1,265.8h11.7v11.8h-11.7zM1496.7,265.8h23v11.8h-23zM1576,265.8h11.7v11.8h-11.7zM1678,265.8h11.7v11.8h-11.7zM1734.7,265.8h23v11.8h-23zM1802.7,265.8h11.7v11.8h-11.7zM1836.7,265.8h11.7v11.8h-11.7zM1859.3,265.8h11.7v11.8h-11.7zM1904.7,265.8h11.7v11.8h-11.7zM1927.3,265.8h23v11.8h-23zM1961.3,265.8h11.7v11.8h-11.7zM1428.7,254.3h11.7v11.8h-11.7zM1451.4,254.3h11.7v11.8h-11.7zM1474.1,254.3h11.7v11.8h-11.7zM1508.1,254.3h11.7v11.8h-11.7zM1621.4,254.3h34.3v11.8h-34.3zM1723.4,254.3h11.7v11.8h-11.7zM1757.4,254.3h11.7v11.8h-11.7zM1814,254.3h23v11.8h-23zM1848,254.3h45.7v11.8h-45.7zM1904.7,254.3h23v11.8h-23zM1451.4,242.8h11.7v11.8h-11.7zM1474.1,242.8h11.7v11.8h-11.7zM1496.7,242.8h23v11.8h-23zM1530.7,242.8h11.7v11.8h-11.7zM1621.4,242.8h11.7v11.8h-11.7zM1666.7,242.8h11.7v11.8h-11.7zM1700.7,242.8h11.7v11.8h-11.7zM1780,242.8h11.7v11.8h-11.7zM1814,242.8h11.7v11.8h-11.7zM1836.7,242.8h23v11.8h-23zM1904.7,242.8h11.7v11.8h-11.7zM1961.3,242.8h11.7v11.8h-11.7zM1440.1,231.3h11.7v11.8h-11.7zM1462.7,231.3h23v11.8h-23zM1496.7,231.3h11.7v11.8h-11.7zM1519.4,231.3h11.7v11.8h-11.7zM1587.4,231.3h11.7v11.8h-11.7zM1610,231.3h34.3v11.8h-34.3zM1666.7,231.3h23v11.8h-23zM1746,231.3h23v11.8h-23zM1791.4,231.3h11.7v11.8h-11.7zM1859.3,231.3h11.7v11.8h-11.7zM1893.3,231.3h11.7v11.8h-11.7zM1972.7,231.3h11.7v11.8h-11.7zM1485.4,219.8h11.7v11.8h-11.7zM1508.1,219.8h11.7v11.8h-11.7zM1564.7,219.8h23v11.8h-23zM1757.4,219.8h11.7v11.8h-11.7zM1791.4,219.8h23v11.8h-23zM1825.4,219.8h11.7v11.8h-11.7z"/>
<path fill="#e1edf8" d="M1428.7,748.6h11.7v11.8h-11.7zM1564.7,748.6h11.7v11.8h-11.7zM1587.4,748.6h11.7v11.8h-11.7zM1610,748.6h11.7v11.8h-11.7zM1666.7,737.1h11.7v11.8h-11.7zM1700.7,737.1h11.7v11.8h-11.7zM1768.7,725.6h11.7v11.8h-11.7zM1791.4,714.1h23v11.8h-23zM1859.3,714.1h11.7v11.8h-11.7zM1870.7,702.6h11.7v11.8h-11.7zM1927.3,702.6h11.7v11.8h-11.7zM1927.3,691.1h11.7v11.8h-11.7zM1950,691.1h11.7v11.8h-11.7zM1972.7,679.6h11.7v11.8h-11.7zM1927.3,357.8h11.7v11.8h-11.7zM1723.4,346.3h11.7v11.8h-11.7zM1938.7,346.3h11.7v11.8h-11.7zM1428.7,334.8h11.7v11.8h-11.7zM1734.7,334.8h11.7v11.8h-11.7zM1802.7,334.8h11.7v11.8h-11.7zM1848,334.8h11.7v11.8h-11.7zM1893.3,334.8h11.7v11.8h-11.7zM1961.3,334.8h11.7v11.8h-11.7zM1451.4,323.3h11.7v11.8h-11.7zM1610,323.3h11.7v11.8h-11.7zM1734.7,323.3h11.7v11.8h-11.7zM1825.4,323.3h11.7v11.8h-11.7zM1848,323.3h11.7v11.8h-11.7zM1882,323.3h11.7v11.8h-11.7zM1916,323.3h11.7v11.8h-11.7zM1791.4,311.8h11.7v11.8h-11.7zM1916,311.8h45.7v11.8h-45.7zM1610,300.3h11.7v11.8h-11.7zM1678,300.3h45.7v11.8h-45.7zM1757.4,300.3h11.7v11.8h-11.7zM1780,300.3h11.7v11.8h-11.7zM1836.7,300.3h11.7v11.8h-11.7zM1859.3,300.3h11.7v11.8h-11.7zM1961.3,300.3h23v11.8h-23zM1508.1,288.8h23v11.8h-23zM1576,288.8h11.7v11.8h-11.7zM1598.7,288.8h11.7v11.8h-11.7zM1655.4,288.8h11.7v11.8h-11.7zM1746,288.8h11.7v11.8h-11.7zM1791.4,288.8h11.7v11.8h-11.7zM1836.7,288.8h11.7v11.8h-11.7zM1440.1,277.3h11.7v11.8h-11.7zM1496.7,277.3h11.7v11.8h-11.7zM1542.1,277.3h11.7v11.8h-11.7zM1587.4,277.3h11.7v11.8h-11.7zM1621.4,277.3h11.7v11.8h-11.7zM1655.4,277.3h11.7v11.8h-11.7zM1689.4,277.3h11.7v11.8h-11.7zM1723.4,277.3h11.7v11.8h-11.7zM1780,277.3h11.7v11.8h-11.7zM1927.3,277.3h11.7v11.8h-11.7zM1451.4,265.8h11.7v11.8h-11.7zM1485.4,265.8h11.7v11.8h-11.7zM1519.4,265.8h34.3v11.8h-34.3zM1564.7,265.8h11.7v11.8h-11.7zM1632.7,265.8h11.7v11.8h-11.7zM1689.4,265.8h23v11.8h-23zM1780,265.8h11.7v11.8h-11.7zM1825.4,265.8h11.7v11.8h-11.7zM1916,265.8h11.7v11.8h-11.7zM1950,265.8h11.7v11.8h-11.7zM1485.4,254.3h23v11.8h-23zM1542.1,254.3h11.7v11.8h-11.7zM1610,254.3h11.7v11.8h-11.7zM1666.7,254.3h11.7v11.8h-11.7zM1700.7,254.3h11.7v11.8h-11.7zM1542.1,242.8h11.7v11.8h-11.7zM1587.4,242.8h11.7v11.8h-11.7zM1757.4,242.8h23v11.8h-23zM1825.4,242.8h11.7v11.8h-11.7zM1882,242.8h11.7v11.8h-11.7zM1916,242.8h11.7v11.8h-11.7zM1451.4,231.3h11.7v11.8h-11.7zM1530.7,231.3h11.7v11.8h-11.7zM1564.7,231.3h11.7v11.8h-11.7zM1598.7,231.3h11.7v11.8h-11.7zM1542.1,219.8h11.7v11.8h-11.7z"/>
<path fill="#dbe9f6" d="M1542.1,748.6h23v11.8h-23zM1644,737.1h11.7v11.8h-11.7zM1746,725.6h11.7v11.8h-11.7zM1768.7,714.1h11.7v11.8h-11.7zM1825.4,714.1h11.7v11.8h-11.7zM1882,702.6h11.7v11.8h-11.7zM1938.7,691.1h11.7v11.8h-11.7zM1961.3,691.1h11.7v11.8h-11.7zM1893.3,357.8h11.7v11.8h-11.7zM1859.3,346.3h11.7v11.8h-11.7zM1916,346.3h23v11.8h-23zM1961.3,346.3h11.7v11.8h-11.7zM1564.7,334.8h11.7v11.8h-11.7zM1655.4,334.8h11.7v11.8h-11.7zM1859.3,334.8h23v11.8h-23zM1644,323.3h11.7v11.8h-11.7zM1700.7,323.3h11.7v11.8h-11.7zM1746,323.3h11.7v11.8h-11.7zM1893.3,323.3h11.7v11.8h-11.7zM1451.4,311.8h11.7v11.8h-11.7zM1553.4,311.8h11.7v11.8h-11.7zM1598.7,311.8h11.7v11.8h-11.7zM1644,311.8h11.7v11.8h-11.7zM1666.7,311.8h11.7v11.8h-11.7zM1689.4,311.8h23v11.8h-23zM1723.4,311.8h23v11.8h-23zM1780,311.8h11.7v11.8h-11.7zM1859.3,311.8h11.7v11.8h-11.7zM1904.7,311.8h11.7v11.8h-11.7zM1972.7,311.8h11.7v11.8h-11.7zM1576,300.3h34.3v11.8h-34.3zM1666.7,300.3h11.7v11.8h-11.7zM1791.4,300.3h23v11.8h-23zM1825.4,300.3h11.7v11.8h-11.7zM1462.7,288.8h11.7v11.8h-11.7zM1530.7,288.8h11.7v11.8h-11.7zM1666.7,288.8h11.7v11.8h-11.7zM1927.3,288.8h11.7v11.8h-11.7zM1961.3,288.8h11.7v11.8h-11.7zM1474.1,277.3h23v11.8h-23zM1598.7,277.3h11.7v11.8h-11.7zM1791.4,277.3h11.7v11.8h-11.7zM1825.4,277.3h11.7v11.8h-11.7zM1893.3,277.3h11.7v11.8h-11.7zM1462.7,265.8h11.7v11.8h-11.7zM1587.4,265.8h23v11.8h-23zM1666.7,265.8h11.7v11.8h-11.7zM1791.4,265.8h11.7v11.8h-11.7zM1893.3,265.8h11.7v11.8h-11.7zM1530.7,254.3h11.7v11.8h-11.7zM1576,231.3h11.7v11.8h-11.7z"/>
<path fill="#d6e6f4" d="M1519.4,748.6h11.7v11.8h-11.7zM1723.4,725.6h23v11.8h-23zM1859.3,702.6h11.7v11.8h-11.7zM1916,691.1h11.7v11.8h-11.7zM1417.4,415.2h11.7v11.8h-11.7zM1417.4,392.2h11.7v11.8h-11.7zM1961.3,357.8h11.7v11.8h-11.7zM1768.7,346.3h11.7v11.8h-11.7zM1791.4,346.3h23v11.8h-23zM1870.7,346.3h11.7v11.8h-11.7zM1757.4,334.8h11.7v11.8h-11.7zM1814,334.8h11.7v11.8h-11.7zM1904.7,334.8h11.7v11.8h-11.7zM1927.3,334.8h11.7v11.8h-11.7zM1530.7,323.3h11.7v11.8h-11.7zM1632.7,323.3h11.7v11.8h-11.7zM1655.4,323.3h23v11.8h-23zM1768.7,323.3h23v11.8h-23zM1836.7,323.3h11.7v11.8h-11.7zM1927.3,323.3h23v11.8h-23zM1462.7,311.8h11.7v11.8h-11.7zM1530.7,311.8h11.7v11.8h-11.7zM1576,311.8h11.7v11.8h-11.7zM1610,311.8h11.7v11.8h-11.7zM1746,311.8h34.3v11.8h-34.3zM1961.3,311.8h11.7v11.8h-11.7zM1440.1,300.3h11.7v11.8h-11.7zM1462.7,300.3h11.7v11.8h-11.7zM1530.7,300.3h11.7v11.8h-11.7zM1564.7,300.3h11.7v11.8h-11.7zM1644,300.3h11.7v11.8h-11.7zM1904.7,300.3h11.7v11.8h-11.7zM1950,300.3h11.7v11.8h-11.7zM1440.1,288.8h11.7v11.8h-11.7zM1485.4,288.8h23v11.8h-23zM1587.4,288.8h11.7v11.8h-11.7zM1610,288.8h11.7v11.8h-11.7zM1508.1,277.3h11.7v11.8h-11.7zM1553.4,277.3h11.7v11.8h-11.7z"/>
<path fill="#d2e3f3" d="M1508.1,748.6h11.7v11.8h-11.7zM1530.7,748.6h11.7v11.8h-11.7zM1417.4,737.1h11.7v11.8h-11.7zM1689.4,737.1h11.7v11.8h-11.7zM1780,714.1h11.7v11.8h-11.7zM1870.7,380.7h11.7v11.8h-11.7zM1802.7,369.2h11.7v11.8h-11.7zM1814,357.8h11.7v11.8h-11.7zM1904.7,357.8h11.7v11.8h-11.7zM1950,357.8h11.7v11.8h-11.7zM1428.7,346.3h11.7v11.8h-11.7zM1712,346.3h11.7v11.8h-11.7zM1882,346.3h11.7v11.8h-11.7zM1950,346.3h11.7v11.8h-11.7zM1972.7,346.3h11.7v11.8h-11.7zM1712,334.8h11.7v11.8h-11.7zM1746,334.8h11.7v11.8h-11.7zM1780,334.8h11.7v11.8h-11.7zM1950,334.8h11.7v11.8h-11.7zM1440.1,323.3h11.7v11.8h-11.7zM1564.7,323.3h11.7v11.8h-11.7zM1587.4,323.3h11.7v11.8h-11.7zM1621.4,323.3h11.7v11.8h-11.7zM1678,323.3h23v11.8h-23zM1791.4,323.3h11.7v11.8h-11.7zM1859.3,323.3h11.7v11.8h-11.7zM1496.7,311.8h11.7v11.8h-11.7zM1621.4,311.8h23v11.8h-23zM1655.4,311.8h11.7v11.8h-11.7zM1678,311.8h11.7v11.8h-11.7zM1802.7,311.8h11.7v11.8h-11.7zM1836.7,311.8h11.7v11.8h-11.7zM1893.3,311.8h11.7v11.8h-11.7zM1428.7,300.3h11.7v11.8h-11.7zM1451.4,300.3h11.7v11.8h-11.7zM1474.1,300.3h45.7v11.8h-45.7zM1768.7,300.3h11.7v11.8h-11.7zM1474.1,288.8h11.7v11.8h-11.7zM1462.7,277.3h11.7v11.8h-11.7zM1576,277.3h11.7v11.8h-11.7z"/>
<path fill="#cfe1f2" d="M1451.4,748.6h11.7v11.8h-11.7zM1474.1,748.6h34.3v11.8h-34.3zM1712,725.6h11.7v11.8h-11.7zM1848,702.6h11.7v11.8h-11.7zM1859.3,380.7h11.7v11.8h-11.7zM1927.3,380.7h11.7v11.8h-11.7zM1700.7,369.2h11.7v11.8h-11.7zM1780,369.2h11.7v11.8h-11.7zM1938.7,369.2h11.7v11.8h-11.7zM1972.7,369.2h11.7v11.8h-11.7zM1712,357.8h23v11.8h-23zM1746,357.8h11.7v11.8h-11.7zM1825.4,357.8h11.7v11.8h-11.7zM1916,357.8h11.7v11.8h-11.7zM1564.7,346.3h11.7v11.8h-11.7zM1666.7,346.3h11.7v11.8h-11.7zM1848,346.3h11.7v11.8h-11.7zM1485.4,334.8h11.7v11.8h-11.7zM1644,334.8h11.7v11.8h-11.7zM1678,334.8h23v11.8h-23zM1723.4,334.8h11.7v11.8h-11.7zM1791.4,334.8h11.7v11.8h-11.7zM1496.7,323.3h11.7v11.8h-11.7zM1542.1,323.3h23v11.8h-23zM1870.7,323.3h11.7v11.8h-11.7zM1950,323.3h11.7v11.8h-11.7zM1474.1,311.8h23v11.8h-23zM1508.1,311.8h11.7v11.8h-11.7zM1542.1,311.8h11.7v11.8h-11.7zM1587.4,311.8h11.7v11.8h-11.7zM1712,311.8h11.7v11.8h-11.7zM1814,311.8h11.7v11.8h-11.7zM1882,311.8h11.7v11.8h-11.7z"/>
<path fill="#cde0f1" d="M1678,725.6h11.7v11.8h-11.7zM1757.4,714.1h11.7v11.8h-11.7zM1893.3,691.1h23v11.8h-23zM1417.4,403.7h11.7v11.8h-11.7zM1961.3,380.7h11.7v11.8h-11.7zM1734.7,369.2h11.7v11.8h-11.7zM1825.4,369.2h11.7v11.8h-11.7zM1916,369.2h23v11.8h-23zM1689.4,357.8h11.7v11.8h-11.7zM1791.4,357.8h23v11.8h-23zM1859.3,357.8h11.7v11.8h-11.7zM1938.7,357.8h11.7v11.8h-11.7zM1474.1,346.3h11.7v11.8h-11.7zM1678,346.3h11.7v11.8h-11.7zM1757.4,346.3h11.7v11.8h-11.7zM1836.7,346.3h11.7v11.8h-11.7zM1530.7,334.8h11.7v11.8h-11.7zM1610,334.8h11.7v11.8h-11.7zM1768.7,334.8h11.7v11.8h-11.7zM1916,334.8h11.7v11.8h-11.7zM1576,323.3h11.7v11.8h-11.7zM1598.7,323.3h11.7v11.8h-11.7zM1440.1,311.8h11.7v11.8h-11.7zM1553.4,300.3h11.7v11.8h-11.7z"/>
<path fill="#cadef0" d="M1632.7,737.1h11.7v11.8h-11.7zM1950,403.7h23v11.8h-23zM1814,380.7h23v11.8h-23zM1882,380.7h11.7v11.8h-11.7zM1938.7,380.7h11.7v11.8h-11.7zM1428.7,369.2h11.7v11.8h-11.7zM1791.4,369.2h11.7v11.8h-11.7zM1814,369.2h11.7v11.8h-11.7zM1848,369.2h11.7v11.8h-11.7zM1893.3,369.2h11.7v11.8h-11.7zM1655.4,357.8h11.7v11.8h-11.7zM1700.7,357.8h11.7v11.8h-11.7zM1870.7,357.8h11.7v11.8h-11.7zM1632.7,346.3h11.7v11.8h-11.7zM1814,346.3h23v11.8h-23zM1542.1,334.8h11.7v11.8h-11.7zM1598.7,334.8h11.7v11.8h-11.7zM1632.7,334.8h11.7v11.8h-11.7zM1666.7,334.8h11.7v11.8h-11.7zM1825.4,334.8h11.7v11.8h-11.7zM1474.1,323.3h11.7v11.8h-11.7zM1508.1,323.3h11.7v11.8h-11.7zM1632.7,300.3h11.7v11.8h-11.7z"/>
<path fill="#c9ddf0" d="M1462.7,748.6h11.7v11.8h-11.7zM1689.4,725.6h23v11.8h-23zM1814,702.6h23v11.8h-23zM1882,691.1h11.7v11.8h-11.7zM1893.3,392.2h23v11.8h-23zM1927.3,392.2h11.7v11.8h-11.7zM1950,380.7h11.7v11.8h-11.7zM1859.3,369.2h11.7v11.8h-11.7zM1950,369.2h11.7v11.8h-11.7zM1428.7,357.8h11.7v11.8h-11.7zM1768.7,357.8h23v11.8h-23zM1836.7,357.8h11.7v11.8h-11.7zM1972.7,357.8h11.7v11.8h-11.7zM1440.1,346.3h11.7v11.8h-11.7zM1508.1,346.3h11.7v11.8h-11.7zM1644,346.3h23v11.8h-23zM1734.7,346.3h11.7v11.8h-11.7zM1904.7,346.3h11.7v11.8h-11.7zM1553.4,334.8h11.7v11.8h-11.7zM1587.4,334.8h11.7v11.8h-11.7zM1700.7,334.8h11.7v11.8h-11.7zM1564.7,311.8h11.7v11.8h-11.7z"/>
<path fill="#c7dcef" d="M1961.3,679.6h11.7v11.8h-11.7zM1972.7,392.2h11.7v11.8h-11.7zM1712,380.7h11.7v11.8h-11.7zM1893.3,380.7h11.7v11.8h-11.7zM1746,369.2h23v11.8h-23zM1870.7,369.2h11.7v11.8h-11.7zM1961.3,369.2h11.7v11.8h-11.7zM1564.7,357.8h11.7v11.8h-11.7zM1621.4,357.8h11.7v11.8h-11.7zM1734.7,357.8h11.7v11.8h-11.7zM1598.7,346.3h11.7v11.8h-11.7zM1700.7,346.3h11.7v11.8h-11.7zM1780,346.3h11.7v11.8h-11.7zM1893.3,346.3h11.7v11.8h-11.7zM1474.1,334.8h11.7v11.8h-11.7zM1496.7,334.8h11.7v11.8h-11.7zM1519.4,323.3h11.7v11.8h-11.7z"/>
<path fill="#c3daee" d="M1440.1,748.6h11.7v11.8h-11.7zM1621.4,737.1h11.7v11.8h-11.7zM1734.7,714.1h11.7v11.8h-11.7zM1700.7,380.7h11.7v11.8h-11.7zM1768.7,380.7h11.7v11.8h-11.7zM1666.7,357.8h11.7v11.8h-11.7zM1848,357.8h11.7v11.8h-11.7zM1542.1,346.3h11.7v11.8h-11.7zM1587.4,346.3h11.7v11.8h-11.7zM1689.4,346.3h11.7v11.8h-11.7zM1746,346.3h11.7v11.8h-11.7zM1440.1,334.8h11.7v11.8h-11.7zM1576,334.8h11.7v11.8h-11.7zM1485.4,323.3h11.7v11.8h-11.7zM1519.4,311.8h11.7v11.8h-11.7z"/>
<path fill="#c1d9ed" d="M1802.7,702.6h11.7v11.8h-11.7zM1938.7,679.6h11.7v11.8h-11.7zM1916,392.2h11.7v11.8h-11.7zM1950,392.2h11.7v11.8h-11.7zM1428.7,380.7h11.7v11.8h-11.7zM1848,380.7h11.7v11.8h-11.7zM1508.1,369.2h11.7v11.8h-11.7zM1768.7,369.2h11.7v11.8h-11.7zM1882,369.2h11.7v11.8h-11.7zM1644,357.8h11.7v11.8h-11.7zM1678,357.8h11.7v11.8h-11.7zM1757.4,357.8h11.7v11.8h-11.7zM1530.7,346.3h11.7v11.8h-11.7zM1621.4,346.3h11.7v11.8h-11.7zM1451.4,334.8h11.7v11.8h-11.7zM1508.1,334.8h11.7v11.8h-11.7z"/>
<path fill="#bed8ec" d="M1587.4,737.1h11.7v11.8h-11.7zM1836.7,702.6h11.7v11.8h-11.7zM1870.7,691.1h11.7v11.8h-11.7zM1417.4,438.2h11.7v11.8h-11.7zM1780,392.2h11.7v11.8h-11.7zM1882,392.2h11.7v11.8h-11.7zM1938.7,392.2h11.7v11.8h-11.7zM1780,380.7h11.7v11.8h-11.7zM1802.7,380.7h11.7v11.8h-11.7zM1904.7,380.7h23v11.8h-23zM1689.4,369.2h11.7v11.8h-11.7zM1904.7,369.2h11.7v11.8h-11.7zM1485.4,357.8h11.7v11.8h-11.7zM1553.4,346.3h11.7v11.8h-11.7zM1610,346.3h11.7v11.8h-11.7z"/>
<path fill="#bcd7eb" d="M1746,714.1h11.7v11.8h-11.7zM1950,679.6h11.7v11.8h-11.7zM1417.4,426.7h11.7v11.8h-11.7zM1938.7,403.7h11.7v11.8h-11.7zM1972.7,403.7h11.7v11.8h-11.7zM1428.7,392.2h11.7v11.8h-11.7zM1678,392.2h11.7v11.8h-11.7zM1791.4,392.2h11.7v11.8h-11.7zM1848,392.2h11.7v11.8h-11.7zM1723.4,380.7h23v11.8h-23zM1791.4,380.7h11.7v11.8h-11.7zM1836.7,380.7h11.7v11.8h-11.7zM1972.7,380.7h11.7v11.8h-11.7zM1678,369.2h11.7v11.8h-11.7zM1723.4,369.2h11.7v11.8h-11.7zM1836.7,369.2h11.7v11.8h-11.7zM1519.4,357.8h23v11.8h-23zM1576,346.3h11.7v11.8h-11.7zM1462.7,334.8h11.7v11.8h-11.7zM1519.4,334.8h11.7v11.8h-11.7zM1462.7,323.3h11.7v11.8h-11.7z"/>
<path fill="#b9d6ea" d="M1666.7,725.6h11.7v11.8h-11.7zM1859.3,691.1h11.7v11.8h-11.7zM1916,679.6h11.7v11.8h-11.7zM1961.3,392.2h11.7v11.8h-11.7zM1678,380.7h11.7v11.8h-11.7zM1576,369.2h11.7v11.8h-11.7zM1712,369.2h11.7v11.8h-11.7zM1496.7,357.8h11.7v11.8h-11.7zM1587.4,357.8h11.7v11.8h-11.7zM1451.4,346.3h11.7v11.8h-11.7zM1621.4,334.8h11.7v11.8h-11.7z"/>
<path fill="#b7d4ea" d="M1610,737.1h11.7v11.8h-11.7zM1791.4,702.6h11.7v11.8h-11.7zM1904.7,679.6h11.7v11.8h-11.7zM1927.3,679.6h11.7v11.8h-11.7zM1825.4,403.7h11.7v11.8h-11.7zM1848,403.7h11.7v11.8h-11.7zM1734.7,392.2h11.7v11.8h-11.7zM1802.7,392.2h11.7v11.8h-11.7zM1836.7,392.2h11.7v11.8h-11.7zM1746,380.7h23v11.8h-23zM1530.7,369.2h11.7v11.8h-11.7zM1610,369.2h11.7v11.8h-11.7zM1632.7,369.2h11.7v11.8h-11.7zM1655.4,369.2h11.7v11.8h-11.7zM1576,357.8h11.7v11.8h-11.7zM1632.7,357.8h11.7v11.8h-11.7zM1519.4,346.3h11.7v11.8h-11.7z"/>
<path fill="#b4d3e9" d="M1564.7,737.1h11.7v11.8h-11.7zM1598.7,737.1h11.7v11.8h-11.7zM1723.4,714.1h11.7v11.8h-11.7zM1848,691.1h11.7v11.8h-11.7zM1882,415.2h11.7v11.8h-11.7zM1916,415.2h11.7v11.8h-11.7zM1836.7,403.7h11.7v11.8h-11.7zM1859.3,403.7h45.7v11.8h-45.7zM1927.3,403.7h11.7v11.8h-11.7zM1712,392.2h11.7v11.8h-11.7zM1768.7,392.2h11.7v11.8h-11.7zM1825.4,392.2h11.7v11.8h-11.7zM1859.3,392.2h11.7v11.8h-11.7zM1644,380.7h11.7v11.8h-11.7zM1496.7,369.2h11.7v11.8h-11.7zM1587.4,369.2h11.7v11.8h-11.7zM1644,369.2h11.7v11.8h-11.7zM1462.7,357.8h11.7v11.8h-11.7zM1553.4,357.8h11.7v11.8h-11.7zM1598.7,357.8h11.7v11.8h-11.7zM1462.7,346.3h11.7v11.8h-11.7z"/>
<path fill="#b2d2e8" d="M1576,737.1h11.7v11.8h-11.7zM1904.7,415.2h11.7v11.8h-11.7zM1904.7,403.7h23v11.8h-23zM1655.4,392.2h11.7v11.8h-11.7zM1870.7,392.2h11.7v11.8h-11.7zM1666.7,369.2h11.7v11.8h-11.7zM1610,357.8h11.7v11.8h-11.7z"/>
<path fill="#afd1e7" d="M1780,702.6h11.7v11.8h-11.7zM1972.7,668.1h11.7v11.8h-11.7zM1961.3,426.7h11.7v11.8h-11.7zM1734.7,403.7h11.7v11.8h-11.7zM1780,403.7h11.7v11.8h-11.7zM1814,403.7h11.7v11.8h-11.7zM1746,392.2h23v11.8h-23zM1440.1,369.2h11.7v11.8h-11.7zM1462.7,369.2h11.7v11.8h-11.7zM1564.7,369.2h11.7v11.8h-11.7zM1598.7,369.2h11.7v11.8h-11.7zM1621.4,369.2h11.7v11.8h-11.7zM1440.1,357.8h11.7v11.8h-11.7zM1474.1,357.8h11.7v11.8h-11.7zM1508.1,357.8h11.7v11.8h-11.7zM1485.4,346.3h11.7v11.8h-11.7z"/>
<path fill="#add0e6" d="M1530.7,737.1h11.7v11.8h-11.7zM1417.4,725.6h11.7v11.8h-11.7zM1644,725.6h23v11.8h-23zM1712,714.1h11.7v11.8h-11.7zM1802.7,415.2h11.7v11.8h-11.7zM1950,415.2h23v11.8h-23zM1723.4,403.7h11.7v11.8h-11.7zM1791.4,403.7h11.7v11.8h-11.7zM1474.1,380.7h11.7v11.8h-11.7zM1655.4,380.7h23v11.8h-23zM1689.4,380.7h11.7v11.8h-11.7zM1474.1,369.2h11.7v11.8h-11.7zM1451.4,357.8h11.7v11.8h-11.7zM1542.1,357.8h11.7v11.8h-11.7z"/>
<path fill="#aacfe5" d="M1542.1,737.1h11.7v11.8h-11.7zM1972.7,426.7h11.7v11.8h-11.7zM1859.3,415.2h11.7v11.8h-11.7zM1893.3,415.2h11.7v11.8h-11.7zM1972.7,415.2h11.7v11.8h-11.7zM1802.7,403.7h11.7v11.8h-11.7zM1689.4,392.2h23v11.8h-23zM1440.1,380.7h11.7v11.8h-11.7zM1576,380.7h11.7v11.8h-11.7zM1610,380.7h11.7v11.8h-11.7zM1632.7,380.7h11.7v11.8h-11.7zM1542.1,369.2h11.7v11.8h-11.7z"/>
<path fill="#a8cee4" d="M1428.7,737.1h11.7v11.8h-11.7zM1462.7,737.1h11.7v11.8h-11.7zM1519.4,737.1h11.7v11.8h-11.7zM1417.4,449.7h11.7v11.8h-11.7zM1938.7,426.7h11.7v11.8h-11.7zM1757.4,415.2h11.7v11.8h-11.7zM1814,415.2h11.7v11.8h-11.7zM1870.7,415.2h11.7v11.8h-11.7zM1938.7,415.2h11.7v11.8h-11.7zM1428.7,403.7h11.7v11.8h-11.7zM1757.4,403.7h11.7v11.8h-11.7zM1598.7,392.2h11.7v11.8h-11.7zM1723.4,392.2h11.7v11.8h-11.7zM1814,392.2h11.7v11.8h-11.7zM1564.7,380.7h11.7v11.8h-11.7zM1519.4,369.2h11.7v11.8h-11.7zM1553.4,369.2h11.7v11.8h-11.7z"/>
<path fill="#a5cde3" d="M1485.4,737.1h11.7v11.8h-11.7zM1553.4,737.1h11.7v11.8h-11.7zM1700.7,714.1h11.7v11.8h-11.7zM1893.3,426.7h11.7v11.8h-11.7zM1950,426.7h11.7v11.8h-11.7zM1746,415.2h11.7v11.8h-11.7zM1927.3,415.2h11.7v11.8h-11.7zM1700.7,403.7h23v11.8h-23zM1746,403.7h11.7v11.8h-11.7zM1621.4,392.2h11.7v11.8h-11.7zM1666.7,392.2h11.7v11.8h-11.7zM1587.4,380.7h11.7v11.8h-11.7zM1621.4,380.7h11.7v11.8h-11.7zM1485.4,369.2h11.7v11.8h-11.7zM1496.7,346.3h11.7v11.8h-11.7z"/>
<path fill="#a3cce3" d="M1474.1,737.1h11.7v11.8h-11.7zM1689.4,714.1h11.7v11.8h-11.7zM1882,679.6h11.7v11.8h-11.7zM1961.3,668.1h11.7v11.8h-11.7zM1927.3,438.2h11.7v11.8h-11.7zM1814,426.7h11.7v11.8h-11.7zM1882,426.7h11.7v11.8h-11.7zM1927.3,426.7h11.7v11.8h-11.7zM1848,415.2h11.7v11.8h-11.7zM1644,403.7h11.7v11.8h-11.7zM1689.4,403.7h11.7v11.8h-11.7zM1576,392.2h11.7v11.8h-11.7zM1610,392.2h11.7v11.8h-11.7zM1632.7,392.2h11.7v11.8h-11.7zM1451.4,380.7h11.7v11.8h-11.7zM1519.4,380.7h11.7v11.8h-11.7zM1451.4,369.2h11.7v11.8h-11.7z"/>
<path fill="#a0cbe2" d="M1508.1,737.1h11.7v11.8h-11.7zM1632.7,725.6h11.7v11.8h-11.7zM1768.7,702.6h11.7v11.8h-11.7zM1961.3,438.2h11.7v11.8h-11.7zM1825.4,426.7h11.7v11.8h-11.7zM1848,426.7h11.7v11.8h-11.7zM1904.7,426.7h11.7v11.8h-11.7zM1428.7,415.2h11.7v11.8h-11.7zM1723.4,415.2h23v11.8h-23zM1768.7,415.2h11.7v11.8h-11.7zM1825.4,415.2h11.7v11.8h-11.7zM1666.7,403.7h23v11.8h-23zM1768.7,403.7h11.7v11.8h-11.7zM1587.4,392.2h11.7v11.8h-11.7zM1462.7,380.7h11.7v11.8h-11.7zM1508.1,380.7h11.7v11.8h-11.7zM1553.4,380.7h11.7v11.8h-11.7zM1598.7,380.7h11.7v11.8h-11.7z"/>
<path fill="#9dcae1" d="M1417.4,714.1h11.7v11.8h-11.7zM1757.4,702.6h11.7v11.8h-11.7zM1417.4,461.2h11.7v11.8h-11.7zM1848,438.2h11.7v11.8h-11.7zM1916,426.7h11.7v11.8h-11.7zM1791.4,415.2h11.7v11.8h-11.7zM1836.7,415.2h11.7v11.8h-11.7zM1530.7,392.2h11.7v11.8h-11.7zM1644,392.2h11.7v11.8h-11.7zM1496.7,380.7h11.7v11.8h-11.7z"/>
<path fill="#9ac8e0" d="M1496.7,737.1h11.7v11.8h-11.7zM1734.7,702.6h23v11.8h-23zM1836.7,691.1h11.7v11.8h-11.7zM1870.7,679.6h11.7v11.8h-11.7zM1893.3,679.6h11.7v11.8h-11.7zM1950,449.7h11.7v11.8h-11.7zM1916,438.2h11.7v11.8h-11.7zM1780,426.7h23v11.8h-23zM1712,415.2h11.7v11.8h-11.7zM1780,415.2h11.7v11.8h-11.7zM1530.7,380.7h11.7v11.8h-11.7z"/>
<path fill="#97c6df" d="M1621.4,725.6h11.7v11.8h-11.7zM1814,691.1h23v11.8h-23zM1938.7,668.1h23v11.8h-23zM1893.3,438.2h11.7v11.8h-11.7zM1972.7,438.2h11.7v11.8h-11.7zM1836.7,426.7h11.7v11.8h-11.7zM1859.3,426.7h23v11.8h-23zM1700.7,415.2h11.7v11.8h-11.7zM1655.4,403.7h11.7v11.8h-11.7zM1440.1,392.2h11.7v11.8h-11.7zM1462.7,392.2h11.7v11.8h-11.7z"/>
<path fill="#94c4df" d="M1610,725.6h11.7v11.8h-11.7zM1927.3,449.7h11.7v11.8h-11.7zM1961.3,449.7h23v11.8h-23zM1870.7,438.2h23v11.8h-23zM1904.7,438.2h11.7v11.8h-11.7zM1938.7,438.2h23v11.8h-23zM1746,426.7h23v11.8h-23zM1802.7,426.7h11.7v11.8h-11.7zM1689.4,415.2h11.7v11.8h-11.7zM1610,403.7h23v11.8h-23zM1451.4,392.2h11.7v11.8h-11.7zM1564.7,392.2h11.7v11.8h-11.7zM1542.1,380.7h11.7v11.8h-11.7z"/>
<path fill="#91c3de" d="M1666.7,714.1h11.7v11.8h-11.7zM1723.4,702.6h11.7v11.8h-11.7zM1802.7,691.1h11.7v11.8h-11.7zM1417.4,472.7h11.7v11.8h-11.7zM1904.7,449.7h11.7v11.8h-11.7zM1938.7,449.7h11.7v11.8h-11.7zM1757.4,438.2h11.7v11.8h-11.7zM1802.7,438.2h11.7v11.8h-11.7zM1825.4,438.2h11.7v11.8h-11.7zM1859.3,438.2h11.7v11.8h-11.7zM1689.4,426.7h11.7v11.8h-11.7zM1723.4,426.7h11.7v11.8h-11.7zM1768.7,426.7h11.7v11.8h-11.7zM1655.4,415.2h34.3v11.8h-34.3zM1598.7,403.7h11.7v11.8h-11.7zM1474.1,392.2h23v11.8h-23zM1519.4,392.2h11.7v11.8h-11.7zM1553.4,392.2h11.7v11.8h-11.7zM1485.4,380.7h11.7v11.8h-11.7z"/>
<path fill="#8dc1dd" d="M1440.1,737.1h11.7v11.8h-11.7zM1678,714.1h11.7v11.8h-11.7zM1417.4,702.6h11.7v11.8h-11.7zM1961.3,461.2h23v11.8h-23zM1893.3,449.7h11.7v11.8h-11.7zM1428.7,426.7h11.7v11.8h-11.7zM1712,426.7h11.7v11.8h-11.7zM1734.7,426.7h11.7v11.8h-11.7zM1587.4,403.7h11.7v11.8h-11.7zM1496.7,392.2h11.7v11.8h-11.7zM1542.1,392.2h11.7v11.8h-11.7z"/>
<path fill="#8abfdd" d="M1451.4,737.1h11.7v11.8h-11.7zM1598.7,725.6h11.7v11.8h-11.7zM1916,668.1h11.7v11.8h-11.7zM1927.3,461.2h11.7v11.8h-11.7zM1814,449.7h11.7v11.8h-11.7zM1836.7,449.7h23v11.8h-23zM1768.7,438.2h11.7v11.8h-11.7zM1791.4,438.2h11.7v11.8h-11.7zM1814,438.2h11.7v11.8h-11.7zM1632.7,415.2h23v11.8h-23zM1542.1,403.7h11.7v11.8h-11.7zM1576,403.7h11.7v11.8h-11.7zM1632.7,403.7h11.7v11.8h-11.7zM1508.1,392.2h11.7v11.8h-11.7z"/>
<path fill="#87bddc" d="M1587.4,725.6h11.7v11.8h-11.7zM1848,679.6h11.7v11.8h-11.7zM1972.7,472.7h11.7v11.8h-11.7zM1938.7,461.2h23v11.8h-23zM1825.4,449.7h11.7v11.8h-11.7zM1859.3,449.7h23v11.8h-23zM1746,438.2h11.7v11.8h-11.7zM1836.7,438.2h11.7v11.8h-11.7zM1678,426.7h11.7v11.8h-11.7zM1700.7,426.7h11.7v11.8h-11.7zM1621.4,415.2h11.7v11.8h-11.7zM1451.4,403.7h11.7v11.8h-11.7zM1496.7,403.7h11.7v11.8h-11.7zM1519.4,403.7h11.7v11.8h-11.7zM1564.7,403.7h11.7v11.8h-11.7z"/>
<path fill="#84bcdb" d="M1576,725.6h11.7v11.8h-11.7zM1780,691.1h23v11.8h-23zM1927.3,668.1h11.7v11.8h-11.7zM1791.4,449.7h11.7v11.8h-11.7zM1882,449.7h11.7v11.8h-11.7zM1916,449.7h11.7v11.8h-11.7zM1723.4,438.2h11.7v11.8h-11.7zM1780,438.2h11.7v11.8h-11.7zM1632.7,426.7h11.7v11.8h-11.7zM1508.1,415.2h11.7v11.8h-11.7zM1440.1,403.7h11.7v11.8h-11.7zM1462.7,403.7h11.7v11.8h-11.7zM1485.4,403.7h11.7v11.8h-11.7zM1508.1,403.7h11.7v11.8h-11.7zM1530.7,403.7h11.7v11.8h-11.7zM1553.4,403.7h11.7v11.8h-11.7z"/>
<path fill="#81badb" d="M1564.7,725.6h11.7v11.8h-11.7zM1712,702.6h11.7v11.8h-11.7zM1972.7,656.6h11.7v11.8h-11.7zM1904.7,461.2h23v11.8h-23zM1428.7,438.2h11.7v11.8h-11.7zM1712,438.2h11.7v11.8h-11.7zM1734.7,438.2h11.7v11.8h-11.7zM1655.4,426.7h11.7v11.8h-11.7zM1564.7,415.2h11.7v11.8h-11.7zM1587.4,415.2h34.3v11.8h-34.3zM1474.1,403.7h11.7v11.8h-11.7z"/>
<path fill="#7db8da" d="M1428.7,725.6h11.7v11.8h-11.7zM1655.4,714.1h11.7v11.8h-11.7zM1859.3,679.6h11.7v11.8h-11.7zM1950,656.6h23v11.8h-23zM1417.4,484.2h11.7v11.8h-11.7zM1950,472.7h11.7v11.8h-11.7zM1870.7,461.2h34.3v11.8h-34.3zM1802.7,449.7h11.7v11.8h-11.7zM1610,426.7h23v11.8h-23zM1666.7,426.7h11.7v11.8h-11.7zM1519.4,415.2h11.7v11.8h-11.7zM1553.4,415.2h11.7v11.8h-11.7z"/>
<path fill="#7ab6d9" d="M1632.7,714.1h11.7v11.8h-11.7zM1836.7,679.6h11.7v11.8h-11.7zM1904.7,668.1h11.7v11.8h-11.7zM1417.4,495.7h11.7v11.8h-11.7zM1972.7,484.2h11.7v11.8h-11.7zM1893.3,472.7h11.7v11.8h-11.7zM1938.7,472.7h11.7v11.8h-11.7zM1814,461.2h23v11.8h-23zM1768.7,449.7h23v11.8h-23zM1598.7,426.7h11.7v11.8h-11.7zM1644,426.7h11.7v11.8h-11.7zM1462.7,415.2h11.7v11.8h-11.7zM1576,415.2h11.7v11.8h-11.7z"/>
<path fill="#77b5d9" d="M1689.4,702.6h23v11.8h-23zM1417.4,691.1h11.7v11.8h-11.7zM1768.7,691.1h11.7v11.8h-11.7zM1893.3,668.1h11.7v11.8h-11.7zM1836.7,461.2h23v11.8h-23zM1712,449.7h11.7v11.8h-11.7zM1655.4,438.2h11.7v11.8h-11.7zM1689.4,438.2h23v11.8h-23zM1564.7,426.7h11.7v11.8h-11.7zM1451.4,415.2h11.7v11.8h-11.7zM1530.7,415.2h23v11.8h-23z"/>
<path fill="#74b3d8" d="M1496.7,725.6h23v11.8h-23zM1542.1,725.6h23v11.8h-23zM1757.4,691.1h11.7v11.8h-11.7zM1961.3,484.2h11.7v11.8h-11.7zM1882,472.7h11.7v11.8h-11.7zM1916,472.7h23v11.8h-23zM1961.3,472.7h11.7v11.8h-11.7zM1768.7,461.2h11.7v11.8h-11.7zM1791.4,461.2h11.7v11.8h-11.7zM1859.3,461.2h11.7v11.8h-11.7zM1746,449.7h11.7v11.8h-11.7zM1666.7,438.2h23v11.8h-23zM1440.1,415.2h11.7v11.8h-11.7zM1474.1,415.2h11.7v11.8h-11.7zM1496.7,415.2h11.7v11.8h-11.7z"/>
<path fill="#71b1d7" d="M1519.4,725.6h11.7v11.8h-11.7zM1644,714.1h11.7v11.8h-11.7zM1825.4,679.6h11.7v11.8h-11.7zM1870.7,668.1h23v11.8h-23zM1938.7,656.6h11.7v11.8h-11.7zM1836.7,472.7h11.7v11.8h-11.7zM1859.3,472.7h11.7v11.8h-11.7zM1780,461.2h11.7v11.8h-11.7zM1734.7,449.7h11.7v11.8h-11.7zM1757.4,449.7h11.7v11.8h-11.7zM1440.1,426.7h11.7v11.8h-11.7zM1576,426.7h23v11.8h-23zM1485.4,415.2h11.7v11.8h-11.7z"/>
<path fill="#6dafd7" d="M1485.4,725.6h11.7v11.8h-11.7zM1621.4,714.1h11.7v11.8h-11.7zM1814,679.6h11.7v11.8h-11.7zM1859.3,668.1h11.7v11.8h-11.7zM1927.3,656.6h11.7v11.8h-11.7zM1950,484.2h11.7v11.8h-11.7zM1802.7,472.7h11.7v11.8h-11.7zM1904.7,472.7h11.7v11.8h-11.7zM1802.7,461.2h11.7v11.8h-11.7zM1428.7,449.7h11.7v11.8h-11.7zM1666.7,449.7h11.7v11.8h-11.7zM1689.4,449.7h23v11.8h-23zM1644,438.2h11.7v11.8h-11.7zM1553.4,426.7h11.7v11.8h-11.7z"/>
<path fill="#69add5" d="M1474.1,725.6h11.7v11.8h-11.7zM1530.7,725.6h11.7v11.8h-11.7zM1417.4,507.2h11.7v11.8h-11.7zM1972.7,495.7h11.7v11.8h-11.7zM1927.3,484.2h23v11.8h-23zM1848,472.7h11.7v11.8h-11.7zM1870.7,472.7h11.7v11.8h-11.7zM1734.7,461.2h23v11.8h-23zM1451.4,426.7h34.3v11.8h-34.3zM1542.1,426.7h11.7v11.8h-11.7z"/>
<path fill="#66abd4" d="M1462.7,725.6h11.7v11.8h-11.7zM1678,702.6h11.7v11.8h-11.7zM1746,691.1h11.7v11.8h-11.7zM1802.7,679.6h11.7v11.8h-11.7zM1972.7,645.2h11.7v11.8h-11.7zM1893.3,484.2h11.7v11.8h-11.7zM1780,472.7h11.7v11.8h-11.7zM1814,472.7h23v11.8h-23zM1757.4,461.2h11.7v11.8h-11.7zM1678,449.7h11.7v11.8h-11.7zM1723.4,449.7h11.7v11.8h-11.7zM1587.4,438.2h11.7v11.8h-11.7zM1610,438.2h34.3v11.8h-34.3zM1485.4,426.7h23v11.8h-23zM1519.4,426.7h23v11.8h-23z"/>
<path fill="#64a9d3" d="M1440.1,725.6h23v11.8h-23zM1428.7,714.1h11.7v11.8h-11.7zM1598.7,714.1h23v11.8h-23zM1916,656.6h11.7v11.8h-11.7zM1961.3,645.2h11.7v11.8h-11.7zM1938.7,495.7h11.7v11.8h-11.7zM1848,484.2h45.7v11.8h-45.7zM1904.7,484.2h23v11.8h-23zM1768.7,472.7h11.7v11.8h-11.7zM1576,438.2h11.7v11.8h-11.7zM1598.7,438.2h11.7v11.8h-11.7zM1508.1,426.7h11.7v11.8h-11.7z"/>
<path fill="#61a7d2" d="M1666.7,702.6h11.7v11.8h-11.7zM1723.4,691.1h23v11.8h-23zM1417.4,679.6h11.7v11.8h-11.7zM1950,645.2h11.7v11.8h-11.7zM1950,495.7h23v11.8h-23zM1689.4,461.2h11.7v11.8h-11.7zM1644,449.7h23v11.8h-23zM1553.4,438.2h23v11.8h-23z"/>
<path fill="#5fa6d1" d="M1587.4,714.1h11.7v11.8h-11.7zM1791.4,679.6h11.7v11.8h-11.7zM1848,668.1h11.7v11.8h-11.7zM1417.4,518.7h11.7v11.8h-11.7zM1972.7,507.2h11.7v11.8h-11.7zM1893.3,495.7h23v11.8h-23zM1927.3,495.7h11.7v11.8h-11.7zM1802.7,484.2h11.7v11.8h-11.7zM1836.7,484.2h11.7v11.8h-11.7zM1791.4,472.7h11.7v11.8h-11.7zM1678,461.2h11.7v11.8h-11.7zM1700.7,461.2h23v11.8h-23zM1632.7,449.7h11.7v11.8h-11.7zM1508.1,438.2h11.7v11.8h-11.7zM1530.7,438.2h23v11.8h-23z"/>
<path fill="#5ca4d0" d="M1655.4,702.6h11.7v11.8h-11.7zM1780,679.6h11.7v11.8h-11.7zM1893.3,656.6h23v11.8h-23zM1870.7,495.7h11.7v11.8h-11.7zM1916,495.7h11.7v11.8h-11.7zM1780,484.2h11.7v11.8h-11.7zM1814,484.2h23v11.8h-23zM1712,472.7h11.7v11.8h-11.7zM1734.7,472.7h34.3v11.8h-34.3zM1666.7,461.2h11.7v11.8h-11.7zM1723.4,461.2h11.7v11.8h-11.7zM1587.4,449.7h11.7v11.8h-11.7zM1451.4,438.2h11.7v11.8h-11.7zM1496.7,438.2h11.7v11.8h-11.7zM1519.4,438.2h11.7v11.8h-11.7z"/>
<path fill="#5aa2cf" d="M1564.7,714.1h23v11.8h-23zM1712,691.1h11.7v11.8h-11.7zM1836.7,668.1h11.7v11.8h-11.7zM1950,507.2h11.7v11.8h-11.7zM1882,495.7h11.7v11.8h-11.7zM1768.7,484.2h11.7v11.8h-11.7zM1791.4,484.2h11.7v11.8h-11.7zM1723.4,472.7h11.7v11.8h-11.7zM1428.7,461.2h11.7v11.8h-11.7zM1576,449.7h11.7v11.8h-11.7zM1598.7,449.7h34.3v11.8h-34.3zM1440.1,438.2h11.7v11.8h-11.7zM1462.7,438.2h34.3v11.8h-34.3z"/>
<path fill="#57a0ce" d="M1530.7,714.1h11.7v11.8h-11.7zM1904.7,507.2h34.3v11.8h-34.3zM1961.3,507.2h11.7v11.8h-11.7zM1848,495.7h23v11.8h-23zM1757.4,484.2h11.7v11.8h-11.7zM1655.4,461.2h11.7v11.8h-11.7zM1485.4,449.7h11.7v11.8h-11.7zM1542.1,449.7h11.7v11.8h-11.7z"/>
<path fill="#549fcd" d="M1553.4,714.1h11.7v11.8h-11.7zM1644,702.6h11.7v11.8h-11.7zM1689.4,691.1h23v11.8h-23zM1417.4,668.1h11.7v11.8h-11.7zM1825.4,668.1h11.7v11.8h-11.7zM1417.4,530.2h11.7v11.8h-11.7zM1972.7,518.7h11.7v11.8h-11.7zM1893.3,507.2h11.7v11.8h-11.7zM1938.7,507.2h11.7v11.8h-11.7zM1814,495.7h34.3v11.8h-34.3zM1428.7,472.7h11.7v11.8h-11.7zM1689.4,472.7h23v11.8h-23zM1632.7,461.2h11.7v11.8h-11.7zM1530.7,449.7h11.7v11.8h-11.7zM1564.7,449.7h11.7v11.8h-11.7z"/>
<path fill="#529dcc" d="M1519.4,714.1h11.7v11.8h-11.7zM1632.7,702.6h11.7v11.8h-11.7zM1768.7,679.6h11.7v11.8h-11.7zM1882,656.6h11.7v11.8h-11.7zM1927.3,645.2h23v11.8h-23zM1950,518.7h23v11.8h-23zM1802.7,495.7h11.7v11.8h-11.7zM1666.7,472.7h11.7v11.8h-11.7zM1610,461.2h23v11.8h-23zM1644,461.2h11.7v11.8h-11.7zM1440.1,449.7h11.7v11.8h-11.7zM1496.7,449.7h34.3v11.8h-34.3zM1553.4,449.7h11.7v11.8h-11.7z"/>
<path fill="#4f9bcb" d="M1474.1,714.1h11.7v11.8h-11.7zM1496.7,714.1h23v11.8h-23zM1542.1,714.1h11.7v11.8h-11.7zM1621.4,702.6h11.7v11.8h-11.7zM1814,668.1h11.7v11.8h-11.7zM1870.7,656.6h11.7v11.8h-11.7zM1961.3,633.7h23v11.8h-23zM1938.7,518.7h11.7v11.8h-11.7zM1870.7,507.2h23v11.8h-23zM1768.7,495.7h11.7v11.8h-11.7zM1791.4,495.7h11.7v11.8h-11.7zM1746,484.2h11.7v11.8h-11.7zM1655.4,472.7h11.7v11.8h-11.7zM1451.4,449.7h34.3v11.8h-34.3z"/>
<path fill="#4d99ca" d="M1428.7,702.6h11.7v11.8h-11.7zM1757.4,679.6h11.7v11.8h-11.7zM1916,645.2h11.7v11.8h-11.7zM1972.7,530.2h11.7v11.8h-11.7zM1904.7,518.7h34.3v11.8h-34.3zM1825.4,507.2h11.7v11.8h-11.7zM1848,507.2h23v11.8h-23zM1780,495.7h11.7v11.8h-11.7zM1712,484.2h23v11.8h-23zM1644,472.7h11.7v11.8h-11.7zM1678,472.7h11.7v11.8h-11.7zM1564.7,461.2h45.7v11.8h-45.7z"/>
<path fill="#4a98c9" d="M1485.4,714.1h11.7v11.8h-11.7zM1610,702.6h11.7v11.8h-11.7zM1746,679.6h11.7v11.8h-11.7zM1417.4,656.6h11.7v11.8h-11.7zM1904.7,645.2h11.7v11.8h-11.7zM1950,633.7h11.7v11.8h-11.7zM1950,530.2h23v11.8h-23zM1882,518.7h23v11.8h-23zM1836.7,507.2h11.7v11.8h-11.7zM1757.4,495.7h11.7v11.8h-11.7zM1428.7,484.2h11.7v11.8h-11.7zM1666.7,484.2h45.7v11.8h-45.7zM1734.7,484.2h11.7v11.8h-11.7zM1530.7,461.2h11.7v11.8h-11.7z"/>
<path fill="#4896c8" d="M1451.4,714.1h23v11.8h-23zM1666.7,691.1h23v11.8h-23zM1802.7,668.1h11.7v11.8h-11.7zM1859.3,656.6h11.7v11.8h-11.7zM1938.7,633.7h11.7v11.8h-11.7zM1417.4,541.7h11.7v11.8h-11.7zM1927.3,530.2h23v11.8h-23zM1859.3,518.7h23v11.8h-23zM1802.7,507.2h23v11.8h-23zM1734.7,495.7h23v11.8h-23zM1610,472.7h11.7v11.8h-11.7zM1632.7,472.7h11.7v11.8h-11.7zM1440.1,461.2h11.7v11.8h-11.7zM1496.7,461.2h23v11.8h-23zM1542.1,461.2h23v11.8h-23z"/>
<path fill="#4594c7" d="M1440.1,714.1h11.7v11.8h-11.7zM1598.7,702.6h11.7v11.8h-11.7zM1734.7,679.6h11.7v11.8h-11.7zM1848,656.6h11.7v11.8h-11.7zM1893.3,645.2h11.7v11.8h-11.7zM1961.3,622.2h23v11.8h-23zM1961.3,541.7h23v11.8h-23zM1916,530.2h11.7v11.8h-11.7zM1848,518.7h11.7v11.8h-11.7zM1780,507.2h23v11.8h-23zM1598.7,472.7h11.7v11.8h-11.7zM1621.4,472.7h11.7v11.8h-11.7zM1451.4,461.2h45.7v11.8h-45.7zM1519.4,461.2h11.7v11.8h-11.7z"/>
<path fill="#4292c6" d="M1564.7,702.6h11.7v11.8h-11.7zM1587.4,702.6h11.7v11.8h-11.7zM1791.4,668.1h11.7v11.8h-11.7zM1417.4,645.2h11.7v11.8h-11.7zM1417.4,553.2h11.7v11.8h-11.7zM1882,530.2h34.3v11.8h-34.3zM1825.4,518.7h23v11.8h-23zM1768.7,507.2h11.7v11.8h-11.7zM1723.4,495.7h11.7v11.8h-11.7zM1553.4,472.7h45.7v11.8h-45.7z"/>
<path fill="#4090c5" d="M1576,702.6h11.7v11.8h-11.7zM1712,679.6h23v11.8h-23zM1780,668.1h11.7v11.8h-11.7zM1836.7,656.6h11.7v11.8h-11.7zM1882,645.2h11.7v11.8h-11.7zM1927.3,633.7h11.7v11.8h-11.7zM1961.3,553.2h11.7v11.8h-11.7zM1938.7,541.7h23v11.8h-23zM1802.7,518.7h23v11.8h-23zM1757.4,507.2h11.7v11.8h-11.7zM1700.7,495.7h11.7v11.8h-11.7zM1644,484.2h23v11.8h-23z"/>
<path fill="#3e8ec4" d="M1542.1,702.6h23v11.8h-23zM1655.4,691.1h11.7v11.8h-11.7zM1870.7,645.2h11.7v11.8h-11.7zM1916,633.7h11.7v11.8h-11.7zM1950,622.2h11.7v11.8h-11.7zM1972.7,610.7h11.7v11.8h-11.7zM1972.7,564.7h11.7v11.8h-11.7zM1950,553.2h11.7v11.8h-11.7zM1972.7,553.2h11.7v11.8h-11.7zM1927.3,541.7h11.7v11.8h-11.7zM1859.3,530.2h23v11.8h-23zM1791.4,518.7h11.7v11.8h-11.7zM1746,507.2h11.7v11.8h-11.7zM1428.7,495.7h11.7v11.8h-11.7zM1678,495.7h23v11.8h-23zM1712,495.7h11.7v11.8h-11.7zM1621.4,484.2h11.7v11.8h-11.7zM1508.1,472.7h23v11.8h-23zM1542.1,472.7h11.7v11.8h-11.7z"/>
<path fill="#3c8cc3" d="M1508.1,702.6h11.7v11.8h-11.7zM1530.7,702.6h11.7v11.8h-11.7zM1428.7,691.1h11.7v11.8h-11.7zM1632.7,691.1h23v11.8h-23zM1768.7,668.1h11.7v11.8h-11.7zM1825.4,656.6h11.7v11.8h-11.7zM1417.4,633.7h11.7v11.8h-11.7zM1904.7,633.7h11.7v11.8h-11.7zM1938.7,622.2h11.7v11.8h-11.7zM1961.3,610.7h11.7v11.8h-11.7zM1417.4,564.7h11.7v11.8h-11.7zM1938.7,553.2h11.7v11.8h-11.7zM1870.7,541.7h11.7v11.8h-11.7zM1904.7,541.7h23v11.8h-23zM1836.7,530.2h23v11.8h-23zM1734.7,507.2h11.7v11.8h-11.7zM1666.7,495.7h11.7v11.8h-11.7zM1610,484.2h11.7v11.8h-11.7zM1632.7,484.2h11.7v11.8h-11.7zM1485.4,472.7h23v11.8h-23zM1530.7,472.7h11.7v11.8h-11.7z"/>
<path fill="#3a8ac2" d="M1496.7,702.6h11.7v11.8h-11.7zM1519.4,702.6h11.7v11.8h-11.7zM1689.4,679.6h23v11.8h-23zM1757.4,668.1h11.7v11.8h-11.7zM1814,656.6h11.7v11.8h-11.7zM1859.3,645.2h11.7v11.8h-11.7zM1972.7,599.2h11.7v11.8h-11.7zM1916,553.2h11.7v11.8h-11.7zM1882,541.7h23v11.8h-23zM1825.4,530.2h11.7v11.8h-11.7zM1780,518.7h11.7v11.8h-11.7zM1723.4,507.2h11.7v11.8h-11.7zM1655.4,495.7h11.7v11.8h-11.7zM1576,484.2h34.3v11.8h-34.3zM1440.1,472.7h45.7v11.8h-45.7z"/>
<path fill="#3888c1" d="M1440.1,702.6h11.7v11.8h-11.7zM1462.7,702.6h34.3v11.8h-34.3zM1621.4,691.1h11.7v11.8h-11.7zM1848,645.2h11.7v11.8h-11.7zM1893.3,633.7h11.7v11.8h-11.7zM1927.3,622.2h11.7v11.8h-11.7zM1938.7,610.7h11.7v11.8h-11.7zM1961.3,587.7h23v11.8h-23zM1417.4,576.2h11.7v11.8h-11.7zM1961.3,576.2h23v11.8h-23zM1950,564.7h23v11.8h-23zM1904.7,553.2h11.7v11.8h-11.7zM1927.3,553.2h11.7v11.8h-11.7zM1802.7,530.2h23v11.8h-23zM1746,518.7h34.3v11.8h-34.3zM1712,507.2h11.7v11.8h-11.7zM1644,495.7h11.7v11.8h-11.7zM1564.7,484.2h11.7v11.8h-11.7z"/>
<path fill="#3686c0" d="M1610,691.1h11.7v11.8h-11.7zM1746,668.1h11.7v11.8h-11.7zM1802.7,656.6h11.7v11.8h-11.7zM1417.4,622.2h11.7v11.8h-11.7zM1916,622.2h11.7v11.8h-11.7zM1950,610.7h11.7v11.8h-11.7zM1961.3,599.2h11.7v11.8h-11.7zM1417.4,587.7h11.7v11.8h-11.7zM1950,587.7h11.7v11.8h-11.7zM1950,576.2h11.7v11.8h-11.7zM1916,564.7h34.3v11.8h-34.3zM1882,553.2h23v11.8h-23zM1836.7,541.7h11.7v11.8h-11.7zM1859.3,541.7h11.7v11.8h-11.7zM1734.7,518.7h11.7v11.8h-11.7zM1689.4,507.2h23v11.8h-23zM1632.7,495.7h11.7v11.8h-11.7zM1519.4,484.2h45.7v11.8h-45.7z"/>
<path fill="#3484bf" d="M1451.4,702.6h11.7v11.8h-11.7zM1598.7,691.1h11.7v11.8h-11.7zM1428.7,679.6h11.7v11.8h-11.7zM1678,679.6h11.7v11.8h-11.7zM1836.7,645.2h11.7v11.8h-11.7zM1882,633.7h11.7v11.8h-11.7zM1417.4,610.7h11.7v11.8h-11.7zM1927.3,610.7h11.7v11.8h-11.7zM1417.4,599.2h11.7v11.8h-11.7zM1938.7,599.2h23v11.8h-23zM1938.7,587.7h11.7v11.8h-11.7zM1916,576.2h11.7v11.8h-11.7zM1938.7,576.2h11.7v11.8h-11.7zM1904.7,564.7h11.7v11.8h-11.7zM1859.3,553.2h23v11.8h-23zM1825.4,541.7h11.7v11.8h-11.7zM1848,541.7h11.7v11.8h-11.7zM1780,530.2h23v11.8h-23zM1723.4,518.7h11.7v11.8h-11.7zM1428.7,507.2h11.7v11.8h-11.7zM1678,507.2h11.7v11.8h-11.7zM1610,495.7h23v11.8h-23zM1485.4,484.2h34.3v11.8h-34.3z"/>
<path fill="#3282be" d="M1587.4,691.1h11.7v11.8h-11.7zM1666.7,679.6h11.7v11.8h-11.7zM1723.4,668.1h23v11.8h-23zM1791.4,656.6h11.7v11.8h-11.7zM1904.7,622.2h11.7v11.8h-11.7zM1916,610.7h11.7v11.8h-11.7zM1927.3,599.2h11.7v11.8h-11.7zM1927.3,576.2h11.7v11.8h-11.7zM1893.3,564.7h11.7v11.8h-11.7zM1814,541.7h11.7v11.8h-11.7zM1768.7,530.2h11.7v11.8h-11.7zM1655.4,507.2h23v11.8h-23zM1587.4,495.7h23v11.8h-23zM1440.1,484.2h45.7v11.8h-45.7z"/>
<path fill="#3080bd" d="M1553.4,691.1h34.3v11.8h-34.3zM1780,656.6h11.7v11.8h-11.7zM1825.4,645.2h11.7v11.8h-11.7zM1859.3,633.7h23v11.8h-23zM1882,622.2h23v11.8h-23zM1904.7,610.7h11.7v11.8h-11.7zM1916,599.2h11.7v11.8h-11.7zM1916,587.7h23v11.8h-23zM1893.3,576.2h23v11.8h-23zM1882,564.7h11.7v11.8h-11.7zM1836.7,553.2h23v11.8h-23zM1802.7,541.7h11.7v11.8h-11.7zM1757.4,530.2h11.7v11.8h-11.7zM1712,518.7h11.7v11.8h-11.7zM1644,507.2h11.7v11.8h-11.7zM1553.4,495.7h11.7v11.8h-11.7zM1576,495.7h11.7v11.8h-11.7z"/>
<path fill="#2e7ebc" d="M1508.1,691.1h11.7v11.8h-11.7zM1530.7,691.1h23v11.8h-23zM1644,679.6h23v11.8h-23zM1712,668.1h11.7v11.8h-11.7zM1848,633.7h11.7v11.8h-11.7zM1904.7,587.7h11.7v11.8h-11.7zM1859.3,564.7h23v11.8h-23zM1825.4,553.2h11.7v11.8h-11.7zM1791.4,541.7h11.7v11.8h-11.7zM1734.7,530.2h23v11.8h-23zM1428.7,518.7h11.7v11.8h-11.7zM1689.4,518.7h23v11.8h-23zM1632.7,507.2h11.7v11.8h-11.7zM1542.1,495.7h11.7v11.8h-11.7zM1564.7,495.7h11.7v11.8h-11.7z"/>
<path fill="#2c7cba" d="M1462.7,691.1h11.7v11.8h-11.7zM1485.4,691.1h23v11.8h-23zM1519.4,691.1h11.7v11.8h-11.7zM1768.7,656.6h11.7v11.8h-11.7zM1814,645.2h11.7v11.8h-11.7zM1870.7,622.2h11.7v11.8h-11.7zM1882,610.7h23v11.8h-23zM1893.3,599.2h23v11.8h-23zM1893.3,587.7h11.7v11.8h-11.7zM1870.7,576.2h23v11.8h-23zM1848,564.7h11.7v11.8h-11.7zM1814,553.2h11.7v11.8h-11.7zM1768.7,541.7h23v11.8h-23zM1678,518.7h11.7v11.8h-11.7zM1610,507.2h23v11.8h-23zM1485.4,495.7h11.7v11.8h-11.7zM1508.1,495.7h34.3v11.8h-34.3z"/>
<path fill="#2a7ab9" d="M1440.1,691.1h11.7v11.8h-11.7zM1474.1,691.1h11.7v11.8h-11.7zM1632.7,679.6h11.7v11.8h-11.7zM1689.4,668.1h23v11.8h-23zM1757.4,656.6h11.7v11.8h-11.7zM1802.7,645.2h11.7v11.8h-11.7zM1836.7,633.7h11.7v11.8h-11.7zM1859.3,622.2h11.7v11.8h-11.7zM1882,599.2h11.7v11.8h-11.7zM1870.7,587.7h23v11.8h-23zM1848,576.2h11.7v11.8h-11.7zM1836.7,564.7h11.7v11.8h-11.7zM1802.7,553.2h11.7v11.8h-11.7zM1757.4,541.7h11.7v11.8h-11.7zM1712,530.2h23v11.8h-23zM1666.7,518.7h11.7v11.8h-11.7zM1576,507.2h34.3v11.8h-34.3zM1451.4,495.7h34.3v11.8h-34.3zM1496.7,495.7h11.7v11.8h-11.7z"/>
<path fill="#2777b8" d="M1451.4,691.1h11.7v11.8h-11.7zM1610,679.6h23v11.8h-23zM1428.7,668.1h11.7v11.8h-11.7zM1746,656.6h11.7v11.8h-11.7zM1791.4,645.2h11.7v11.8h-11.7zM1870.7,610.7h11.7v11.8h-11.7zM1870.7,599.2h11.7v11.8h-11.7zM1859.3,576.2h11.7v11.8h-11.7zM1814,564.7h23v11.8h-23zM1791.4,553.2h11.7v11.8h-11.7zM1746,541.7h11.7v11.8h-11.7zM1644,518.7h23v11.8h-23zM1564.7,507.2h11.7v11.8h-11.7zM1440.1,495.7h11.7v11.8h-11.7z"/>
<path fill="#2575b7" d="M1598.7,679.6h11.7v11.8h-11.7zM1678,668.1h11.7v11.8h-11.7zM1734.7,656.6h11.7v11.8h-11.7zM1825.4,633.7h11.7v11.8h-11.7zM1836.7,622.2h23v11.8h-23zM1859.3,610.7h11.7v11.8h-11.7zM1848,587.7h23v11.8h-23zM1836.7,576.2h11.7v11.8h-11.7zM1802.7,564.7h11.7v11.8h-11.7zM1768.7,553.2h23v11.8h-23zM1734.7,541.7h11.7v11.8h-11.7zM1689.4,530.2h23v11.8h-23zM1632.7,518.7h11.7v11.8h-11.7zM1519.4,507.2h11.7v11.8h-11.7zM1542.1,507.2h23v11.8h-23z"/>
<path fill="#2373b6" d="M1576,679.6h23v11.8h-23zM1723.4,656.6h11.7v11.8h-11.7zM1780,645.2h11.7v11.8h-11.7zM1814,633.7h11.7v11.8h-11.7zM1848,610.7h11.7v11.8h-11.7zM1848,599.2h23v11.8h-23zM1836.7,587.7h11.7v11.8h-11.7zM1825.4,576.2h11.7v11.8h-11.7zM1757.4,553.2h11.7v11.8h-11.7zM1723.4,541.7h11.7v11.8h-11.7zM1428.7,530.2h11.7v11.8h-11.7zM1678,530.2h11.7v11.8h-11.7zM1621.4,518.7h11.7v11.8h-11.7zM1496.7,507.2h23v11.8h-23zM1530.7,507.2h11.7v11.8h-11.7z"/>
<path fill="#2171b5" d="M1530.7,679.6h45.7v11.8h-45.7zM1666.7,668.1h11.7v11.8h-11.7zM1768.7,645.2h11.7v11.8h-11.7zM1802.7,633.7h11.7v11.8h-11.7zM1825.4,622.2h11.7v11.8h-11.7zM1836.7,599.2h11.7v11.8h-11.7zM1825.4,587.7h11.7v11.8h-11.7zM1814,576.2h11.7v11.8h-11.7zM1791.4,564.7h11.7v11.8h-11.7zM1746,553.2h11.7v11.8h-11.7zM1666.7,530.2h11.7v11.8h-11.7zM1598.7,518.7h23v11.8h-23zM1474.1,507.2h23v11.8h-23z"/>
<path fill="#206fb4" d="M1474.1,679.6h57v11.8h-57zM1655.4,668.1h11.7v11.8h-11.7zM1712,656.6h11.7v11.8h-11.7zM1791.4,633.7h11.7v11.8h-11.7zM1825.4,610.7h23v11.8h-23zM1814,587.7h11.7v11.8h-11.7zM1802.7,576.2h11.7v11.8h-11.7zM1768.7,564.7h23v11.8h-23zM1700.7,541.7h23v11.8h-23zM1644,530.2h23v11.8h-23zM1564.7,518.7h34.3v11.8h-34.3zM1440.1,507.2h11.7v11.8h-11.7zM1462.7,507.2h11.7v11.8h-11.7z"/>
<path fill="#1e6db2" d="M1440.1,679.6h34.3v11.8h-34.3zM1644,668.1h11.7v11.8h-11.7zM1428.7,656.6h11.7v11.8h-11.7zM1700.7,656.6h11.7v11.8h-11.7zM1746,645.2h23v11.8h-23zM1802.7,622.2h23v11.8h-23zM1825.4,599.2h11.7v11.8h-11.7zM1780,576.2h23v11.8h-23zM1757.4,564.7h11.7v11.8h-11.7zM1723.4,553.2h23v11.8h-23zM1428.7,541.7h11.7v11.8h-11.7zM1621.4,530.2h23v11.8h-23zM1530.7,518.7h34.3v11.8h-34.3zM1451.4,507.2h11.7v11.8h-11.7z"/>
<path fill="#1c6bb0" d="M1632.7,668.1h11.7v11.8h-11.7zM1689.4,656.6h11.7v11.8h-11.7zM1780,633.7h11.7v11.8h-11.7zM1814,610.7h11.7v11.8h-11.7zM1814,599.2h11.7v11.8h-11.7zM1791.4,587.7h23v11.8h-23zM1678,541.7h23v11.8h-23zM1598.7,530.2h11.7v11.8h-11.7zM1485.4,518.7h34.3v11.8h-34.3z"/>
<path fill="#1b69af" d="M1598.7,668.1h34.3v11.8h-34.3zM1678,656.6h11.7v11.8h-11.7zM1734.7,645.2h11.7v11.8h-11.7zM1768.7,633.7h11.7v11.8h-11.7zM1791.4,622.2h11.7v11.8h-11.7zM1802.7,610.7h11.7v11.8h-11.7zM1802.7,599.2h11.7v11.8h-11.7zM1780,587.7h11.7v11.8h-11.7zM1746,564.7h11.7v11.8h-11.7zM1712,553.2h11.7v11.8h-11.7zM1655.4,541.7h23v11.8h-23zM1587.4,530.2h11.7v11.8h-11.7zM1610,530.2h11.7v11.8h-11.7zM1440.1,518.7h11.7v11.8h-11.7zM1474.1,518.7h11.7v11.8h-11.7zM1519.4,518.7h11.7v11.8h-11.7z"/>
<path fill="#1967ad" d="M1576,668.1h23v11.8h-23zM1666.7,656.6h11.7v11.8h-11.7zM1723.4,645.2h11.7v11.8h-11.7zM1757.4,633.7h11.7v11.8h-11.7zM1780,622.2h11.7v11.8h-11.7zM1791.4,610.7h11.7v11.8h-11.7zM1791.4,599.2h11.7v11.8h-11.7zM1768.7,587.7h11.7v11.8h-11.7zM1757.4,576.2h23v11.8h-23zM1723.4,564.7h23v11.8h-23zM1689.4,553.2h23v11.8h-23zM1644,541.7h11.7v11.8h-11.7zM1542.1,530.2h11.7v11.8h-11.7zM1564.7,530.2h23v11.8h-23zM1451.4,518.7h23v11.8h-23z"/>
<path fill="#1865ac" d="M1485.4,668.1h23v11.8h-23zM1519.4,668.1h11.7v11.8h-11.7zM1542.1,668.1h34.3v11.8h-34.3zM1428.7,645.2h11.7v11.8h-11.7zM1712,645.2h11.7v11.8h-11.7zM1746,633.7h11.7v11.8h-11.7zM1768.7,622.2h11.7v11.8h-11.7zM1780,610.7h11.7v11.8h-11.7zM1780,599.2h11.7v11.8h-11.7zM1757.4,587.7h11.7v11.8h-11.7zM1746,576.2h11.7v11.8h-11.7zM1428.7,553.2h11.7v11.8h-11.7zM1678,553.2h11.7v11.8h-11.7zM1632.7,541.7h11.7v11.8h-11.7zM1519.4,530.2h23v11.8h-23zM1553.4,530.2h11.7v11.8h-11.7z"/>
<path fill="#1663aa" d="M1440.1,668.1h45.7v11.8h-45.7zM1508.1,668.1h11.7v11.8h-11.7zM1530.7,668.1h11.7v11.8h-11.7zM1655.4,656.6h11.7v11.8h-11.7zM1700.7,645.2h11.7v11.8h-11.7zM1768.7,610.7h11.7v11.8h-11.7zM1768.7,599.2h11.7v11.8h-11.7zM1746,587.7h11.7v11.8h-11.7zM1734.7,576.2h11.7v11.8h-11.7zM1712,564.7h11.7v11.8h-11.7zM1655.4,553.2h23v11.8h-23zM1598.7,541.7h34.3v11.8h-34.3zM1485.4,530.2h34.3v11.8h-34.3z"/>
<path fill="#1561a9" d="M1632.7,656.6h23v11.8h-23zM1689.4,645.2h11.7v11.8h-11.7zM1428.7,633.7h11.7v11.8h-11.7zM1723.4,633.7h23v11.8h-23zM1757.4,622.2h11.7v11.8h-11.7zM1757.4,610.7h11.7v11.8h-11.7zM1757.4,599.2h11.7v11.8h-11.7zM1723.4,576.2h11.7v11.8h-11.7zM1428.7,564.7h11.7v11.8h-11.7zM1700.7,564.7h11.7v11.8h-11.7zM1644,553.2h11.7v11.8h-11.7zM1587.4,541.7h11.7v11.8h-11.7zM1440.1,530.2h45.7v11.8h-45.7z"/>
<path fill="#135fa7" d="M1610,656.6h23v11.8h-23zM1678,645.2h11.7v11.8h-11.7zM1746,622.2h11.7v11.8h-11.7zM1746,610.7h11.7v11.8h-11.7zM1746,599.2h11.7v11.8h-11.7zM1734.7,587.7h11.7v11.8h-11.7zM1712,576.2h11.7v11.8h-11.7zM1678,564.7h23v11.8h-23zM1621.4,553.2h23v11.8h-23zM1542.1,541.7h45.7v11.8h-45.7z"/>
<path fill="#125da6" d="M1576,656.6h34.3v11.8h-34.3zM1666.7,645.2h11.7v11.8h-11.7zM1712,633.7h11.7v11.8h-11.7zM1723.4,622.2h23v11.8h-23zM1734.7,610.7h11.7v11.8h-11.7zM1734.7,599.2h11.7v11.8h-11.7zM1723.4,587.7h11.7v11.8h-11.7zM1428.7,576.2h11.7v11.8h-11.7zM1700.7,576.2h11.7v11.8h-11.7zM1666.7,564.7h11.7v11.8h-11.7zM1610,553.2h11.7v11.8h-11.7zM1519.4,541.7h23v11.8h-23z"/>
<path fill="#105ba4" d="M1440.1,656.6h11.7v11.8h-11.7zM1474.1,656.6h11.7v11.8h-11.7zM1496.7,656.6h79.7v11.8h-79.7zM1655.4,645.2h11.7v11.8h-11.7zM1700.7,633.7h11.7v11.8h-11.7zM1428.7,622.2h11.7v11.8h-11.7zM1712,622.2h11.7v11.8h-11.7zM1723.4,610.7h11.7v11.8h-11.7zM1723.4,599.2h11.7v11.8h-11.7zM1428.7,587.7h11.7v11.8h-11.7zM1712,587.7h11.7v11.8h-11.7zM1678,576.2h23v11.8h-23zM1644,564.7h23v11.8h-23zM1587.4,553.2h23v11.8h-23zM1474.1,541.7h45.7v11.8h-45.7z"/>
<path fill="#0e59a2" d="M1462.7,656.6h11.7v11.8h-11.7zM1485.4,656.6h11.7v11.8h-11.7zM1644,645.2h11.7v11.8h-11.7zM1678,633.7h23v11.8h-23zM1428.7,610.7h11.7v11.8h-11.7zM1712,610.7h11.7v11.8h-11.7zM1428.7,599.2h11.7v11.8h-11.7zM1712,599.2h11.7v11.8h-11.7zM1700.7,587.7h11.7v11.8h-11.7zM1666.7,576.2h11.7v11.8h-11.7zM1632.7,564.7h11.7v11.8h-11.7zM1564.7,553.2h23v11.8h-23zM1440.1,541.7h34.3v11.8h-34.3z"/>
<path fill="#0d57a1" d="M1451.4,656.6h11.7v11.8h-11.7zM1621.4,645.2h23v11.8h-23zM1666.7,633.7h11.7v11.8h-11.7zM1689.4,622.2h23v11.8h-23zM1700.7,599.2h11.7v11.8h-11.7zM1678,587.7h23v11.8h-23zM1655.4,576.2h11.7v11.8h-11.7zM1610,564.7h23v11.8h-23zM1519.4,553.2h45.7v11.8h-45.7z"/>
<path fill="#0b559f" d="M1598.7,645.2h23v11.8h-23zM1655.4,633.7h11.7v11.8h-11.7zM1678,622.2h11.7v11.8h-11.7zM1689.4,610.7h23v11.8h-23zM1689.4,599.2h11.7v11.8h-11.7zM1666.7,587.7h11.7v11.8h-11.7zM1632.7,576.2h23v11.8h-23zM1587.4,564.7h23v11.8h-23zM1485.4,553.2h34.3v11.8h-34.3z"/>
<path fill="#0a539e" d="M1474.1,645.2h125v11.8h-125zM1632.7,633.7h23v11.8h-23zM1666.7,622.2h11.7v11.8h-11.7zM1666.7,610.7h23v11.8h-23zM1666.7,599.2h23v11.8h-23zM1644,587.7h23v11.8h-23zM1610,576.2h23v11.8h-23zM1553.4,564.7h34.3v11.8h-34.3zM1451.4,553.2h34.3v11.8h-34.3z"/>
<path fill="#08519c" d="M1440.1,645.2h34.3v11.8h-34.3zM1610,633.7h23v11.8h-23zM1644,622.2h23v11.8h-23zM1655.4,599.2h11.7v11.8h-11.7zM1587.4,576.2h23v11.8h-23zM1496.7,564.7h57v11.8h-57zM1440.1,553.2h11.7v11.8h-11.7z"/>
<path fill="#084f99" d="M1576,633.7h34.3v11.8h-34.3zM1632.7,622.2h11.7v11.8h-11.7zM1644,610.7h23v11.8h-23zM1632.7,599.2h23v11.8h-23zM1598.7,587.7h45.7v11.8h-45.7zM1564.7,576.2h23v11.8h-23zM1474.1,564.7h23v11.8h-23z"/>
<path fill="#084d96" d="M1440.1,633.7h11.7v11.8h-11.7zM1474.1,633.7h23v11.8h-23zM1519.4,633.7h57v11.8h-57zM1598.7,622.2h34.3v11.8h-34.3zM1610,610.7h34.3v11.8h-34.3zM1610,599.2h23v11.8h-23zM1576,587.7h23v11.8h-23zM1508.1,576.2h57v11.8h-57zM1440.1,564.7h34.3v11.8h-34.3z"/>
<path fill="#084b93" d="M1451.4,633.7h23v11.8h-23zM1496.7,633.7h23v11.8h-23zM1542.1,622.2h11.7v11.8h-11.7zM1564.7,622.2h34.3v11.8h-34.3zM1587.4,610.7h23v11.8h-23zM1576,599.2h34.3v11.8h-34.3zM1542.1,587.7h34.3v11.8h-34.3zM1462.7,576.2h45.7v11.8h-45.7z"/>
<path fill="#084990" d="M1440.1,622.2h11.7v11.8h-11.7zM1462.7,622.2h79.7v11.8h-79.7zM1553.4,622.2h11.7v11.8h-11.7zM1530.7,610.7h11.7v11.8h-11.7zM1553.4,610.7h34.3v11.8h-34.3zM1519.4,599.2h11.7v11.8h-11.7zM1542.1,599.2h34.3v11.8h-34.3zM1485.4,587.7h57v11.8h-57zM1440.1,576.2h11.7v11.8h-11.7z"/>
<path fill="#08478d" d="M1451.4,622.2h11.7v11.8h-11.7zM1440.1,610.7h11.7v11.8h-11.7zM1462.7,610.7h68.3v11.8h-68.3zM1542.1,610.7h11.7v11.8h-11.7zM1462.7,599.2h57v11.8h-57zM1530.7,599.2h11.7v11.8h-11.7zM1440.1,587.7h11.7v11.8h-11.7zM1462.7,587.7h23v11.8h-23zM1451.4,576.2h11.7v11.8h-11.7z"/>
<path fill="#08458a" d="M1451.4,610.7h11.7v11.8h-11.7zM1440.1,599.2h23v11.8h-23zM1451.4,587.7h11.7v11.8h-11.7z"/>
</g>
<g clip-path="url(#c2)">
<polygon fill="rgb(174,84,48)" fill-opacity="0.5" points="1437.3,544.7 1489,546.5 1550,549 1607.6,551.5 1660,553.3 1700,554.3 1759.3,553.3 1798.8,551 1858.1,545.5 1913.4,538.5 1943.1,534.2 1971.7,533.6 1971.7,626.9 1943.1,630.3 1913.4,634 1858.1,640 1798.8,644.6 1759.3,646.5 1700,648.2 1660,649.8 1607.6,650 1550,649 1489,647.5 1437.3,645.5"/>
<line x1="1417.4" x2="1984.0" y1="596.4" y2="596.4" stroke="#000" stroke-width="3.3" stroke-dasharray="15.6 14.73"/>
<polyline fill="none" stroke="rgb(186,38,38)" stroke-width="2.9" stroke-linejoin="round" points="1437.3,595.1 1489,598.7 1550,600.8 1607.6,602.6 1660,604.3 1700,604.7 1759.3,605.3 1798.8,603.8 1858.1,599.4 1913.4,593.3 1943.1,588.5 1971.7,586.6"/>
</g>
<path clip-path="url(#t0)" d="M173,186.4V186.4H184.3V186.4H195.7V186.3H207V186.3H218.3V186.2H229.7V186.1H241V186H252.3V185.7H263.7V185.4H275V184.9H286.3V184H297.7V182.6H309V180H320.3V176.3H331.6V170.5H343V161.7H354.3V149.6H365.6V132.9H377V111.6H388.3V85.5H399.6V59.5H411V37.9H422.3V28.7H433.6V32.3H445V47.7H456.3V68.8H467.6V90.7H479V110.6H490.3V127.3H501.6V141.3H513V151.3H524.3V158.6H535.6V164.2H547V168.9H558.3V172.6H569.6V175.3H581V177.6H592.3V179.3H603.6V180.6H614.9V181.6H626.3V182.4H637.6V183H648.9V183.6H660.3V184.1H671.6V184.5H682.9V184.9H694.3V185.1H705.6V185.4H716.9V185.5H728.3V185.7H739.6V186.4" fill="none" stroke="rgb(0,0,128)" stroke-width="3.1" stroke-linejoin="miter"/>
<path clip-path="url(#t1)" d="M794.9,186.4V185.7H806.2V184.3H817.6V182.2H828.9V180.1H840.2V178.1H851.6V175.7H862.9V173.6H874.2V171.4H885.6V169.4H896.9V167.6H908.2V165.8H919.6V164H930.9V162.2H942.2V160.4H953.5V158.9H964.9V157.3H976.2V156H987.5V154.6H998.9V153.3H1010.2V152.1H1021.5V150.8H1032.9V149.7H1044.2V148.6H1055.5V147.6H1066.9V146.6H1078.2V145.7H1089.5V144.8H1100.9V144H1112.2V143.3H1123.5V142.7H1134.9V142.2H1146.2V141.8H1157.5V141.4H1168.9V140.8H1180.2V141.2H1191.5V141.4H1202.9V141.7H1214.2V142H1225.5V142.5H1236.8V143.1H1248.2V143.9H1259.5V144.7H1270.8V145.5H1282.2V146.4H1293.5V147.6H1304.8V148.8H1316.2V150H1327.5V150.1H1338.8V148.8H1350.2V129.7H1361.5V186.4" fill="none" stroke="rgb(0,0,128)" stroke-width="3.1" stroke-linejoin="miter"/>
<path clip-path="url(#t2)" d="M1417.4,186.4V182.5H1428.7V155.3H1440.1V119.5H1451.4V117.7H1462.7V120.8H1474.1V122.4H1485.4V123.5H1496.7V124.3H1508.1V125H1519.4V125.7H1530.7V126.8H1542.1V127.7H1553.4V128.9H1564.7V129.9H1576V131.6H1587.4V133.1H1598.7V134.8H1610V136.5H1621.4V138H1632.7V140.3H1644V143.2H1655.4V145.5H1666.7V148.1H1678V150.4H1689.4V152.5H1700.7V154.6H1712V157.1H1723.4V159.5H1734.7V161.5H1746V163.4H1757.4V165.2H1768.7V166.9H1780V168.4H1791.4V169.9H1802.7V171.4H1814V172.6H1825.4V173.7H1836.7V174.7H1848V175.5H1859.3V176.2H1870.7V176.9H1882V177.6H1893.3V178.3H1904.7V178.8H1916V179.4H1927.3V179.9H1938.7V180.3H1950V180.6H1961.3V181.1H1972.7V181.5H1984V186.4" fill="none" stroke="rgb(0,0,128)" stroke-width="3.1" stroke-linejoin="miter"/>
<path d="M322.1,186.4v-10.3M322.1,14.5v10.3M471.2,186.4v-10.3M471.2,14.5v10.3M620.3,186.4v-10.3M620.3,14.5v10.3M173.0,143.4h10.3M739.6,143.4h-10.3M173.0,100.5h10.3M739.6,100.5h-10.3M173.0,57.5h10.3M739.6,57.5h-10.3" stroke="#000" stroke-width="1.3" fill="none"/>
<rect x="173.0" y="14.5" width="566.6" height="171.9" fill="none" stroke="#000" stroke-width="2.35"/>
<path d="M322.1,794.6v-10.3M322.1,219.8v10.3M471.2,794.6v-10.3M471.2,219.8v10.3M620.3,794.6v-10.3M620.3,219.8v10.3M173.0,695.5h10.3M739.6,695.5h-10.3M173.0,596.4h10.3M739.6,596.4h-10.3M173.0,497.3h10.3M739.6,497.3h-10.3M173.0,398.2h10.3M739.6,398.2h-10.3M173.0,299.1h10.3M739.6,299.1h-10.3" stroke="#000" stroke-width="1.3" fill="none"/>
<rect x="173.0" y="219.8" width="566.6" height="574.8" fill="none" stroke="#000" stroke-width="2.35"/>
<path d="M908.2,186.4v-10.3M908.2,14.5v10.3M1021.5,186.4v-10.3M1021.5,14.5v10.3M1134.9,186.4v-10.3M1134.9,14.5v10.3M1248.2,186.4v-10.3M1248.2,14.5v10.3M794.9,143.4h10.3M1361.5,143.4h-10.3M794.9,100.5h10.3M1361.5,100.5h-10.3M794.9,57.5h10.3M1361.5,57.5h-10.3" stroke="#000" stroke-width="1.3" fill="none"/>
<rect x="794.9" y="14.5" width="566.6" height="171.9" fill="none" stroke="#000" stroke-width="2.35"/>
<path d="M908.2,794.6v-10.3M908.2,219.8v10.3M1021.5,794.6v-10.3M1021.5,219.8v10.3M1134.9,794.6v-10.3M1134.9,219.8v10.3M1248.2,794.6v-10.3M1248.2,219.8v10.3M794.9,695.5h10.3M1361.5,695.5h-10.3M794.9,596.4h10.3M1361.5,596.4h-10.3M794.9,497.3h10.3M1361.5,497.3h-10.3M794.9,398.2h10.3M1361.5,398.2h-10.3M794.9,299.1h10.3M1361.5,299.1h-10.3" stroke="#000" stroke-width="1.3" fill="none"/>
<rect x="794.9" y="219.8" width="566.6" height="574.8" fill="none" stroke="#000" stroke-width="2.35"/>
<path d="M1530.7,186.4v-10.3M1530.7,14.5v10.3M1644.0,186.4v-10.3M1644.0,14.5v10.3M1757.4,186.4v-10.3M1757.4,14.5v10.3M1870.7,186.4v-10.3M1870.7,14.5v10.3M1417.4,143.4h10.3M1984.0,143.4h-10.3M1417.4,100.5h10.3M1984.0,100.5h-10.3M1417.4,57.5h10.3M1984.0,57.5h-10.3" stroke="#000" stroke-width="1.3" fill="none"/>
<rect x="1417.4" y="14.5" width="566.6" height="171.9" fill="none" stroke="#000" stroke-width="2.35"/>
<path d="M1530.7,794.6v-10.3M1530.7,219.8v10.3M1644.0,794.6v-10.3M1644.0,219.8v10.3M1757.4,794.6v-10.3M1757.4,219.8v10.3M1870.7,794.6v-10.3M1870.7,219.8v10.3M1417.4,695.5h10.3M1984.0,695.5h-10.3M1417.4,596.4h10.3M1984.0,596.4h-10.3M1417.4,497.3h10.3M1984.0,497.3h-10.3M1417.4,398.2h10.3M1984.0,398.2h-10.3M1417.4,299.1h10.3M1984.0,299.1h-10.3" stroke="#000" stroke-width="1.3" fill="none"/>
<rect x="1417.4" y="219.8" width="566.6" height="574.8" fill="none" stroke="#000" stroke-width="2.35"/>
<rect x="2016.8" y="219.8" width="33.9" height="574.8" fill="url(#cb)"/>
<path d="M2050.7,794.6h-10.3M2050.7,657.7h-10.3M2050.7,520.9h-10.3M2050.7,384.0h-10.3M2050.7,247.2h-10.3" stroke="#000" stroke-width="1.3" fill="none"/>
<rect x="2016.8" y="219.8" width="33.9" height="574.8" fill="none" stroke="#000" stroke-width="2"/>
<g font-family="'Liberation Serif', serif" font-size="35" fill="#000">
<text x="147.6" y="196.4" text-anchor="end">0</text>
<text x="147.6" y="153.4" text-anchor="end">50000</text>
<text x="147.6" y="110.5" text-anchor="end">100000</text>
<text x="147.6" y="67.5" text-anchor="end">150000</text>
<text x="147.6" y="24.5" text-anchor="end">200000</text>
<text x="147.6" y="804.6" text-anchor="end">0.0</text>
<text x="147.6" y="705.5" text-anchor="end">0.5</text>
<text x="147.6" y="606.4" text-anchor="end">1.0</text>
<text x="147.6" y="507.3" text-anchor="end">1.5</text>
<text x="147.6" y="408.2" text-anchor="end">2.0</text>
<text x="147.6" y="309.1" text-anchor="end">2.5</text>
<text x="173.0" y="845.3" text-anchor="middle">0.0</text>
<text x="322.1" y="845.3" text-anchor="middle">0.5</text>
<text x="471.2" y="845.3" text-anchor="middle">1.0</text>
<text x="620.3" y="845.3" text-anchor="middle">1.5</text>
<text x="794.9" y="845.3" text-anchor="middle">0.0</text>
<text x="908.2" y="845.3" text-anchor="middle">0.2</text>
<text x="1021.5" y="845.3" text-anchor="middle">0.4</text>
<text x="1134.9" y="845.3" text-anchor="middle">0.6</text>
<text x="1248.2" y="845.3" text-anchor="middle">0.8</text>
<text x="1361.5" y="845.3" text-anchor="middle">1.0</text>
<text x="1417.4" y="845.3" text-anchor="middle">0.0</text>
<text x="1530.7" y="845.3" text-anchor="middle">0.2</text>
<text x="1644.0" y="845.3" text-anchor="middle">0.4</text>
<text x="1757.4" y="845.3" text-anchor="middle">0.6</text>
<text x="1870.7" y="845.3" text-anchor="middle">0.8</text>
<text x="1984.0" y="845.3" text-anchor="middle">1.0</text>
<text x="2075.2" y="804.6">0</text>
<text x="2075.2" y="667.7">1</text>
<text x="2075.2" y="530.9">2</text>
<text x="2075.2" y="394.0">3</text>
<text x="2075.2" y="257.2">4</text>
<text transform="translate(384.3,899.9) scale(1.12,1)" font-size="33" font-style="italic">v</text>
<text x="402.6" y="904.7" font-size="25.5" letter-spacing="1.0">tot</text>
<text x="436.0" y="908.3" font-size="52">/</text>
<text transform="translate(452.1,899.9) scale(1.12,1)" font-size="33" font-style="italic">v</text>
<text x="469.4" y="904.7" font-size="25.5" letter-spacing="0.15">200m</text>
<text transform="translate(1030.9,899.9) scale(1.12,1)" font-size="33" font-style="italic">v</text>
<text x="1048.8" y="904.7" font-size="25.5">t</text>
<text x="1060.1" y="908.3" font-size="52">/</text>
<text transform="translate(1075.9,899.9) scale(1.12,1)" font-size="33" font-style="italic">v</text>
<text x="1093.6" y="904.7" font-size="25.5" letter-spacing="1.0">tot</text>
<text transform="translate(1619.5,901.2) scale(1.12,1)" font-size="33" font-style="italic">r</text>
<text x="1635.4" y="906.0" font-size="25.5" letter-spacing="1.1">peri</text>
<text x="1680.0" y="909.6" font-size="52">/</text>
<text transform="translate(1697.5,901.2) scale(1.17,1)" font-size="34" font-style="italic">R</text>
<text x="1723.4" y="906.0" font-size="25.5" letter-spacing="0.15">200m</text>
<g transform="translate(40.2,566) rotate(-90)">
<text transform="translate(0.3,0.0) scale(1.12,1)" font-size="33" font-style="italic">r</text>
<text x="14.6" y="4.8" font-size="25.5" letter-spacing="0.4">sp</text>
<text x="40.3" y="8.4" font-size="52">/</text>
<text transform="translate(58.0,0.0) scale(1.17,1)" font-size="34" font-style="italic">R</text>
<text x="83.2" y="7.6" font-size="25.5" letter-spacing="0.4">sp</text>
<text x="87.8" y="-12.8" font-size="25.5" letter-spacing="0.2">mn</text>
</g>
<g transform="translate(24.3,114.6) rotate(-90)">
<text transform="translate(0.0,0.0) scale(1.17,1)" font-size="37" font-style="italic">N</text>
</g>
<g transform="translate(2122.7,413.3) rotate(90)">
<text x="0.3" y="0.0" font-size="35" letter-spacing="0.3">log</text>
<text x="45.3" y="7.7" font-size="24.5" letter-spacing="-0.6">10</text>
<text x="70.6" y="-1.0" font-size="38">(</text>
<text transform="translate(86.6,0.0) scale(1.12,1)" font-size="37" font-style="italic">N</text>
<text x="128.2" y="0.8" font-size="37">+</text>
<text x="158.4" y="0.0" font-size="35">1</text>
<text x="175.5" y="-1.0" font-size="38">)</text>
</g>
</g>
</svg>
</body></html>
